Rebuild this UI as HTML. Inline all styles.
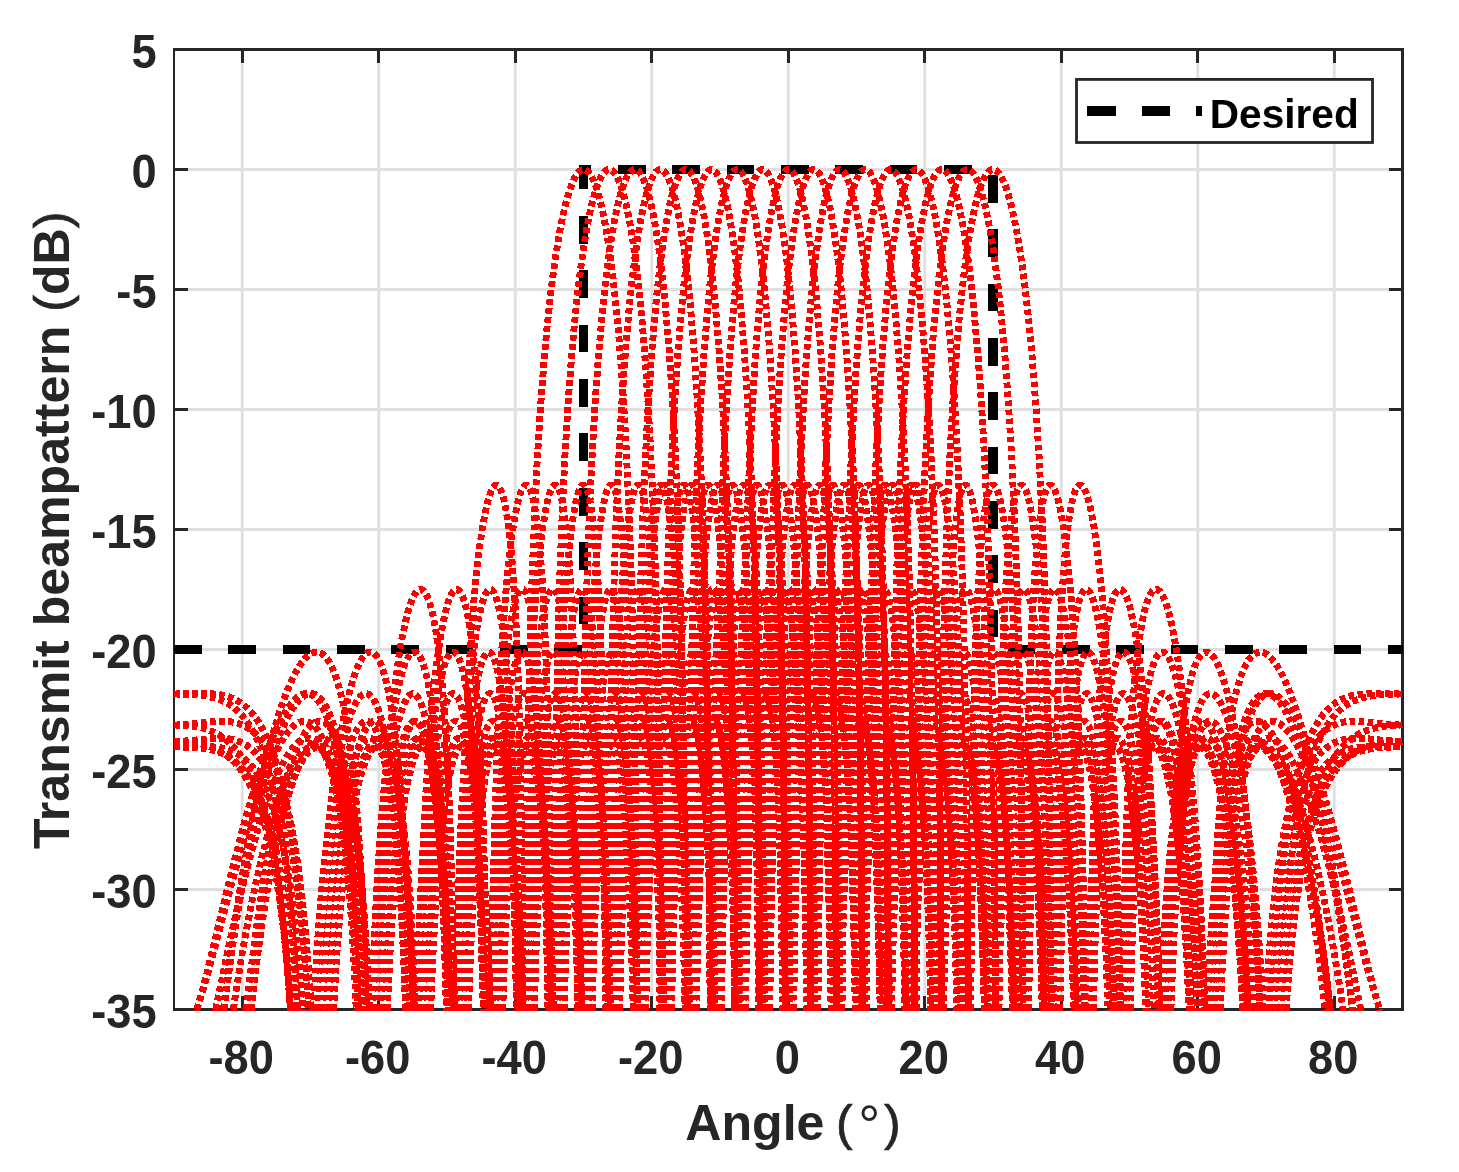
<!DOCTYPE html>
<html><head><meta charset="utf-8"><title>Transmit beampattern</title>
<style>
html,body{margin:0;padding:0;background:#fff;}
svg{display:block;}
text{font-family:"Liberation Sans",sans-serif;font-weight:bold;fill:#262626;}
.tk{font-size:48.8px;}
.lb{font-size:50.1px;}
.rg{font-weight:normal;stroke:#262626;stroke-width:0.7px;}
.lg{font-size:41.3px;fill:#000;}
</style></head><body>
<svg width="1459" height="1172" viewBox="0 0 1459 1172">
<rect x="0" y="0" width="1459" height="1172" fill="#fff"/>
<defs><clipPath id="ax"><rect x="174.0" y="49.5" width="1229.0" height="961.5"/></clipPath></defs>
<path d="M242.25 49.5V1009.5M378.75 49.5V1009.5M515.25 49.5V1009.5M651.75 49.5V1009.5M788.25 49.5V1009.5M924.75 49.5V1009.5M1061.25 49.5V1009.5M1197.75 49.5V1009.5M1334.25 49.5V1009.5M174.0 169.50H1402.5M174.0 289.50H1402.5M174.0 409.50H1402.5M174.0 529.50H1402.5M174.0 649.50H1402.5M174.0 769.50H1402.5M174.0 889.50H1402.5" stroke="#dfdfdf" stroke-width="2.8" fill="none"/>
<path d="M241 48h3v15h-3zM241 996h3v15h-3zM377 48h3v15h-3zM377 996h3v15h-3zM514 48h3v15h-3zM514 996h3v15h-3zM650 48h3v15h-3zM650 996h3v15h-3zM787 48h3v15h-3zM787 996h3v15h-3zM923 48h3v15h-3zM923 996h3v15h-3zM1060 48h3v15h-3zM1060 996h3v15h-3zM1196 48h3v15h-3zM1196 996h3v15h-3zM1333 48h3v15h-3zM1333 996h3v15h-3zM173 168h15v3h-15zM1389 168h15v3h-15zM173 288h15v3h-15zM1389 288h15v3h-15zM173 408h15v3h-15zM1389 408h15v3h-15zM173 528h15v3h-15zM1389 528h15v3h-15zM173 648h15v3h-15zM1389 648h15v3h-15zM173 768h15v3h-15zM1389 768h15v3h-15zM173 888h15v3h-15zM1389 888h15v3h-15zM173 48H1404V51H173zM173 1008H1404V1011H173zM173 48h2V1011h-2zM1401 48h3V1011h-3z" fill="#262626" shape-rendering="crispEdges"/>
<g clip-path="url(#ax)" fill="none" shape-rendering="crispEdges">
<path d="M174.0 649.50H583.50V169.50H993.00V649.50H1404.5" stroke="#000" stroke-width="9.6" stroke-dasharray="27.7 26.65" stroke-linejoin="miter"/>
<g stroke="#ff0000" stroke-width="6.9" stroke-dasharray="5.63 3.414" stroke-linejoin="round">
<path d="M223.4 1009.5L228.1 971.3L233.1 934.8L238.4 899.8L243.9 866.3L249.6 834.7L255.6 805.0L261.7 777.2L267.9 751.9L274.2 729.2L280.5 709.0L286.8 691.8L290.0 684.3L293.0 677.6L296.1 671.6L299.1 666.5L302.1 662.0L305.0 658.5L308.0 655.6L310.8 653.6L313.6 652.4L316.4 652.0L318.9 652.4L321.4 653.4L323.7 655.1L326.1 657.6L328.4 660.8L330.7 664.7L332.9 669.3L335.0 674.6L337.0 680.6L339.0 687.2L342.9 702.8L346.3 720.8L349.6 741.9L352.5 765.1L355.2 790.9L357.7 819.8L359.8 851.3L361.8 886.2L363.5 923.4L365.0 963.9L366.4 1009.5M376.6 1009.5L377.9 961.0L379.3 917.0L380.9 875.8L382.8 837.5L384.8 801.9L387.1 768.0L389.7 736.9L392.4 708.5L395.5 681.7L398.7 658.3L402.1 637.9L405.7 620.5L407.6 613.2L409.4 606.9L411.2 601.6L413.1 597.2L415.0 593.7L416.8 591.2L418.7 589.8L420.5 589.3L422.2 589.7L423.9 591.0L425.5 593.1L427.1 596.2L428.7 600.0L430.3 604.8L431.8 610.3L433.3 616.9L436.1 632.2L438.7 650.7L441.1 672.2L443.3 697.6L445.2 724.2L447.0 754.5L448.6 787.5L450.0 824.9L451.2 864.9L452.3 909.7L454.0 1009.5M459.1 1009.5L460.0 948.9L461.0 892.0L462.2 841.7L463.5 794.5L465.1 750.5L466.9 708.5L469.0 670.2L471.2 635.3L473.8 602.0L476.6 572.6L479.6 547.0L482.8 525.2L484.5 516.0L486.2 507.8L487.9 500.9L489.6 495.2L491.3 490.8L493.0 487.6L494.7 485.6L495.5 485.2L496.3 485.0L497.1 485.1L497.8 485.5L499.3 487.1L500.8 489.8L502.2 493.5L503.6 498.2L504.9 504.1L507.5 518.6L509.8 537.0L511.9 559.1L513.8 584.8L515.6 615.4L517.1 648.5L518.5 686.8L519.6 728.7L520.6 773.1L522.1 877.0L523.1 1009.5M525.3 1009.5L526.0 903.2L527.1 805.6L528.4 722.5L529.9 650.4L531.9 582.7L534.4 518.5L537.2 460.2L540.6 406.1L544.6 354.1L546.8 329.7L549.2 307.2L551.6 286.1L554.2 266.3L556.9 248.3L559.6 232.2L562.4 217.9L565.3 205.1L568.3 194.4L571.3 185.5L574.3 178.6L575.8 175.8L577.4 173.5L578.9 171.8L580.4 170.5L582.0 169.7L583.5 169.5L585.0 169.7L586.4 170.4L587.9 171.6L589.4 173.2L590.9 175.4L592.3 178.0L595.2 184.6L598.0 192.9L600.7 203.1L603.4 215.0L606.0 228.7L608.5 244.1L610.9 260.9L613.2 279.6L615.4 300.1L617.6 321.8L619.5 344.8L623.2 395.9L626.3 450.0L628.9 508.1L631.1 571.1L632.9 641.4L634.3 715.9L635.5 801.2L636.4 899.0L637.0 1009.5M638.9 1009.5L639.7 878.9L641.0 775.8L642.7 690.4L643.8 652.4L645.0 618.7L646.4 587.7L648.0 561.2L649.7 538.7L651.6 519.5L653.7 504.5L655.8 493.7L656.9 490.0L658.1 487.2L659.3 485.6L659.9 485.2L660.5 485.0L661.1 485.2L661.7 485.6L663.0 487.5L664.3 490.6L665.6 494.9L666.9 500.6L668.1 507.1L670.6 523.9L673.0 545.5L675.2 570.6L677.2 599.8L679.1 632.0L680.7 666.9L682.1 704.0L683.4 744.9L684.6 790.2L686.4 891.1L687.7 1009.5M691.2 1009.5L692.4 909.5L693.9 827.2L695.8 756.5L698.2 699.5L699.7 674.2L701.2 652.0L702.9 633.4L704.6 617.8L706.6 605.3L708.5 596.3L709.6 593.2L710.6 591.0L711.6 589.7L712.6 589.3L713.7 589.8L714.8 591.2L715.9 593.7L716.9 596.9L719.0 606.3L721.1 619.3L723.1 635.7L725.0 655.9L726.8 679.0L728.4 704.9L729.9 733.6L731.3 764.9L733.6 834.9L735.4 916.9L736.8 1009.5M741.8 1009.5L743.0 929.2L744.6 857.8L746.7 796.9L749.1 747.6L750.4 726.2L751.9 706.9L753.5 690.7L755.2 676.8L757.0 666.0L758.8 658.2L759.7 655.6L760.7 653.6L761.6 652.4L762.6 652.0L763.5 652.4L764.6 653.7L765.5 655.6L766.5 658.4L768.4 666.4L770.2 677.3L772.0 691.1L773.7 707.8L775.4 727.4L776.9 749.1L779.6 800.6L781.8 860.3L783.7 929.6L785.1 1009.5M791.4 1009.5L792.8 937.3L794.5 875.2L796.6 822.4L799.0 777.3L800.4 758.2L801.8 741.5L803.3 727.4L805.0 715.1L806.7 705.6L808.4 698.9L809.3 696.5L810.2 694.8L811.0 693.8L811.9 693.5L812.9 693.9L813.8 695.0L814.7 696.8L815.6 699.2L817.3 706.2L819.0 715.7L820.7 727.5L822.3 742.4L823.9 759.8L825.3 779.0L827.9 823.5L830.2 877.0L832.0 937.5L833.6 1009.5M841.0 1009.5L842.5 944.0L844.3 887.4L846.4 838.6L848.9 797.7L850.2 780.2L851.7 764.9L853.2 751.8L854.7 740.9L856.4 732.3L858.1 726.0L858.9 724.0L859.8 722.4L860.6 721.5L861.5 721.2L862.4 721.5L863.3 722.5L864.1 724.1L865.0 726.2L866.7 732.4L868.4 741.3L870.0 752.4L871.6 765.8L873.1 781.3L874.5 799.1L877.1 840.3L879.4 889.3L881.3 946.1L882.8 1009.5M891.4 1009.5L892.9 947.3L894.8 894.6L897.0 848.8L899.4 811.1L900.8 794.7L902.3 779.7L903.9 767.0L905.4 756.8L907.1 748.8L908.8 742.9L909.6 741.0L910.5 739.4L911.3 738.6L912.2 738.3L913.1 738.5L914.0 739.4L914.9 740.9L915.7 742.9L917.4 748.7L919.1 756.9L920.7 767.2L922.3 779.6L923.9 794.7L925.3 811.2L927.9 849.2L930.2 895.3L932.2 948.5L933.8 1009.5M943.3 1009.5L945.0 951.5L946.9 899.3L949.3 854.3L951.9 816.6L953.3 800.8L954.9 786.3L956.6 774.0L958.2 764.3L959.9 756.5L961.7 750.9L962.6 748.9L963.4 747.6L964.3 746.7L965.2 746.5L966.2 746.8L967.1 747.7L968.0 749.1L968.8 751.0L970.6 756.7L972.4 764.7L974.1 774.7L975.7 786.8L977.4 801.5L978.9 817.6L981.6 854.9L984.1 900.3L986.1 951.3L987.8 1009.5M998.2 1009.5L1000.0 949.4L1002.1 898.5L1004.7 853.7L1007.5 816.4L1009.1 800.5L1010.8 786.1L1012.6 773.9L1014.4 764.2L1016.2 756.5L1018.1 750.9L1019.1 749.0L1020.0 747.6L1021.0 746.8L1022.0 746.5L1023.0 746.8L1024.0 747.6L1025.0 749.2L1026.0 751.1L1027.9 756.7L1029.8 764.6L1031.6 774.6L1033.5 787.1L1035.2 801.1L1036.8 817.2L1039.8 854.7L1042.5 899.7L1044.7 950.9L1046.6 1009.5M1057.9 1009.5L1060.0 947.5L1062.3 895.0L1065.2 848.7L1066.8 828.7L1068.5 810.2L1070.3 794.0L1072.2 779.4L1074.1 767.1L1076.3 756.6L1078.4 748.7L1080.6 743.0L1081.7 740.9L1082.8 739.4L1083.9 738.6L1085.1 738.3L1086.2 738.6L1087.4 739.5L1088.6 741.0L1089.6 742.9L1091.9 748.8L1094.1 757.0L1096.3 767.6L1098.4 779.9L1100.4 794.8L1102.3 811.5L1104.1 829.8L1105.8 850.3L1108.9 896.7L1111.5 949.6L1113.6 1009.5M1126.1 1009.5L1128.5 944.4L1130.0 914.2L1131.5 887.4L1133.1 862.5L1135.0 838.6L1136.9 816.8L1139.1 797.2L1141.3 779.7L1143.7 764.4L1146.2 751.5L1148.7 740.8L1151.5 732.2L1152.8 728.9L1154.3 726.1L1155.7 723.9L1157.1 722.4L1158.6 721.5L1160.0 721.2L1161.5 721.5L1163.0 722.5L1164.5 724.1L1166.0 726.3L1167.5 729.2L1168.9 732.6L1171.9 741.5L1174.7 752.9L1177.5 766.4L1180.1 781.8L1182.6 799.8L1185.0 819.9L1187.2 841.3L1189.2 864.7L1191.1 890.0L1192.9 917.5L1194.5 945.8L1197.3 1009.5M1212.6 1009.5L1214.3 970.5L1216.1 934.8L1218.2 901.9L1220.4 871.7L1222.9 843.5L1225.7 818.0L1228.6 795.0L1231.8 774.1L1235.3 755.4L1239.0 739.2L1242.9 725.3L1245.0 719.3L1247.1 713.9L1249.3 709.1L1251.5 705.1L1253.8 701.5L1256.1 698.6L1258.5 696.4L1260.9 694.8L1263.3 693.9L1265.9 693.5L1268.5 693.9L1271.2 694.9L1273.9 696.7L1276.7 699.1L1279.5 702.3L1282.3 706.0L1285.2 710.5L1288.0 715.7L1290.9 721.5L1293.8 728.1L1299.6 742.9L1305.5 760.5L1311.3 780.4L1317.0 802.3L1322.6 826.5L1328.0 852.7L1333.4 880.9L1338.4 910.4L1343.3 941.9L1348.0 975.0L1352.5 1009.5"/>
<path d="M174.0 694.0L184.5 694.2L193.5 694.6L201.0 695.3L207.6 696.3L213.7 697.7L219.2 699.5L224.4 701.7L229.3 704.4L234.0 707.8L238.5 711.8L242.8 716.4L246.8 721.5L250.7 727.5L254.4 734.1L257.9 741.3L261.2 749.2L264.6 758.4L267.8 768.5L270.8 779.6L273.7 791.3L276.4 804.0L279.0 817.7L281.5 832.3L283.8 847.9L285.9 864.0L288.0 881.6L291.7 919.6L294.9 962.2L297.6 1009.5M316.5 1009.5L318.3 970.7L320.3 933.3L322.6 898.4L325.1 865.1L327.8 834.3L330.8 805.2L334.0 778.4L337.5 753.9L341.2 730.8L345.1 710.7L349.1 693.3L353.3 678.7L355.4 672.5L357.5 667.1L359.7 662.4L361.8 658.7L363.9 655.8L366.1 653.7L368.2 652.4L370.2 652.0L372.1 652.4L374.0 653.5L375.9 655.3L377.7 657.9L379.5 661.2L381.3 665.3L383.0 670.0L384.6 675.4L387.8 688.5L390.8 704.3L393.6 722.7L396.2 743.9L398.5 767.0L400.7 793.3L402.7 822.3L404.5 853.9L406.1 887.9L407.5 926.1L408.7 966.6L409.8 1009.5M418.3 1009.5L419.4 963.2L420.6 918.4L422.0 876.0L423.6 837.6L425.4 801.6L427.3 767.9L429.5 736.7L431.9 708.0L434.6 681.2L437.4 657.9L440.4 637.4L443.5 620.6L446.7 607.1L448.3 601.7L449.9 597.3L451.6 593.7L453.3 591.3L454.9 589.8L456.6 589.3L458.1 589.7L459.6 591.0L461.1 593.2L462.5 596.1L463.9 600.1L465.4 605.0L468.0 616.9L470.5 632.3L472.9 651.1L475.1 672.9L477.1 697.6L478.9 724.9L480.4 754.4L481.9 787.5L483.2 824.5L484.3 866.0L485.3 909.0L486.8 1009.5M491.5 1009.5L493.2 894.3L494.3 842.4L495.6 793.7L497.1 748.4L498.7 708.1L500.6 669.4L502.8 634.1L505.1 601.3L507.7 572.0L510.5 546.4L513.5 524.6L516.6 507.6L518.2 500.7L519.8 495.2L521.4 490.6L523.0 487.5L524.5 485.7L525.4 485.2L526.1 485.0L526.9 485.2L527.5 485.6L528.9 487.2L530.3 489.8L531.6 493.7L532.9 498.5L534.2 504.2L536.5 518.8L538.7 537.2L540.8 560.0L542.6 585.5L544.2 615.6L545.6 649.1L546.8 685.5L547.9 726.7L548.9 773.4L550.3 878.7L551.3 1009.5M553.4 1009.5L554.1 900.8L555.0 805.3L556.3 722.5L557.8 650.0L559.7 579.2L562.1 516.3L564.8 458.3L568.0 404.3L571.9 352.2L574.0 328.3L576.2 306.3L578.5 285.5L581.0 266.0L583.5 248.2L586.2 231.9L588.9 217.4L591.6 205.0L594.5 194.2L597.4 185.4L600.3 178.4L601.7 175.7L603.2 173.4L604.7 171.8L606.2 170.5L607.7 169.7L609.1 169.5L610.5 169.7L612.0 170.4L613.4 171.6L614.8 173.3L616.3 175.5L617.6 178.0L620.4 184.7L623.2 193.2L625.8 203.4L628.4 215.4L630.9 229.2L633.4 244.8L635.7 261.7L638.0 280.4L640.1 301.0L642.2 322.7L644.2 346.5L647.7 397.4L650.7 452.0L653.3 510.5L655.4 573.8L657.1 643.9L658.6 721.4L659.7 805.3L660.5 898.7L661.1 1009.5M662.9 1009.5L663.8 878.4L665.0 773.8L666.7 687.7L667.7 651.7L668.9 617.5L670.3 587.5L671.9 560.5L673.6 537.8L675.4 519.1L677.4 504.4L679.5 493.7L680.6 490.0L681.8 487.2L682.9 485.5L683.5 485.2L684.1 485.0L684.7 485.2L685.3 485.6L686.6 487.4L687.9 490.6L689.1 494.8L690.4 500.5L691.6 507.2L694.0 523.8L696.2 544.3L698.4 569.6L700.5 599.0L702.3 631.6L704.0 667.0L705.4 704.8L706.7 746.6L707.8 789.9L709.6 892.5L710.9 1009.5M714.3 1009.5L715.4 912.1L716.9 828.0L718.8 758.3L721.2 700.2L722.7 674.5L724.2 652.8L725.8 633.9L727.6 618.0L729.4 605.7L731.4 596.5L732.4 593.3L733.4 591.0L734.5 589.7L735.5 589.3L736.5 589.7L737.6 591.1L738.7 593.6L739.7 596.7L741.8 606.2L743.9 619.2L745.9 635.8L747.7 655.4L749.5 678.5L751.1 704.6L752.6 732.0L753.9 763.2L756.2 833.1L758.1 914.7L759.5 1009.5M764.4 1009.5L765.7 929.0L767.3 857.4L769.3 796.4L771.7 747.0L773.1 725.7L774.6 706.4L776.2 690.2L777.9 676.4L779.7 665.7L781.4 658.2L782.3 655.6L783.3 653.6L784.2 652.4L785.2 652.0L786.1 652.4L787.2 653.7L788.1 655.7L789.1 658.5L791.0 666.5L792.8 677.4L794.6 691.3L796.3 708.0L797.9 727.7L799.4 749.4L802.2 801.0L804.4 860.9L806.3 930.4L807.7 1009.5M814.0 1009.5L815.4 937.2L817.1 875.3L819.2 822.6L821.6 777.5L823.0 758.4L824.5 741.1L826.0 727.1L827.6 715.0L829.3 705.5L831.0 698.9L831.9 696.5L832.8 694.8L833.7 693.8L834.6 693.5L835.5 693.9L836.4 695.0L837.3 696.7L838.2 699.2L840.0 706.0L841.8 715.8L843.5 728.2L845.1 743.1L846.7 760.6L848.1 779.7L850.7 824.2L853.0 877.4L854.9 940.1L856.4 1009.5M863.9 1009.5L865.4 945.2L867.2 886.9L869.3 838.7L871.8 798.1L873.2 780.7L874.7 764.8L876.2 751.3L877.8 740.6L879.4 732.2L881.1 726.0L882.0 724.0L882.8 722.4L883.7 721.5L884.6 721.2L885.5 721.5L886.4 722.5L887.3 724.1L888.2 726.3L889.9 732.8L891.6 741.7L893.3 752.7L894.9 765.9L896.4 782.0L897.9 799.7L900.5 840.4L902.7 888.5L904.6 943.9L906.3 1009.5M915.0 1009.5L916.5 949.5L918.4 895.4L920.7 848.9L923.2 810.9L924.5 794.9L926.0 780.1L927.6 767.5L929.3 757.1L931.0 748.8L932.7 743.0L933.6 740.9L934.4 739.5L935.3 738.6L936.2 738.3L937.2 738.6L938.1 739.5L938.9 741.0L939.8 743.1L941.6 749.1L943.3 757.2L945.0 767.3L946.6 780.0L948.2 794.8L949.7 811.7L952.3 850.0L954.7 896.5L956.7 948.6L958.4 1009.5M968.2 1009.5L969.9 950.0L971.9 898.0L974.3 853.4L977.0 816.1L978.5 800.1L980.1 786.2L981.7 774.3L983.4 764.4L985.2 756.6L987.1 750.9L987.9 749.0L988.9 747.6L989.8 746.8L990.7 746.5L991.7 746.8L992.7 747.7L993.6 749.2L994.5 751.1L996.3 756.7L998.2 764.8L1000.0 774.9L1001.7 787.1L1003.3 801.2L1004.9 817.4L1007.7 855.0L1010.3 899.9L1012.4 950.3L1014.2 1009.5M1025.0 1009.5L1026.9 950.1L1029.2 898.2L1031.8 853.2L1034.8 816.1L1036.5 800.3L1038.2 786.0L1040.0 774.3L1041.9 764.3L1043.9 756.5L1045.9 750.9L1046.9 749.0L1047.9 747.6L1049.0 746.7L1050.0 746.5L1051.0 746.7L1052.1 747.6L1053.1 749.1L1054.2 751.0L1056.2 756.7L1058.2 764.7L1060.2 774.9L1062.1 787.1L1064.0 801.5L1065.7 817.3L1067.3 835.2L1068.9 855.1L1071.7 899.7L1074.1 950.9L1076.1 1009.5M1088.1 1009.5L1090.3 948.0L1092.9 894.9L1096.0 848.8L1097.7 828.6L1099.5 810.1L1101.5 793.4L1103.6 779.0L1105.7 766.9L1107.9 756.6L1110.3 748.6L1112.6 742.8L1113.8 740.9L1115.0 739.4L1116.3 738.6L1117.5 738.3L1118.7 738.5L1120.0 739.5L1121.3 741.0L1122.5 743.1L1125.0 748.9L1127.5 757.2L1129.8 767.8L1132.2 780.5L1134.3 795.1L1136.5 811.9L1138.4 830.4L1140.3 850.5L1142.1 873.0L1143.7 897.1L1146.6 949.9L1148.9 1009.5M1163.0 1009.5L1164.3 975.0L1165.7 943.6L1167.3 914.5L1169.1 886.6L1171.0 861.2L1173.1 837.3L1175.4 815.9L1177.8 796.7L1180.3 779.3L1183.1 764.1L1185.9 751.2L1188.9 740.5L1192.1 732.1L1193.7 728.7L1195.4 726.0L1197.0 723.9L1198.7 722.4L1200.4 721.5L1202.1 721.2L1203.9 721.5L1205.7 722.5L1207.4 724.1L1209.3 726.4L1211.1 729.4L1212.9 732.9L1216.5 741.9L1219.9 753.3L1223.3 766.9L1226.6 782.9L1229.7 801.0L1232.6 820.9L1235.4 842.4L1237.9 866.0L1240.3 891.0L1242.5 917.5L1244.6 946.2L1246.5 977.5L1248.2 1009.5M1268.8 1009.5L1271.8 960.2L1275.3 916.2L1277.2 896.2L1279.3 876.6L1281.5 858.8L1283.9 841.5L1286.4 825.3L1289.1 810.3L1291.9 796.4L1294.8 783.4L1297.9 771.3L1301.2 760.2L1304.7 750.0L1308.3 740.8L1311.8 733.1L1315.5 726.1L1319.3 719.9L1323.3 714.5L1327.4 709.8L1331.9 705.6L1336.5 702.2L1341.4 699.4L1346.1 697.4L1351.0 695.8L1356.4 694.7L1362.3 694.0L1367.7 693.6L1374.0 693.5L1402.5 694.0"/>
<path d="M197.0 1009.5L201.8 992.4L207.4 971.3L229.8 879.0L240.6 836.9L246.2 816.4L251.7 797.6L257.0 780.4L262.2 764.8L268.3 748.2L274.2 733.8L280.0 721.5L285.7 711.4L288.4 707.2L291.1 703.6L293.8 700.5L296.4 698.0L299.0 696.0L301.6 694.7L304.1 693.8L306.5 693.5L309.1 693.8L311.6 694.8L314.0 696.3L316.4 698.5L318.7 701.4L320.9 704.8L323.1 708.8L325.3 713.6L327.4 718.7L329.4 724.7L333.3 738.5L336.9 754.6L340.3 773.1L343.3 793.7L346.2 817.1L348.8 842.6L351.2 871.0L353.3 901.3L355.2 934.4L356.9 970.5L358.4 1009.5M371.8 1009.5L373.2 968.8L374.7 932.1L376.4 896.9L378.3 863.7L380.5 832.5L382.7 804.1L385.2 777.0L387.9 752.6L390.8 729.8L393.9 709.9L397.1 692.7L400.5 678.2L403.9 666.9L405.6 662.4L407.3 658.6L409.1 655.7L410.8 653.6L412.5 652.4L414.2 652.0L415.9 652.4L417.4 653.5L419.0 655.3L420.6 658.0L422.1 661.3L423.6 665.4L426.5 675.9L429.3 689.1L431.8 705.1L434.2 723.6L436.5 745.1L438.5 768.9L440.4 794.8L442.1 823.7L443.6 854.5L445.0 888.5L446.2 925.8L448.2 1009.5M455.8 1009.5L457.8 917.4L459.1 874.5L460.5 835.5L462.1 800.1L463.9 766.5L465.8 735.2L468.0 707.0L470.3 680.5L472.9 657.2L475.5 637.2L478.3 620.3L481.3 606.8L482.7 601.6L484.2 597.2L485.7 593.8L487.2 591.3L488.7 589.8L490.2 589.3L491.6 589.7L493.0 591.0L494.4 593.2L495.7 596.4L497.0 600.3L498.3 605.2L500.8 617.3L503.1 632.7L505.3 651.4L507.3 673.7L509.2 698.7L510.8 726.1L512.2 755.4L513.6 789.7L514.8 825.7L516.7 907.8L518.1 1009.5M522.5 1009.5L524.1 892.0L525.1 840.4L526.4 791.5L527.7 747.8L529.3 706.7L531.1 668.6L533.1 633.5L535.3 600.6L537.8 571.2L540.4 546.1L543.2 524.6L546.0 507.7L547.5 500.8L549.0 495.1L550.5 490.7L552.0 487.6L553.5 485.7L554.3 485.2L555.0 485.0L555.7 485.2L556.4 485.6L557.7 487.2L559.0 489.9L560.2 493.5L561.5 498.3L562.7 504.3L564.9 518.8L567.1 537.6L569.0 560.0L570.7 585.8L572.2 616.2L573.6 649.8L574.8 685.9L576.7 771.7L578.0 875.2L579.0 1009.5M581.0 1009.5L581.7 901.4L582.5 808.0L583.7 725.2L585.2 649.2L587.0 580.4L589.3 516.4L592.0 457.6L595.0 403.9L598.8 351.6L603.0 305.6L605.2 284.7L607.5 265.7L610.0 247.8L612.5 231.8L615.1 217.5L617.8 205.0L620.5 194.3L623.3 185.4L626.1 178.5L627.5 175.8L629.0 173.5L630.4 171.8L631.8 170.5L633.3 169.8L634.7 169.5L636.1 169.8L637.5 170.5L638.9 171.6L640.2 173.3L641.6 175.4L642.9 178.0L645.7 184.6L648.3 193.1L650.9 203.3L653.5 215.7L656.0 229.5L658.4 245.1L660.7 262.4L662.9 281.1L665.0 301.5L668.9 346.5L672.4 397.6L675.2 450.8L677.8 510.3L679.9 575.0L681.6 643.9L682.9 718.8L684.0 803.5L684.9 898.2L685.5 1009.5M687.2 1009.5L688.1 879.7L689.3 773.0L691.0 686.1L692.0 649.8L693.2 617.2L694.5 586.8L696.0 560.6L697.7 538.3L699.5 519.2L701.5 504.3L703.6 493.8L704.6 490.0L705.7 487.3L706.9 485.6L707.4 485.2L708.1 485.0L708.7 485.2L709.3 485.6L710.5 487.5L711.8 490.7L713.0 495.0L714.3 500.5L715.5 507.3L717.9 524.2L720.1 545.1L722.3 570.0L724.2 598.9L726.1 631.9L727.6 666.2L729.1 704.2L730.4 746.4L731.5 790.2L733.2 889.6L734.5 1009.5M738.0 1009.5L739.0 911.0L740.5 826.6L742.5 756.9L744.8 700.2L746.2 674.3L747.7 652.5L749.3 633.6L751.1 618.2L752.9 605.7L754.9 596.5L755.8 593.5L756.9 591.1L757.9 589.7L758.9 589.3L759.9 589.7L761.0 591.1L762.1 593.5L763.1 596.7L765.2 606.2L767.3 619.3L769.3 636.1L771.1 655.8L772.8 678.2L774.5 704.2L775.9 731.7L777.3 762.9L779.6 833.0L781.4 914.9L782.8 1009.5M787.8 1009.5L789.0 927.9L790.6 856.6L792.7 795.8L795.1 746.6L796.4 725.3L797.9 706.1L799.5 690.0L801.2 676.2L803.0 665.5L804.8 658.1L805.7 655.5L806.6 653.5L807.6 652.4L808.5 652.0L809.5 652.4L810.5 653.7L811.5 655.7L812.4 658.5L814.3 666.5L816.2 677.5L817.9 691.3L819.6 708.0L821.3 727.6L822.8 749.3L825.5 800.6L827.8 860.0L829.6 928.7L831.1 1009.5M837.4 1009.5L838.8 938.0L840.5 876.2L842.6 822.0L845.1 777.4L846.5 758.4L848.0 741.2L849.5 727.2L851.1 715.2L852.8 705.7L854.5 699.1L855.4 696.7L856.3 694.9L857.2 693.9L858.1 693.5L859.0 693.9L860.0 694.9L860.9 696.8L861.8 699.2L863.6 706.0L865.4 715.6L867.1 727.8L868.7 742.5L870.3 759.6L871.8 779.3L874.4 824.4L876.7 877.0L878.6 938.6L880.2 1009.5M887.8 1009.5L889.3 944.2L891.2 886.9L893.4 838.0L895.8 798.1L897.2 780.9L898.7 765.2L900.2 751.9L901.9 740.8L903.6 732.1L905.3 726.1L906.2 723.9L907.1 722.4L908.0 721.5L908.8 721.2L909.8 721.5L910.7 722.5L911.6 724.1L912.5 726.3L914.2 732.7L915.9 741.2L917.7 752.5L919.3 766.0L920.9 781.7L922.3 798.9L925.0 840.8L927.3 889.6L929.3 946.4L930.9 1009.5M939.8 1009.5L941.4 949.3L943.4 894.8L945.7 848.3L948.3 810.4L949.7 794.1L951.3 779.2L952.9 766.6L954.6 756.6L956.3 748.7L958.1 742.9L958.9 740.9L959.8 739.4L960.7 738.6L961.7 738.3L962.6 738.6L963.5 739.5L964.5 741.0L965.4 743.1L967.1 748.8L968.9 756.9L970.6 767.2L972.3 779.9L974.0 794.9L975.5 811.3L978.3 850.2L980.7 896.5L982.8 948.6L984.5 1009.5M994.6 1009.5L996.4 949.8L998.5 898.1L1001.0 853.8L1003.8 816.8L1005.4 800.6L1007.0 786.6L1008.7 774.6L1010.5 764.6L1012.3 756.8L1014.2 751.0L1015.2 749.1L1016.1 747.6L1017.1 746.8L1018.1 746.5L1019.1 746.7L1020.1 747.6L1021.1 749.1L1022.1 751.1L1024.0 756.7L1025.9 764.7L1027.7 774.7L1029.6 787.2L1031.3 801.3L1032.9 817.4L1035.9 854.9L1038.6 899.9L1040.8 951.0L1042.7 1009.5M1054.2 1009.5L1056.1 950.7L1058.5 898.6L1061.3 853.8L1062.9 833.9L1064.5 816.3L1066.3 800.2L1068.1 786.2L1070.1 774.4L1072.1 764.3L1074.2 756.4L1076.3 750.9L1077.4 749.0L1078.5 747.6L1079.6 746.7L1080.7 746.5L1081.8 746.7L1083.0 747.6L1084.1 749.2L1085.2 751.2L1087.4 756.8L1089.6 764.8L1091.7 775.0L1093.7 787.2L1095.7 801.5L1097.6 817.3L1099.3 835.3L1101.0 855.4L1104.0 899.6L1106.6 950.8L1108.8 1009.5M1122.0 1009.5L1124.4 947.4L1127.2 894.1L1128.9 870.1L1130.7 847.9L1132.6 827.5L1134.6 809.6L1136.7 793.0L1139.0 778.8L1141.4 766.6L1143.8 756.5L1146.4 748.5L1147.7 745.4L1149.1 742.8L1150.5 740.8L1151.8 739.4L1153.2 738.5L1154.5 738.3L1155.9 738.6L1157.3 739.5L1158.8 741.0L1160.2 743.1L1161.6 745.8L1163.0 749.0L1165.8 757.4L1168.5 768.0L1171.1 780.5L1173.7 795.3L1176.1 812.3L1178.4 830.7L1180.6 851.4L1182.6 874.0L1184.4 897.5L1186.2 923.7L1187.8 950.5L1190.5 1009.5M1207.2 1009.5L1208.7 975.4L1210.5 943.1L1212.5 912.9L1214.7 885.0L1217.1 859.2L1219.7 835.6L1222.5 814.2L1225.5 795.0L1228.7 778.0L1232.1 762.9L1235.8 750.2L1239.6 739.8L1241.6 735.5L1243.6 731.6L1245.7 728.5L1247.8 725.8L1249.9 723.8L1252.1 722.3L1254.3 721.5L1256.6 721.2L1259.0 721.5L1261.4 722.5L1263.9 724.1L1266.3 726.4L1268.9 729.3L1271.4 732.8L1273.9 737.0L1276.5 741.9L1279.0 747.3L1281.6 753.4L1286.7 767.3L1291.8 783.4L1296.8 801.8L1301.6 822.2L1306.3 844.3L1310.8 868.3L1315.0 893.5L1319.0 920.4L1322.9 948.9L1326.4 978.6L1329.7 1009.5"/>
<path d="M174.0 725.0L181.7 725.2L189.1 725.8L195.9 726.8L202.3 728.1L208.1 729.9L213.4 732.0L218.5 734.5L223.3 737.6L227.8 741.1L232.1 745.1L236.2 749.6L240.2 754.8L244.0 760.5L247.5 766.7L250.9 773.6L254.2 781.1L257.5 789.7L260.5 798.8L263.5 808.6L266.3 819.2L268.9 830.5L271.5 842.5L273.8 855.2L276.2 869.0L280.4 898.9L284.2 932.0L287.5 969.1L290.4 1009.5M313.5 1009.5L315.4 975.0L317.5 942.3L319.9 911.4L322.4 881.6L325.2 854.4L328.2 828.4L331.4 804.4L334.7 782.7L338.3 762.5L342.1 744.8L346.0 729.4L349.9 716.7L351.9 711.4L354.0 706.6L356.0 702.6L358.0 699.4L360.0 696.8L362.0 695.0L364.0 693.9L366.0 693.5L367.8 693.9L369.7 694.9L371.4 696.5L373.2 698.8L375.0 701.8L376.7 705.4L378.3 709.6L380.0 714.5L383.1 726.1L386.1 740.0L388.9 756.6L391.4 775.3L393.8 796.2L396.0 819.2L398.1 844.9L399.9 872.6L401.6 903.3L403.1 936.0L404.5 971.9L405.7 1009.5M416.7 1009.5L419.2 931.2L420.6 896.2L422.2 862.5L424.0 831.6L426.0 802.3L428.1 775.8L430.3 751.7L432.8 729.6L435.5 709.5L438.3 692.1L441.1 677.9L444.1 666.7L445.6 662.3L447.1 658.6L448.6 655.7L450.1 653.6L451.6 652.4L453.1 652.0L454.6 652.4L455.9 653.5L457.4 655.4L458.7 658.0L460.1 661.4L461.4 665.4L464.0 675.9L466.5 689.2L468.8 705.3L471.0 724.2L472.9 745.3L474.8 769.2L476.4 794.8L478.0 824.4L479.4 855.5L481.7 926.4L483.5 1009.5M490.4 1009.5L492.2 915.7L494.7 835.4L496.1 800.0L497.8 766.3L499.6 735.6L501.5 706.9L503.7 680.5L506.0 657.3L508.6 636.7L511.2 619.9L513.9 606.5L515.3 601.2L516.6 597.0L518.0 593.6L519.4 591.1L520.8 589.7L522.1 589.3L523.4 589.7L524.7 591.1L526.0 593.3L527.3 596.4L528.5 600.4L529.7 605.0L532.0 617.2L534.2 632.7L536.2 651.5L538.1 673.6L539.8 698.2L541.4 726.2L542.8 755.9L544.1 790.7L545.1 827.0L546.9 908.3L548.3 1009.5M552.4 1009.5L553.9 890.8L554.9 840.1L556.1 791.3L557.4 747.4L558.9 706.1L560.6 667.5L562.4 633.2L564.6 599.7L566.9 570.7L569.4 545.7L572.0 524.3L574.8 507.5L576.2 500.6L577.6 495.0L579.1 490.6L580.5 487.5L581.9 485.6L582.6 485.2L583.3 485.0L584.0 485.2L584.6 485.6L585.8 487.1L587.0 489.8L588.3 493.5L589.4 498.2L590.6 504.1L592.8 518.8L594.8 537.7L596.7 560.3L598.3 586.2L599.8 616.5L601.1 649.8L602.2 685.1L604.0 770.6L605.4 878.8L606.3 1009.5M608.2 1009.5L608.9 897.1L609.7 808.3L610.9 722.9L612.3 648.1L614.1 579.7L616.3 515.6L618.9 456.5L621.8 403.5L625.4 351.5L629.4 305.6L631.6 284.7L633.9 265.6L636.3 247.7L638.7 231.7L641.2 217.4L643.8 204.9L646.5 194.1L649.2 185.3L652.0 178.4L653.3 175.7L654.8 173.4L656.1 171.7L657.5 170.5L658.9 169.7L660.3 169.5L661.6 169.7L663.0 170.5L664.4 171.7L665.7 173.4L668.4 178.1L671.1 184.8L673.7 193.2L676.2 203.5L678.7 215.8L681.1 229.5L683.5 245.4L685.7 262.6L687.9 281.6L690.0 301.8L693.8 347.0L697.2 398.1L700.0 450.9L702.5 509.7L704.5 573.0L706.2 642.5L707.6 718.3L708.7 804.3L709.5 901.2L710.1 1009.5M711.8 1009.5L712.6 879.8L713.9 772.0L715.5 687.2L716.5 650.3L717.7 617.1L719.0 586.4L720.5 560.0L722.2 537.6L724.0 519.1L725.9 504.1L728.0 493.5L729.0 490.0L730.1 487.2L731.2 485.6L731.7 485.2L732.4 485.0L733.0 485.2L733.6 485.6L734.8 487.5L736.0 490.6L737.3 494.9L738.5 500.4L739.7 507.2L742.1 524.2L744.4 545.4L746.5 570.7L748.5 599.9L750.2 632.1L751.8 666.7L753.2 705.2L755.6 789.4L757.3 889.1L758.6 1009.5M762.0 1009.5L763.1 908.8L764.6 827.9L766.5 757.4L768.8 700.3L770.2 674.3L771.7 652.4L773.4 633.4L775.1 618.0L776.9 605.6L778.9 596.4L779.9 593.3L780.9 591.0L781.9 589.7L782.9 589.3L784.0 589.7L785.0 591.2L786.1 593.7L787.2 596.9L789.3 606.6L791.3 619.8L793.3 636.7L795.1 656.6L796.8 679.2L798.5 705.5L799.9 733.2L801.3 764.7L803.6 835.6L805.4 915.0L806.8 1009.5M811.7 1009.5L813.0 928.5L814.6 857.1L816.6 796.2L819.0 747.0L820.4 725.7L821.9 706.5L823.5 690.3L825.2 676.5L826.9 665.8L828.8 658.1L829.7 655.5L830.6 653.5L831.6 652.4L832.5 652.0L833.5 652.4L834.5 653.7L835.5 655.7L836.4 658.4L838.3 666.3L840.3 677.6L842.1 691.9L843.8 708.6L845.4 728.2L846.9 749.9L849.7 800.9L851.9 859.9L853.8 930.9L855.3 1009.5M861.7 1009.5L863.1 936.6L864.8 875.7L866.9 822.1L869.4 777.9L870.8 759.0L872.3 741.9L873.8 727.4L875.5 715.4L877.2 706.0L879.0 699.1L879.8 696.7L880.8 694.9L881.7 693.9L882.6 693.5L883.6 693.9L884.6 695.0L885.5 696.9L886.4 699.3L888.2 706.3L890.0 715.9L891.7 728.0L893.4 743.1L895.0 760.1L896.5 779.5L899.2 823.8L901.5 877.0L903.5 940.0L905.0 1009.5M912.8 1009.5L914.3 945.0L916.2 888.4L918.3 839.9L920.9 798.3L922.4 780.6L923.9 765.3L925.4 752.1L927.1 740.9L928.8 732.3L930.6 726.1L931.5 724.0L932.4 722.4L933.3 721.5L934.2 721.2L935.1 721.5L936.1 722.4L937.0 724.1L937.9 726.2L939.8 732.6L941.5 741.3L943.2 752.2L945.0 765.9L946.6 781.9L948.1 799.5L950.8 840.4L953.2 889.2L955.3 946.2L956.9 1009.5M966.1 1009.5L967.7 947.8L969.7 895.1L972.0 849.7L974.8 810.8L976.3 794.2L977.8 779.8L979.5 767.4L981.3 756.8L983.0 748.8L984.9 742.9L985.8 741.0L986.7 739.5L987.7 738.6L988.6 738.3L989.6 738.6L990.5 739.4L991.5 740.9L992.5 743.0L994.3 748.8L996.1 756.9L997.9 767.1L999.7 779.8L1001.4 794.8L1003.0 811.2L1005.9 850.5L1008.4 896.2L1010.6 949.6L1012.4 1009.5M1023.0 1009.5L1024.8 950.8L1027.1 898.1L1029.7 853.6L1032.6 816.7L1034.2 800.6L1035.9 786.7L1037.7 774.8L1039.6 764.6L1041.6 756.6L1043.6 751.0L1044.6 749.0L1045.6 747.6L1046.6 746.8L1047.7 746.5L1048.7 746.7L1049.8 747.6L1050.8 749.1L1051.8 751.1L1053.9 756.7L1055.9 764.8L1057.9 775.0L1059.8 787.3L1061.7 801.6L1063.4 817.5L1065.0 835.3L1066.6 855.2L1069.4 899.6L1071.8 950.3L1073.8 1009.5M1086.0 1009.5L1088.2 949.6L1090.7 898.6L1093.7 854.0L1095.4 833.9L1097.2 816.3L1099.1 800.2L1101.1 786.4L1103.2 774.3L1105.4 764.4L1107.7 756.6L1110.0 751.0L1111.1 749.1L1112.4 747.6L1113.5 746.8L1114.8 746.5L1116.0 746.7L1117.2 747.6L1118.4 749.0L1119.7 751.1L1122.1 756.9L1124.5 764.9L1126.8 775.0L1129.1 787.1L1131.3 801.4L1133.4 817.9L1135.4 836.1L1137.2 855.8L1138.9 876.8L1140.6 900.2L1143.4 951.1L1145.9 1009.5M1160.7 1009.5L1163.4 946.9L1165.0 919.2L1166.7 893.6L1168.5 870.0L1170.6 847.6L1172.8 827.4L1175.1 809.2L1177.5 793.0L1180.2 778.6L1183.0 766.2L1185.9 756.3L1188.9 748.4L1190.4 745.4L1191.9 742.8L1193.5 740.8L1195.2 739.4L1196.7 738.6L1198.4 738.3L1200.1 738.6L1201.8 739.5L1203.5 741.0L1205.2 743.1L1206.9 745.8L1208.6 749.2L1211.9 757.4L1215.3 768.1L1218.6 781.1L1221.7 796.1L1224.7 813.0L1227.6 831.8L1230.2 852.0L1232.8 874.1L1235.2 898.1L1237.3 923.3L1239.4 950.6L1241.2 978.9L1242.9 1009.5M1265.3 1009.5L1268.4 962.9L1272.0 920.9L1274.1 901.2L1276.2 883.2L1278.4 866.3L1280.9 850.0L1283.5 834.7L1286.2 820.6L1289.1 807.6L1292.1 795.6L1295.2 784.6L1298.6 774.5L1302.0 765.3L1305.7 757.0L1309.1 750.5L1312.7 744.6L1316.4 739.4L1320.3 734.9L1324.4 731.1L1328.7 728.0L1333.2 725.5L1337.9 723.5L1342.0 722.4L1346.3 721.6L1351.0 721.2L1356.1 721.2L1365.2 721.8L1389.1 724.4L1395.9 724.9L1402.5 725.0"/>
<path d="M196.7 1009.5L202.2 992.5L208.5 970.8L231.8 883.1L242.3 845.6L247.4 828.2L252.5 812.1L257.4 797.5L262.2 784.2L268.0 769.4L273.6 756.7L279.1 745.8L284.4 737.0L287.0 733.3L289.6 730.1L292.1 727.4L294.7 725.1L297.1 723.4L299.6 722.2L302.0 721.4L304.3 721.2L306.7 721.4L309.2 722.3L311.6 723.7L313.9 725.8L316.2 728.3L318.4 731.5L320.5 735.1L322.6 739.4L324.7 744.3L326.7 749.6L330.5 762.1L334.1 776.9L337.5 793.8L340.6 813.0L343.5 834.2L346.1 857.7L348.5 882.8L350.8 911.2L352.7 941.0L354.6 974.4L356.2 1009.5M372.1 1009.5L373.5 974.4L375.1 941.1L376.8 909.2L378.8 879.7L380.9 851.8L383.1 826.2L385.5 802.9L388.1 781.1L390.9 761.2L393.8 743.9L396.8 729.0L399.9 716.3L403.1 706.4L404.7 702.6L406.3 699.3L408.0 696.8L409.6 695.0L411.2 693.9L412.8 693.5L414.4 693.9L415.9 694.9L417.4 696.6L418.8 698.8L420.2 701.8L421.7 705.4L424.5 714.6L427.1 726.4L429.7 740.6L432.1 757.3L434.2 776.0L436.3 797.0L438.1 819.7L439.9 845.7L441.5 873.1L442.9 903.0L444.2 935.4L446.4 1009.5M456.1 1009.5L458.3 931.3L461.0 862.2L462.6 831.4L464.3 801.9L466.2 775.9L468.2 751.4L470.5 728.7L472.8 709.3L475.3 692.3L477.8 678.0L480.5 666.7L481.9 662.2L483.2 658.6L484.6 655.7L486.0 653.6L487.3 652.4L488.7 652.0L490.0 652.4L491.3 653.5L492.6 655.4L493.8 658.0L495.0 661.4L496.3 665.5L498.7 676.1L500.9 689.5L503.0 705.6L505.0 724.3L506.9 745.7L508.6 769.8L510.1 795.3L511.4 823.2L512.7 855.1L514.9 927.2L516.6 1009.5M522.9 1009.5L524.7 917.1L527.0 835.4L528.4 799.3L529.9 766.2L531.6 734.7L533.4 706.2L535.5 679.9L537.6 656.7L540.0 636.6L542.4 619.7L544.9 606.5L546.2 601.2L547.5 596.9L548.8 593.5L550.1 591.2L551.4 589.7L552.7 589.3L553.9 589.7L555.2 591.1L556.4 593.4L557.6 596.5L558.7 600.4L559.9 605.4L562.1 617.7L564.2 633.7L566.1 652.4L567.9 674.3L569.5 699.3L570.9 726.3L572.2 756.1L574.5 826.4L576.2 908.5L577.5 1009.5M581.4 1009.5L582.9 891.5L583.8 838.5L584.9 790.6L586.2 747.2L587.6 705.9L589.2 667.3L591.0 632.8L593.1 600.0L595.3 570.5L597.7 545.3L600.2 524.2L602.9 507.2L604.2 500.7L605.5 495.1L606.9 490.7L608.3 487.6L609.6 485.7L610.3 485.2L611.0 485.0L611.6 485.1L612.2 485.5L613.5 487.1L614.7 489.9L615.9 493.6L617.0 498.5L618.1 504.3L620.2 519.1L622.1 537.4L623.9 559.8L625.5 586.6L627.0 616.5L628.2 649.0L629.3 685.5L631.1 770.6L632.4 876.1L633.3 1009.5M635.1 1009.5L635.8 895.1L636.6 804.7L637.7 722.4L639.1 649.0L640.8 578.5L642.9 514.8L645.5 455.8L648.3 402.7L651.8 351.4L655.8 305.1L657.9 284.3L660.1 264.8L662.5 247.1L664.9 231.2L667.3 217.0L669.8 204.6L672.4 194.0L675.1 185.1L677.8 178.3L679.1 175.6L680.5 173.4L681.8 171.7L683.1 170.5L684.5 169.7L685.9 169.5L687.2 169.7L688.5 170.4L689.9 171.7L691.2 173.3L693.9 178.1L696.5 184.8L699.0 193.4L701.6 203.8L704.0 216.1L706.4 230.1L708.7 245.8L710.9 262.8L713.0 281.6L715.1 302.1L718.9 348.0L722.3 399.0L725.1 452.8L727.4 511.2L729.5 575.7L731.1 643.8L732.5 721.1L733.5 803.0L734.3 900.4L734.9 1009.5M736.7 1009.5L737.5 876.5L738.6 773.8L740.3 687.7L741.3 650.3L742.4 618.6L743.7 588.7L745.2 561.6L746.8 538.6L748.6 519.8L750.5 504.9L752.6 494.0L753.6 490.0L754.7 487.3L755.8 485.6L756.4 485.2L757.0 485.0L757.5 485.1L758.2 485.6L759.4 487.4L760.6 490.4L761.8 494.7L764.2 506.6L766.6 523.6L768.9 544.7L771.0 569.9L773.0 599.1L774.7 631.3L776.3 665.8L777.7 704.3L780.1 788.4L781.8 887.9L783.1 1009.5M786.5 1009.5L787.6 909.0L789.1 827.9L791.0 757.3L793.3 700.2L794.7 674.2L796.2 652.3L797.9 633.3L799.6 617.9L801.4 605.5L803.4 596.3L804.4 593.3L805.4 591.0L806.4 589.7L807.4 589.3L808.5 589.7L809.5 591.2L810.6 593.7L811.7 596.9L813.8 606.5L815.8 619.8L817.8 636.6L819.6 656.4L821.4 678.8L823.0 705.0L824.4 732.4L825.8 763.7L828.1 833.7L830.0 915.5L831.3 1009.5M836.3 1009.5L837.6 926.5L839.2 856.1L841.3 795.9L843.7 747.0L845.1 724.9L846.6 706.0L848.2 690.0L849.9 676.4L851.7 665.8L853.5 658.1L854.5 655.4L855.4 653.5L856.4 652.4L857.3 652.0L858.3 652.4L859.3 653.7L860.3 655.8L861.3 658.6L863.2 666.5L865.1 677.7L866.9 691.9L868.6 708.4L870.3 727.7L871.9 750.0L874.6 800.4L876.9 860.4L878.8 930.5L880.3 1009.5M886.8 1009.5L888.2 936.6L890.0 874.5L892.1 821.9L894.7 777.3L896.1 758.0L897.6 741.3L899.2 727.1L900.9 714.9L902.6 705.4L904.4 698.8L905.3 696.6L906.3 694.8L907.1 693.9L908.1 693.5L909.1 693.9L910.0 695.0L911.0 696.8L911.9 699.3L913.8 706.2L915.6 716.0L917.4 728.3L919.1 743.2L920.7 760.6L922.2 779.7L925.0 824.3L927.3 878.2L929.3 940.0L930.9 1009.5M938.9 1009.5L940.4 944.6L942.4 887.6L944.6 839.0L947.3 797.7L948.7 780.6L950.3 765.0L951.9 751.7L953.6 740.8L955.4 732.2L957.2 726.2L958.1 724.1L959.0 722.4L960.0 721.5L960.9 721.2L961.9 721.5L962.8 722.5L963.8 724.1L964.7 726.3L966.6 732.5L968.4 741.2L970.2 752.2L972.0 766.0L973.6 781.5L975.2 799.3L978.1 840.8L980.5 889.4L982.6 946.4L984.3 1009.5M993.8 1009.5L995.5 949.3L997.6 894.9L1000.1 848.9L1002.9 810.7L1004.5 794.1L1006.1 779.6L1007.8 767.3L1009.7 756.8L1011.5 748.8L1013.4 743.0L1014.4 741.0L1015.4 739.4L1016.3 738.6L1017.4 738.3L1018.4 738.6L1019.4 739.5L1020.4 741.1L1021.4 743.1L1023.4 749.1L1025.3 757.2L1027.2 767.8L1029.0 780.6L1030.8 795.6L1032.4 812.0L1035.5 850.3L1038.1 896.0L1040.4 949.9L1042.3 1009.5M1053.5 1009.5L1055.4 950.4L1057.8 897.8L1060.6 852.8L1062.1 833.7L1063.8 816.0L1065.5 799.8L1067.4 785.8L1069.3 774.0L1071.3 764.2L1073.3 756.6L1075.4 751.0L1076.5 749.0L1077.6 747.6L1078.7 746.7L1079.8 746.5L1080.9 746.7L1082.1 747.6L1083.2 749.1L1084.3 751.1L1086.5 756.8L1088.7 764.8L1090.8 774.9L1092.8 787.0L1094.8 801.2L1096.7 817.6L1098.5 835.5L1100.2 854.6L1103.2 899.4L1105.9 951.5L1108.1 1009.5M1121.5 1009.5L1123.8 949.6L1126.7 897.3L1128.3 873.7L1130.0 852.7L1131.9 833.3L1133.9 815.6L1136.0 799.7L1138.2 785.7L1140.6 773.9L1143.0 764.0L1145.5 756.3L1146.8 753.3L1148.1 750.8L1149.4 748.9L1150.8 747.5L1152.1 746.7L1153.5 746.5L1154.8 746.8L1156.2 747.6L1157.6 749.1L1159.0 751.1L1160.4 753.8L1161.8 756.9L1164.5 764.9L1167.2 775.1L1169.8 787.4L1172.3 801.8L1174.7 818.0L1176.9 835.9L1179.1 856.0L1181.1 877.1L1183.0 900.6L1186.4 951.4L1189.2 1009.5M1206.8 1009.5L1208.4 977.4L1210.2 946.9L1212.2 918.3L1214.3 892.5L1216.6 868.5L1219.1 846.3L1221.8 826.1L1224.8 807.9L1227.9 791.7L1231.3 777.5L1234.7 765.7L1238.4 755.8L1240.3 751.7L1242.2 748.2L1244.2 745.2L1246.3 742.7L1248.3 740.8L1250.4 739.4L1252.6 738.5L1254.7 738.3L1257.1 738.6L1259.4 739.5L1261.7 741.0L1264.1 743.1L1266.5 745.9L1268.9 749.2L1271.3 753.1L1273.8 757.6L1278.7 768.4L1283.5 781.3L1288.4 796.5L1293.2 813.7L1297.8 832.7L1302.3 853.6L1306.6 875.8L1310.8 899.9L1314.7 925.4L1318.4 951.9L1321.9 979.9L1325.2 1009.5"/>
<path d="M174.0 741.3L181.8 741.5L189.2 742.1L196.0 743.0L202.3 744.2L208.1 745.8L213.4 747.8L218.4 750.1L223.1 752.9L227.6 756.1L231.9 759.9L236.0 764.1L239.9 768.9L243.7 774.3L247.2 780.1L250.6 786.5L253.9 793.6L257.2 801.6L260.3 810.2L263.2 819.4L266.1 829.5L268.8 840.3L271.4 851.8L273.8 864.0L276.2 876.9L280.5 905.1L284.4 936.7L287.8 971.4L290.8 1009.5M316.2 1009.5L318.1 977.9L320.3 947.9L322.6 919.2L325.1 892.2L327.8 866.7L330.7 843.3L333.8 821.5L337.0 801.7L340.4 783.6L343.9 767.5L347.6 753.6L351.4 742.0L353.3 737.1L355.2 732.9L357.1 729.3L359.0 726.4L360.9 724.1L362.8 722.5L364.7 721.5L366.5 721.2L368.3 721.5L370.0 722.4L371.7 723.9L373.4 726.0L375.1 728.6L376.7 731.9L378.3 735.8L379.9 740.3L383.0 751.0L385.8 763.8L388.6 778.9L391.1 795.8L393.5 815.1L395.7 836.1L397.7 859.4L399.6 885.2L401.3 912.6L402.9 942.6L404.3 975.2L405.6 1009.5M418.6 1009.5L421.1 941.0L422.5 910.0L424.1 879.7L425.9 851.8L427.8 826.1L429.9 802.4L432.1 780.9L434.4 760.9L436.9 743.6L439.5 728.6L442.2 716.2L445.0 706.2L446.3 702.4L447.8 699.2L449.1 696.8L450.5 694.9L452.0 693.9L453.3 693.5L454.7 693.9L456.0 694.9L457.4 696.6L458.7 699.0L460.0 702.0L461.3 705.8L463.7 715.1L466.0 726.7L468.3 741.1L470.4 757.8L472.4 776.9L474.2 797.4L475.9 821.0L477.4 846.8L478.9 875.0L481.3 938.1L483.2 1009.5M492.0 1009.5L494.0 929.7L496.5 861.8L497.9 831.0L499.5 802.5L501.2 776.1L503.1 751.2L505.1 728.7L507.3 708.8L509.6 692.0L512.0 677.7L514.4 666.5L516.9 658.6L518.1 655.8L519.4 653.7L520.7 652.4L521.9 652.0L523.2 652.4L524.3 653.5L525.6 655.4L526.7 658.0L527.9 661.4L529.0 665.7L531.2 676.1L533.3 689.5L535.3 705.7L537.2 724.3L538.9 746.4L540.5 770.2L541.9 796.4L544.4 855.4L546.4 927.6L548.0 1009.5M554.0 1009.5L555.7 915.6L557.8 834.5L559.1 798.4L560.6 765.1L562.1 734.6L563.9 705.7L565.8 679.8L567.9 656.1L570.1 636.3L572.4 619.5L574.8 606.4L576.1 601.1L577.3 596.9L578.5 593.5L579.7 591.2L581.0 589.7L582.2 589.3L583.4 589.7L584.5 591.0L585.7 593.3L586.8 596.4L589.0 605.2L591.1 617.6L593.1 633.2L595.0 652.0L596.7 673.8L598.2 698.8L599.6 725.4L600.9 756.4L603.1 827.8L604.7 910.7L605.9 1009.5M609.7 1009.5L611.1 890.2L613.1 792.3L614.3 747.0L615.6 706.2L617.2 667.7L618.9 633.2L620.9 600.3L623.0 571.5L625.3 545.9L627.8 524.5L630.3 507.7L631.6 501.0L633.0 495.2L634.3 490.8L635.6 487.6L637.0 485.6L637.7 485.2L638.3 485.0L638.9 485.2L639.5 485.6L640.7 487.2L641.9 489.9L642.9 493.4L644.0 498.1L645.1 504.0L647.2 518.7L649.1 537.5L650.8 559.6L652.4 585.9L653.8 616.6L655.0 650.1L656.1 688.0L657.8 773.3L659.1 876.9L659.9 1009.5M661.7 1009.5L662.3 901.1L663.1 806.8L664.2 722.1L665.6 647.2L667.3 578.1L669.4 515.0L671.8 456.1L674.7 401.9L678.1 350.6L682.0 304.3L684.0 283.9L686.2 264.6L688.5 247.1L690.9 230.9L693.3 216.5L695.8 204.3L698.3 193.8L700.9 185.0L703.5 178.3L706.1 173.4L707.4 171.7L708.8 170.5L710.1 169.8L711.5 169.5L712.8 169.8L714.1 170.5L715.4 171.7L716.7 173.3L719.3 178.1L721.9 184.8L724.4 193.3L727.0 203.9L729.4 215.9L731.7 230.1L734.1 246.0L736.2 263.3L738.4 282.3L740.3 302.4L744.1 348.0L747.4 399.4L750.2 452.4L752.6 511.2L754.6 576.3L756.2 645.2L757.6 723.7L758.6 807.4L759.4 897.8L760.0 1009.5M761.7 1009.5L762.5 876.2L763.7 773.1L765.3 686.8L766.3 649.5L767.4 617.8L768.7 587.9L770.2 560.8L771.9 538.0L773.6 519.2L775.6 504.4L777.6 493.7L778.6 490.0L779.7 487.2L780.8 485.6L781.4 485.2L782.0 485.0L782.5 485.2L783.1 485.6L784.4 487.4L785.6 490.5L786.8 494.8L789.2 506.9L791.6 524.0L793.8 545.2L796.0 570.6L797.9 600.0L799.7 632.3L801.3 667.2L802.7 705.9L805.0 790.8L806.8 891.6L808.1 1009.5M811.5 1009.5L812.5 910.8L814.0 826.1L816.0 756.3L818.3 699.6L819.7 673.8L821.2 652.0L822.9 633.2L824.6 617.9L826.4 605.5L828.4 596.4L829.3 593.4L830.4 591.1L831.4 589.7L832.4 589.3L833.5 589.8L834.6 591.2L835.7 593.7L836.7 597.0L838.8 606.6L840.9 619.7L842.9 636.4L844.7 656.0L846.5 679.1L848.1 705.1L849.6 733.8L851.0 765.0L853.3 834.9L855.1 916.4L856.5 1009.5M861.5 1009.5L862.8 925.9L864.5 856.3L866.5 796.6L869.0 746.8L870.4 724.9L871.9 706.2L873.6 689.8L875.3 676.3L877.1 665.5L879.0 658.0L879.9 655.4L880.9 653.5L881.8 652.4L882.8 652.0L883.8 652.4L884.8 653.7L885.8 655.8L886.8 658.6L888.8 666.6L890.7 677.7L892.5 691.6L894.3 708.5L896.0 728.4L897.6 750.4L900.4 801.4L902.7 860.7L904.6 929.4L906.1 1009.5M912.8 1009.5L914.2 936.6L916.0 875.5L918.2 822.1L920.8 777.2L922.2 758.3L923.8 741.2L925.4 726.8L927.1 714.9L928.9 705.6L930.8 698.9L931.6 696.6L932.6 694.9L933.6 693.9L934.5 693.5L935.5 693.9L936.5 695.0L937.4 696.7L938.4 699.1L940.3 706.1L942.2 715.9L944.0 727.9L945.8 742.9L947.5 760.5L949.0 779.9L951.8 824.5L954.3 878.4L956.3 940.6L958.0 1009.5M966.2 1009.5L967.8 943.9L969.8 886.9L972.1 838.7L974.8 797.7L976.3 780.4L978.0 764.7L979.6 751.9L981.4 740.9L983.2 732.3L985.1 726.2L986.0 724.0L987.0 722.5L987.9 721.5L989.0 721.2L989.9 721.5L991.0 722.4L992.0 724.1L992.9 726.2L994.9 732.6L996.8 741.4L998.7 752.4L1000.5 766.2L1002.2 781.8L1003.9 799.6L1006.8 840.4L1009.4 889.5L1011.6 945.7L1013.4 1009.5M1023.3 1009.5L1025.1 947.8L1027.3 894.6L1029.9 848.4L1032.9 810.5L1034.5 794.0L1036.3 779.2L1038.0 767.1L1040.0 756.8L1041.9 748.7L1043.9 743.0L1044.9 740.9L1046.0 739.5L1047.0 738.6L1048.1 738.3L1049.1 738.5L1050.2 739.4L1051.3 741.0L1052.3 743.0L1054.4 748.9L1056.5 757.1L1058.5 767.3L1060.4 780.2L1062.3 795.2L1064.1 811.9L1065.8 830.0L1067.3 850.2L1070.2 896.4L1072.6 949.8L1074.7 1009.5M1086.7 1009.5L1088.8 949.4L1091.3 898.0L1094.4 853.2L1096.0 833.9L1097.8 816.1L1099.7 800.0L1101.7 786.2L1103.8 774.1L1106.0 764.2L1108.2 756.5L1110.5 750.9L1111.7 749.0L1112.9 747.6L1114.1 746.7L1115.3 746.5L1116.5 746.8L1117.8 747.6L1119.0 749.1L1120.2 751.1L1122.7 757.0L1125.1 764.9L1127.5 775.3L1129.7 787.5L1131.9 801.7L1134.0 818.1L1136.0 836.1L1137.8 855.6L1139.6 877.3L1141.2 900.4L1144.2 951.9L1146.6 1009.5M1161.7 1009.5L1164.5 948.7L1166.1 921.8L1167.8 896.8L1169.6 873.7L1171.6 852.5L1173.7 833.3L1176.0 815.4L1178.5 799.5L1181.1 785.6L1183.8 773.8L1186.7 763.9L1189.6 756.4L1191.1 753.4L1192.7 750.9L1194.3 748.9L1195.8 747.6L1197.4 746.7L1199.0 746.5L1200.7 746.8L1202.4 747.7L1204.0 749.1L1205.7 751.1L1207.4 753.8L1209.1 757.0L1212.5 765.1L1215.8 775.6L1219.0 788.0L1222.2 802.6L1225.2 819.0L1228.1 837.2L1230.7 856.7L1233.3 878.5L1235.7 901.5L1237.9 926.4L1240.0 952.4L1241.9 980.2L1243.6 1009.5M1267.6 1009.5L1270.8 965.3L1274.5 926.3L1276.5 907.9L1278.6 891.1L1280.9 874.7L1283.3 859.8L1285.9 845.8L1288.6 832.4L1291.4 820.3L1294.4 808.9L1297.5 798.4L1300.8 788.9L1304.2 780.4L1307.8 772.6L1311.2 766.4L1314.7 760.8L1318.4 755.9L1322.2 751.6L1326.3 748.0L1330.4 745.0L1334.9 742.6L1339.5 740.7L1343.6 739.6L1347.9 738.8L1352.5 738.4L1357.7 738.3L1366.7 738.7L1389.9 740.9L1402.5 741.3"/>
<path d="M215.7 1009.5L223.4 971.9L229.8 941.6L236.0 914.1L241.8 889.2L247.8 865.6L253.6 844.2L259.3 824.7L265.0 807.1L270.7 791.1L276.3 777.2L281.8 765.4L287.2 755.7L289.9 751.6L292.6 748.0L295.1 745.0L297.7 742.6L300.2 740.7L302.7 739.4L305.1 738.5L307.5 738.3L309.8 738.5L312.1 739.3L314.4 740.7L316.6 742.6L318.8 745.0L320.9 748.0L323.0 751.4L325.0 755.5L327.0 760.0L329.0 765.3L332.7 777.1L336.2 790.9L339.4 806.9L342.5 825.0L345.4 845.2L348.0 867.6L350.4 891.4L352.6 917.3L354.7 946.0L356.5 976.9L358.1 1009.5M375.6 1009.5L378.6 946.4L380.3 918.0L382.2 890.5L384.3 865.1L386.5 841.7L388.8 820.2L391.2 800.5L393.9 782.4L396.6 766.7L399.5 753.0L402.4 741.7L405.4 732.8L406.9 729.3L408.5 726.3L410.1 724.0L411.6 722.4L413.1 721.5L414.6 721.2L416.0 721.5L417.4 722.4L418.9 723.9L420.3 726.1L421.7 728.9L423.1 732.2L425.8 740.7L428.3 751.3L430.8 764.4L433.1 779.7L435.3 797.2L437.3 816.8L439.2 837.8L440.9 861.7L442.5 886.7L445.3 943.9L447.6 1009.5M458.9 1009.5L461.1 939.9L463.9 878.6L465.4 850.9L467.1 825.1L469.0 801.3L470.9 780.2L473.0 760.5L475.2 743.4L477.5 728.4L479.9 716.1L482.4 706.3L483.6 702.5L484.9 699.2L486.1 696.8L487.4 695.0L488.7 693.9L489.9 693.5L491.2 693.9L492.4 694.9L493.6 696.6L494.8 698.9L497.1 705.5L499.3 714.8L501.5 726.8L503.6 741.1L505.5 757.6L507.3 776.9L509.0 797.5L510.5 821.1L513.3 874.3L515.5 936.7L517.3 1009.5M525.5 1009.5L527.3 929.4L529.7 860.7L531.0 829.5L532.5 800.4L534.2 773.7L535.9 750.1L537.8 727.8L539.8 708.6L541.9 691.8L544.1 677.5L546.4 666.3L548.8 658.4L549.9 655.6L551.1 653.6L552.3 652.4L553.5 652.0L554.6 652.4L555.7 653.5L556.9 655.5L558.0 658.1L560.2 665.8L562.3 676.5L564.3 690.0L566.1 705.9L567.9 725.0L569.5 746.6L571.0 770.6L572.4 797.0L574.7 855.9L576.6 926.7L578.1 1009.5M583.8 1009.5L585.4 915.0L587.5 835.3L590.1 766.0L591.6 735.3L593.3 706.1L595.1 679.9L597.1 656.8L599.2 636.6L601.4 620.0L603.7 606.6L606.0 597.1L607.2 593.8L608.4 591.3L609.6 589.7L610.8 589.3L612.0 589.7L613.1 591.0L614.1 593.2L615.2 596.3L617.4 605.0L619.4 617.3L621.3 632.9L623.1 651.5L624.8 674.1L626.3 698.9L627.7 726.5L628.9 757.1L630.9 826.3L632.6 911.7L633.7 1009.5M637.4 1009.5L638.7 893.8L640.6 792.1L641.8 747.9L643.2 705.8L644.7 667.9L646.4 632.4L648.3 599.8L650.3 571.2L652.6 545.7L655.0 524.4L657.5 507.2L658.7 500.7L660.0 495.1L661.3 490.7L662.6 487.6L663.9 485.7L664.6 485.2L665.2 485.0L665.8 485.2L666.4 485.6L667.5 487.2L668.7 490.0L669.8 493.7L671.9 504.3L673.9 519.5L675.8 538.3L677.5 561.2L679.0 587.3L680.3 617.4L681.5 649.8L682.5 685.8L684.2 772.1L685.5 877.8L686.3 1009.5M688.1 1009.5L688.7 900.4L689.5 804.7L690.5 723.8L691.9 647.2L693.6 576.9L695.6 513.0L698.0 455.1L700.8 401.4L704.2 350.3L708.0 304.1L710.0 283.4L712.2 264.5L714.4 246.7L716.7 230.8L719.1 216.6L721.6 204.2L724.1 193.6L726.6 185.0L729.2 178.2L731.8 173.4L733.1 171.7L734.4 170.5L735.7 169.8L737.1 169.5L738.4 169.8L739.7 170.5L741.0 171.7L742.3 173.4L744.9 178.3L747.4 184.9L750.0 193.5L752.4 203.9L754.8 216.1L757.1 229.9L759.4 246.0L761.6 263.3L763.7 282.5L765.7 302.7L769.5 348.7L772.8 399.5L775.5 452.8L777.9 511.9L779.9 575.0L781.5 643.7L782.9 721.9L783.9 805.1L784.7 904.9L785.2 1009.5M787.0 1009.5L787.8 877.8L788.9 773.9L790.6 687.2L791.6 649.7L792.7 617.9L794.0 588.0L795.5 560.9L797.1 538.0L798.9 519.2L800.8 504.4L802.9 493.7L803.9 490.0L805.0 487.2L806.1 485.6L806.6 485.2L807.2 485.0L807.8 485.2L808.5 485.7L809.7 487.6L810.9 490.7L812.1 495.1L814.5 507.2L816.9 524.3L819.2 545.7L821.3 571.0L823.3 600.4L825.0 632.8L826.6 667.5L828.0 706.1L830.4 790.6L832.1 890.7L833.4 1009.5M836.8 1009.5L837.9 909.1L839.4 828.6L841.3 758.3L842.4 726.9L843.7 699.9L845.1 674.2L846.6 652.5L848.2 633.6L850.0 617.8L851.9 605.6L853.8 596.5L854.9 593.3L855.9 591.0L856.9 589.7L857.9 589.3L859.0 589.7L860.1 591.2L861.2 593.7L862.2 596.8L864.3 606.2L866.5 619.6L868.4 636.0L870.4 656.1L872.1 678.9L873.8 705.7L875.3 734.1L876.7 765.0L879.0 833.8L880.9 913.4L882.3 1009.5M887.4 1009.5L888.7 927.5L890.4 855.9L892.5 797.1L895.0 746.7L896.4 725.2L898.0 705.9L899.6 689.8L901.3 676.6L903.2 665.8L905.0 658.3L906.0 655.6L907.0 653.6L908.0 652.4L909.0 652.0L910.0 652.4L911.0 653.6L912.1 655.6L913.1 658.4L915.1 666.2L917.0 677.3L918.9 691.4L920.7 707.9L922.4 727.1L924.1 749.4L925.6 773.9L926.9 800.2L929.3 859.3L931.3 928.5L932.9 1009.5M939.7 1009.5L941.2 936.2L943.0 874.6L945.3 821.3L947.9 777.6L949.4 758.3L951.0 741.6L952.6 727.5L954.4 715.3L956.2 705.8L958.1 699.0L959.1 696.6L960.0 694.9L961.0 693.9L962.0 693.5L963.0 693.9L964.1 695.0L965.1 696.8L966.0 699.1L968.0 706.1L969.9 715.6L971.8 728.0L973.6 742.5L975.4 760.1L977.0 779.7L980.0 824.8L982.5 878.2L984.6 940.2L986.3 1009.5M994.8 1009.5L996.5 943.2L998.6 886.7L1001.1 837.9L1003.9 797.7L1005.4 780.3L1007.1 764.7L1008.8 751.9L1010.7 741.0L1012.6 732.4L1014.6 726.1L1015.5 724.1L1016.5 722.5L1017.6 721.5L1018.6 721.2L1019.6 721.5L1020.7 722.4L1021.7 724.0L1022.8 726.2L1024.8 732.5L1026.9 741.4L1028.8 752.3L1030.7 765.8L1032.5 781.7L1034.2 799.4L1035.9 819.3L1037.4 840.8L1040.1 889.8L1042.4 946.5L1044.3 1009.5M1054.8 1009.5L1056.7 948.7L1059.1 895.3L1061.8 849.4L1063.4 828.7L1065.0 810.4L1066.8 793.7L1068.6 779.3L1070.5 767.1L1072.6 756.8L1074.7 748.7L1076.9 742.9L1078.0 740.9L1079.1 739.4L1080.2 738.6L1081.3 738.3L1082.5 738.6L1083.6 739.5L1084.8 741.0L1085.9 743.1L1088.1 749.0L1090.4 757.3L1092.6 767.9L1094.7 780.6L1096.7 795.6L1098.7 812.2L1100.5 831.1L1102.2 851.4L1105.3 897.2L1107.9 950.4L1110.1 1009.5M1123.3 1009.5L1125.7 949.4L1128.5 898.0L1130.1 874.2L1131.8 853.0L1133.7 833.5L1135.6 815.8L1137.8 799.8L1140.0 785.8L1142.3 774.0L1144.8 764.1L1147.3 756.4L1148.6 753.4L1149.9 750.9L1151.2 749.0L1152.6 747.6L1153.9 746.7L1155.3 746.5L1156.7 746.8L1158.1 747.6L1159.5 749.1L1160.9 751.1L1162.3 753.8L1163.7 756.9L1166.5 765.1L1169.2 775.4L1171.8 787.6L1174.3 801.9L1176.8 818.3L1179.1 836.5L1181.3 856.4L1183.3 877.9L1185.3 901.0L1187.0 925.7L1188.7 952.0L1191.6 1009.5M1209.7 1009.5L1211.4 977.2L1213.2 948.0L1215.2 920.6L1217.3 895.7L1219.6 872.4L1222.1 851.0L1224.8 831.5L1227.8 813.8L1230.9 798.1L1234.2 784.6L1237.7 773.1L1241.4 763.5L1243.3 759.5L1245.2 756.1L1247.2 753.2L1249.2 750.8L1251.3 748.9L1253.4 747.5L1255.5 746.7L1257.7 746.5L1260.0 746.8L1262.3 747.6L1264.6 749.1L1267.0 751.1L1269.4 753.7L1271.8 756.8L1274.3 760.6L1276.7 764.9L1281.6 775.1L1286.6 787.6L1291.6 802.2L1296.5 818.8L1301.3 837.1L1306.0 857.3L1310.6 879.1L1315.0 902.6L1319.2 927.5L1323.3 953.5L1327.1 980.9L1330.7 1009.5"/>
<path d="M174.0 746.9L184.0 747.1L192.4 747.4L199.7 748.0L206.0 748.8L211.9 750.0L217.2 751.5L222.2 753.4L226.9 755.7L231.5 758.6L235.8 761.9L239.9 765.7L243.9 770.0L247.6 774.9L251.3 780.4L254.7 786.5L258.0 793.1L261.4 800.8L264.6 809.3L267.6 818.4L270.6 828.3L273.4 839.0L276.0 850.4L278.6 862.6L280.9 875.4L283.2 888.9L285.4 903.6L289.4 935.6L293.0 971.0L296.0 1009.5M322.0 1009.5L323.9 979.1L326.0 950.8L328.2 923.7L330.6 898.6L333.2 874.7L336.0 852.8L338.9 832.2L342.0 813.4L345.2 796.2L348.6 781.3L352.1 768.3L355.6 757.6L359.2 749.2L360.9 745.9L362.8 743.1L364.6 741.0L366.3 739.5L368.1 738.6L369.9 738.3L371.6 738.6L373.2 739.4L374.9 740.8L376.5 742.8L378.1 745.3L379.6 748.3L382.7 756.1L385.6 766.1L388.4 778.1L391.1 792.3L393.6 808.6L396.0 827.1L398.2 847.2L400.2 869.4L402.1 893.0L403.8 918.7L405.4 946.5L406.8 976.5L408.1 1009.5M422.4 1009.5L425.0 946.0L428.0 890.6L429.7 865.4L431.5 841.9L433.5 820.2L435.6 800.3L437.9 782.3L440.2 766.7L442.6 753.0L445.2 741.7L447.8 732.8L449.0 729.3L450.4 726.3L451.7 724.1L453.1 722.4L454.4 721.5L455.7 721.2L457.0 721.5L458.2 722.3L459.5 723.9L460.7 726.0L461.9 728.7L463.2 732.1L465.6 740.7L467.8 751.3L470.0 764.5L472.0 779.6L474.0 797.4L475.8 816.5L477.5 838.2L479.1 861.8L480.5 887.3L483.0 943.2L485.0 1009.5M495.3 1009.5L497.4 938.8L499.8 878.5L502.8 824.8L504.5 801.7L506.2 780.3L508.2 760.8L510.2 743.3L512.3 728.5L514.6 715.9L516.8 706.2L519.1 699.2L520.3 696.7L521.5 695.0L522.7 693.9L523.8 693.5L525.0 693.9L526.1 694.9L527.3 696.7L528.4 699.0L530.5 705.9L532.6 715.0L534.6 727.1L536.5 741.5L538.3 758.0L540.0 777.2L541.6 798.4L543.0 821.5L545.6 874.1L547.7 936.4L549.4 1009.5M557.0 1009.5L558.8 929.1L561.0 860.7L563.6 801.3L565.2 774.1L566.8 750.1L568.7 727.5L570.6 708.0L572.6 691.5L574.7 677.4L576.9 666.3L579.1 658.5L580.2 655.7L581.3 653.6L582.5 652.4L583.6 652.0L584.7 652.4L585.8 653.6L586.8 655.5L587.9 658.1L589.9 665.6L591.9 676.1L593.8 689.5L595.6 705.5L597.3 724.5L598.9 746.1L600.3 769.9L601.6 795.8L603.8 855.1L605.7 926.0L607.1 1009.5M612.6 1009.5L614.1 915.7L616.1 835.5L618.6 765.5L620.2 733.8L621.7 706.1L623.5 680.0L625.4 656.8L627.5 636.5L629.6 620.0L631.8 606.5L634.1 597.0L635.2 593.6L636.4 591.2L637.6 589.7L638.7 589.3L639.8 589.7L640.9 591.1L642.0 593.4L643.0 596.4L645.1 605.2L647.0 617.5L648.9 633.0L650.7 652.3L652.2 673.7L653.7 699.2L655.0 726.3L656.3 757.7L658.2 826.6L659.8 910.5L661.0 1009.5M664.5 1009.5L665.9 888.9L667.7 789.9L668.9 745.2L670.2 704.6L671.6 667.7L673.2 632.8L675.2 599.4L677.2 570.3L679.4 545.2L681.7 524.1L684.2 507.1L686.6 495.1L687.9 490.8L689.2 487.6L690.4 485.6L691.1 485.2L691.7 485.0L692.3 485.2L692.8 485.6L694.0 487.2L695.1 489.9L696.2 493.6L698.2 504.0L700.2 518.8L702.1 537.8L703.7 560.0L705.2 586.2L706.6 616.7L707.7 649.5L708.7 686.1L710.4 774.3L711.6 875.9L712.4 1009.5M714.2 1009.5L714.7 905.7L715.6 807.0L716.6 724.4L718.0 646.6L719.6 578.1L721.6 513.2L724.0 454.5L726.8 401.4L730.1 349.8L733.9 304.0L735.9 283.1L738.0 264.0L740.2 246.6L742.5 231.0L744.8 216.6L747.2 204.4L749.8 193.7L752.3 185.0L754.8 178.3L757.4 173.4L758.7 171.7L760.0 170.5L761.3 169.8L762.7 169.5L764.0 169.8L765.3 170.5L766.6 171.7L767.9 173.4L770.5 178.4L773.0 185.1L775.6 193.8L778.0 204.3L780.4 216.6L782.7 230.5L785.0 246.2L787.2 263.7L789.3 282.9L791.3 303.2L795.0 349.4L798.3 400.4L801.0 454.0L803.4 513.4L805.4 576.9L807.0 646.3L808.3 720.7L809.3 803.3L810.2 901.9L810.7 1009.5M812.5 1009.5L813.2 880.9L814.5 771.2L816.1 685.7L817.1 648.6L818.2 617.2L819.5 587.5L821.0 560.5L822.6 537.8L824.4 519.1L826.3 504.4L828.4 493.7L829.4 490.0L830.5 487.3L831.6 485.6L832.1 485.2L832.7 485.0L833.4 485.2L834.0 485.6L835.2 487.5L836.4 490.6L837.7 494.8L838.9 500.4L840.1 507.2L842.5 524.2L844.8 545.3L846.9 570.3L848.9 599.3L850.7 632.5L852.3 666.8L853.7 704.9L855.0 747.1L856.1 790.9L857.9 890.0L859.2 1009.5M862.6 1009.5L863.7 909.2L865.2 826.3L867.1 757.4L869.5 699.8L871.0 674.4L872.5 652.9L874.2 633.5L876.0 617.9L877.9 605.4L879.8 596.4L880.9 593.3L881.9 591.1L882.9 589.7L884.0 589.3L885.1 589.8L886.2 591.2L887.3 593.6L888.4 596.9L890.6 606.5L892.7 619.8L894.7 636.6L896.6 656.4L898.4 679.0L900.1 705.2L901.6 733.0L903.0 764.7L905.4 834.3L907.3 915.9L908.8 1009.5M914.0 1009.5L915.3 926.1L917.0 856.1L919.2 796.6L920.4 770.4L921.7 746.2L923.2 724.2L924.8 705.6L926.5 689.8L928.2 676.4L930.1 665.9L932.1 658.1L933.0 655.5L934.0 653.5L935.1 652.4L936.1 652.0L937.1 652.4L938.2 653.7L939.2 655.7L940.2 658.5L942.3 666.4L944.3 677.6L946.3 691.9L948.2 708.6L949.9 728.3L951.6 750.2L953.1 774.0L954.5 800.9L957.0 860.3L959.0 930.2L960.6 1009.5M967.6 1009.5L969.1 938.9L971.0 876.3L973.3 822.6L976.1 778.0L977.6 758.4L979.3 741.6L981.0 727.3L982.8 715.2L984.7 705.8L986.7 698.9L987.7 696.7L988.7 694.9L989.7 693.9L990.7 693.5L991.8 693.9L992.9 694.9L993.9 696.7L994.9 699.1L997.0 705.9L999.0 715.7L1001.0 728.1L1002.8 742.5L1004.7 760.0L1006.4 779.5L1007.9 800.8L1009.4 824.7L1012.0 877.1L1014.3 939.9L1016.1 1009.5M1025.0 1009.5L1026.8 944.7L1029.0 887.1L1031.5 839.1L1032.9 817.7L1034.5 798.0L1036.1 780.7L1037.9 765.2L1039.8 752.1L1041.7 740.9L1043.8 732.2L1045.8 726.2L1046.8 724.1L1047.9 722.4L1049.0 721.5L1050.1 721.2L1051.2 721.5L1052.4 722.5L1053.5 724.1L1054.6 726.3L1056.7 732.7L1058.9 741.3L1061.0 752.7L1063.0 765.9L1064.9 781.9L1066.8 799.8L1068.5 819.3L1070.1 841.2L1073.0 889.3L1075.4 945.0L1077.5 1009.5M1088.9 1009.5L1091.0 947.0L1093.5 893.8L1096.5 847.8L1098.2 828.0L1099.9 809.9L1101.9 793.4L1103.9 778.8L1106.0 766.6L1108.2 756.6L1110.5 748.5L1112.8 742.9L1114.0 740.9L1115.2 739.5L1116.5 738.6L1117.7 738.3L1118.9 738.5L1120.2 739.4L1121.5 741.0L1122.7 743.0L1125.3 749.0L1127.7 757.2L1130.2 767.9L1132.5 780.5L1134.8 795.2L1136.9 812.3L1138.9 830.3L1140.8 850.6L1142.6 872.3L1144.3 896.6L1147.3 949.7L1149.8 1009.5M1164.8 1009.5L1167.6 948.5L1169.2 921.6L1170.9 896.6L1172.7 873.6L1174.7 851.9L1176.9 832.8L1179.2 815.0L1181.6 799.3L1184.2 785.5L1187.0 773.8L1189.8 764.0L1192.8 756.4L1194.3 753.4L1195.9 750.9L1197.5 749.0L1199.0 747.6L1200.7 746.8L1202.3 746.5L1204.0 746.8L1205.7 747.6L1207.4 749.1L1209.1 751.1L1210.9 753.8L1212.6 757.0L1216.0 765.1L1219.5 775.5L1222.7 787.9L1225.9 802.3L1229.1 819.0L1232.0 837.2L1234.8 857.1L1237.5 878.8L1239.9 901.7L1242.2 926.5L1244.4 952.4L1246.3 980.1L1248.2 1009.5M1273.5 1009.5L1276.6 968.7L1280.3 931.7L1284.4 898.6L1286.6 883.2L1288.9 869.2L1291.5 855.5L1294.1 843.1L1296.8 831.5L1299.7 820.5L1302.7 810.6L1305.9 801.2L1309.3 792.8L1312.8 785.1L1316.1 778.8L1319.6 773.1L1323.2 768.0L1327.0 763.5L1331.0 759.6L1335.1 756.3L1339.6 753.4L1344.2 751.2L1348.6 749.5L1353.3 748.3L1358.3 747.4L1363.9 746.8L1374.9 746.5L1402.5 746.9"/>
<path d="M233.3 1009.5L237.7 980.4L242.3 952.8L247.1 926.3L252.0 901.2L257.1 877.6L262.2 855.8L267.4 835.8L272.6 817.5L277.9 801.2L283.1 786.9L288.4 774.6L293.6 764.5L296.1 760.3L298.6 756.7L301.1 753.6L303.6 751.0L306.1 749.0L308.5 747.6L310.9 746.8L313.2 746.5L315.5 746.7L317.7 747.5L319.9 748.8L322.0 750.7L324.0 753.0L326.1 755.9L328.0 759.3L330.0 763.3L333.8 772.7L337.4 784.4L340.7 797.8L343.9 813.4L346.9 830.7L349.7 850.2L352.3 871.8L354.7 895.3L356.8 920.7L358.8 947.8L360.7 977.8L362.3 1009.5M380.5 1009.5L383.5 949.9L385.1 923.6L386.9 897.8L388.9 873.8L391.0 851.6L393.3 831.2L395.7 812.5L398.2 795.6L400.8 780.9L403.5 768.1L406.3 757.5L409.2 749.1L410.6 745.8L412.1 743.2L413.6 741.0L415.0 739.5L416.4 738.6L417.9 738.3L419.3 738.6L420.7 739.4L422.0 740.8L423.4 742.8L424.8 745.4L426.0 748.5L428.6 756.5L431.1 766.5L433.5 778.7L435.7 793.0L437.9 809.7L439.9 827.8L441.7 847.7L443.5 869.4L445.1 893.8L447.9 946.8L450.3 1009.5M462.8 1009.5L465.0 945.7L467.7 890.3L469.2 864.3L470.9 840.9L472.7 819.2L474.5 799.9L476.5 782.2L478.6 766.4L480.8 752.9L483.1 741.4L485.4 732.6L487.7 726.3L488.9 724.1L490.1 722.5L491.4 721.5L492.5 721.2L493.7 721.5L494.8 722.4L496.0 723.9L497.2 726.1L499.3 732.1L501.5 740.7L503.6 751.3L505.6 764.3L507.5 779.8L509.2 797.1L510.9 816.2L512.5 837.9L515.2 886.2L517.5 943.2L519.4 1009.5M528.9 1009.5L530.8 939.9L533.1 878.5L535.9 824.9L537.5 801.2L539.1 780.1L540.9 760.7L542.8 743.3L544.8 728.5L546.9 715.9L549.0 706.2L551.2 699.2L552.3 696.7L553.4 695.0L554.5 693.9L555.6 693.5L556.7 693.9L557.8 694.9L558.9 696.7L559.9 699.0L561.9 705.8L563.9 715.2L565.8 727.2L567.6 741.3L569.3 758.0L570.9 777.4L572.4 798.9L573.8 822.2L576.2 874.9L578.2 936.4L579.8 1009.5M587.1 1009.5L588.8 929.8L590.9 860.3L593.5 800.0L594.9 774.1L596.5 750.1L598.2 728.1L600.0 708.4L601.9 691.7L604.0 677.5L606.1 666.3L608.2 658.4L609.2 655.7L610.3 653.6L611.4 652.4L612.5 652.0L613.6 652.4L614.6 653.6L615.6 655.5L616.7 658.2L618.6 665.8L620.6 676.3L622.4 689.8L624.1 705.8L625.7 724.8L627.2 746.2L628.6 769.7L629.9 796.6L632.1 856.5L633.9 927.6L635.2 1009.5M640.6 1009.5L642.1 914.3L644.0 834.9L646.4 764.9L647.9 733.8L649.4 705.3L651.2 678.6L653.0 655.8L655.0 635.9L657.1 619.5L659.3 606.3L661.4 596.9L662.5 593.6L663.6 591.3L664.8 589.7L665.9 589.3L667.0 589.7L668.0 591.0L669.1 593.3L670.1 596.4L672.2 605.4L674.1 617.7L675.9 633.6L677.6 652.7L679.2 674.8L680.6 699.8L683.0 756.3L685.0 826.2L686.5 907.5L687.7 1009.5M691.2 1009.5L692.4 893.1L694.3 791.0L695.4 747.7L696.7 705.9L698.1 668.1L699.7 632.6L701.6 599.8L703.6 570.2L705.8 544.7L708.1 524.0L710.4 507.2L711.7 500.4L712.9 494.9L714.1 490.7L715.4 487.4L716.7 485.6L717.3 485.2L717.9 485.0L718.5 485.2L719.0 485.6L720.1 487.2L721.2 489.9L722.3 493.8L724.4 504.4L726.3 519.0L728.1 538.2L729.8 560.9L731.3 587.7L732.6 617.3L733.7 650.7L734.7 688.0L736.4 774.3L737.5 877.3L738.4 1009.5M740.1 1009.5L740.7 898.9L741.4 808.5L742.5 724.7L743.8 646.2L745.5 577.2L747.4 513.9L749.8 454.6L752.6 401.1L755.8 350.1L759.6 303.9L761.6 283.5L763.7 264.3L765.9 246.8L768.2 230.6L770.6 216.2L773.0 204.0L775.4 193.6L777.9 184.9L780.5 178.2L783.1 173.4L784.4 171.7L785.7 170.5L787.0 169.7L788.3 169.5L789.5 169.7L790.8 170.5L792.1 171.7L793.4 173.4L796.0 178.2L798.6 184.9L801.1 193.6L803.5 204.0L805.9 216.2L808.3 230.6L810.6 246.8L812.8 264.3L814.9 283.5L816.9 303.9L820.7 350.1L823.9 401.1L826.7 454.6L829.1 513.9L831.0 577.2L832.7 646.2L834.0 724.7L835.1 808.5L835.8 898.9L836.4 1009.5M838.1 1009.5L839.0 877.3L840.1 774.3L841.8 688.0L842.8 650.7L843.9 617.3L845.2 587.7L846.7 560.9L848.4 538.2L850.2 519.0L852.1 504.4L854.2 493.8L855.3 489.9L856.4 487.2L857.5 485.6L858.0 485.2L858.6 485.0L859.2 485.2L859.8 485.6L861.1 487.4L862.4 490.7L863.6 494.9L864.8 500.4L866.1 507.2L868.4 524.0L870.7 544.7L872.9 570.2L874.9 599.8L876.8 632.6L878.4 668.1L879.8 705.9L881.1 747.7L882.2 791.0L884.1 893.1L885.3 1009.5M888.8 1009.5L890.0 907.5L891.5 826.2L893.5 756.3L895.9 699.8L897.3 674.8L898.9 652.7L900.6 633.6L902.4 617.7L904.3 605.4L906.4 596.4L907.4 593.3L908.5 591.0L909.5 589.7L910.6 589.3L911.7 589.7L912.9 591.3L914.0 593.6L915.1 596.9L917.2 606.3L919.4 619.5L921.5 635.9L923.5 655.8L925.3 678.6L927.1 705.3L928.6 733.8L930.1 764.9L932.5 834.9L934.4 914.3L935.9 1009.5M941.3 1009.5L942.6 927.6L944.4 856.5L946.6 796.6L947.9 769.7L949.3 746.2L950.8 724.8L952.4 705.8L954.1 689.8L955.9 676.3L957.9 665.8L959.8 658.2L960.9 655.5L961.9 653.6L962.9 652.4L964.0 652.0L965.1 652.4L966.2 653.6L967.3 655.7L968.3 658.4L970.4 666.3L972.5 677.5L974.6 691.7L976.5 708.4L978.3 728.1L980.0 750.1L981.6 774.1L983.0 800.0L985.6 860.3L987.7 929.8L989.4 1009.5M996.7 1009.5L998.3 936.4L1000.3 874.9L1002.7 822.2L1004.1 798.9L1005.6 777.4L1007.2 758.0L1008.9 741.3L1010.7 727.2L1012.6 715.2L1014.6 705.8L1016.6 699.0L1017.6 696.7L1018.7 694.9L1019.8 693.9L1020.9 693.5L1022.0 693.9L1023.1 695.0L1024.2 696.7L1025.3 699.2L1027.5 706.2L1029.6 715.9L1031.7 728.5L1033.7 743.3L1035.6 760.7L1037.4 780.1L1039.0 801.2L1040.6 824.9L1043.4 878.5L1045.7 939.9L1047.6 1009.5M1057.1 1009.5L1059.0 943.2L1061.3 886.2L1064.0 837.9L1065.6 816.2L1067.3 797.1L1069.0 779.8L1070.9 764.3L1072.9 751.3L1075.0 740.7L1077.2 732.1L1079.3 726.1L1080.5 723.9L1081.7 722.4L1082.8 721.5L1084.0 721.2L1085.1 721.5L1086.4 722.5L1087.6 724.1L1088.8 726.3L1091.1 732.6L1093.4 741.4L1095.7 752.9L1097.9 766.4L1100.0 782.2L1102.0 799.9L1103.8 819.2L1105.6 840.9L1107.3 864.3L1108.8 890.3L1111.5 945.7L1113.7 1009.5M1126.2 1009.5L1128.6 946.8L1131.4 893.8L1133.0 869.4L1134.8 847.7L1136.6 827.8L1138.6 809.7L1140.8 793.0L1143.0 778.7L1145.4 766.5L1147.9 756.5L1150.5 748.5L1151.7 745.4L1153.1 742.8L1154.5 740.8L1155.8 739.4L1157.2 738.6L1158.6 738.3L1160.1 738.6L1161.5 739.5L1162.9 741.0L1164.4 743.2L1165.9 745.8L1167.3 749.1L1170.2 757.5L1173.0 768.1L1175.7 780.9L1178.3 795.6L1180.8 812.5L1183.2 831.2L1185.5 851.6L1187.6 873.8L1189.6 897.8L1191.4 923.6L1193.0 949.9L1196.0 1009.5M1214.2 1009.5L1215.8 977.8L1217.7 947.8L1219.7 920.7L1221.8 895.3L1224.2 871.8L1226.8 850.2L1229.6 830.7L1232.6 813.4L1235.8 797.8L1239.1 784.4L1242.7 772.7L1246.5 763.3L1248.5 759.3L1250.4 755.9L1252.5 753.0L1254.5 750.7L1256.6 748.8L1258.8 747.5L1261.0 746.7L1263.3 746.5L1265.6 746.8L1268.0 747.6L1270.4 749.0L1272.9 751.0L1275.4 753.6L1277.9 756.7L1280.4 760.3L1282.9 764.5L1288.1 774.6L1293.4 786.9L1298.6 801.2L1303.9 817.5L1309.1 835.8L1314.3 855.8L1319.4 877.6L1324.5 901.2L1329.4 926.3L1334.2 952.8L1338.8 980.4L1343.2 1009.5"/>
<path d="M174.0 746.9L201.6 746.5L212.6 746.8L218.2 747.4L223.2 748.3L227.9 749.5L232.3 751.2L236.9 753.4L241.4 756.3L245.5 759.6L249.5 763.5L253.3 768.0L256.9 773.1L260.4 778.8L263.7 785.1L267.2 792.8L270.6 801.2L273.8 810.6L276.8 820.5L279.7 831.5L282.4 843.1L285.0 855.5L287.6 869.2L289.9 883.2L292.1 898.6L296.2 931.7L299.9 968.7L303.0 1009.5M328.3 1009.5L330.2 980.1L332.1 952.4L334.3 926.5L336.6 901.7L339.0 878.8L341.7 857.1L344.5 837.2L347.4 819.0L350.6 802.3L353.8 787.9L357.0 775.5L360.5 765.1L363.9 757.0L365.6 753.8L367.4 751.1L369.1 749.1L370.8 747.6L372.5 746.8L374.2 746.5L375.8 746.8L377.5 747.6L379.0 749.0L380.6 750.9L382.2 753.4L383.7 756.4L386.7 764.0L389.5 773.8L392.3 785.5L394.9 799.3L397.3 815.0L399.6 832.8L401.8 851.9L403.8 873.6L405.6 896.6L407.3 921.6L408.9 948.5L411.7 1009.5M426.7 1009.5L429.2 949.7L432.2 896.6L433.9 872.3L435.7 850.6L437.6 830.3L439.6 812.3L441.7 795.2L444.0 780.5L446.3 767.9L448.8 757.2L451.2 749.0L453.8 743.0L455.0 741.0L456.3 739.4L457.6 738.5L458.8 738.3L460.0 738.6L461.3 739.5L462.5 740.9L463.7 742.9L466.0 748.5L468.3 756.6L470.5 766.6L472.6 778.8L474.6 793.4L476.6 809.9L478.3 828.0L480.0 847.8L483.0 893.8L485.5 947.0L487.6 1009.5M499.0 1009.5L501.1 945.0L503.5 889.3L506.4 841.2L508.0 819.3L509.7 799.8L511.6 781.9L513.5 765.9L515.5 752.7L517.6 741.3L519.8 732.7L521.9 726.3L523.0 724.1L524.1 722.5L525.3 721.5L526.4 721.2L527.5 721.5L528.6 722.4L529.7 724.1L530.7 726.2L532.7 732.2L534.8 740.9L536.7 752.1L538.6 765.2L540.4 780.7L542.0 798.0L543.6 817.7L545.0 839.1L547.5 887.1L549.7 944.7L551.5 1009.5M560.4 1009.5L562.2 939.9L564.5 877.1L567.1 824.7L568.6 800.8L570.1 779.5L571.8 760.0L573.7 742.5L575.5 728.1L577.5 715.7L579.5 705.9L581.6 699.1L582.6 696.7L583.6 694.9L584.7 693.9L585.8 693.5L586.8 693.9L587.8 694.9L588.8 696.7L589.8 698.9L591.8 705.8L593.7 715.2L595.5 727.3L597.2 741.6L598.9 758.4L600.4 778.0L603.2 822.6L605.5 876.3L607.4 938.9L608.9 1009.5M615.9 1009.5L617.5 930.2L619.5 860.3L622.0 800.9L623.4 774.0L624.9 750.2L626.6 728.3L628.3 708.6L630.2 691.9L632.2 677.6L634.2 666.4L636.3 658.5L637.3 655.7L638.3 653.7L639.4 652.4L640.4 652.0L641.4 652.4L642.5 653.5L643.5 655.5L644.4 658.1L646.4 665.9L648.3 676.4L650.0 689.8L651.7 705.6L653.3 724.2L654.8 746.2L656.1 770.4L657.3 796.6L659.5 856.1L661.2 926.1L662.5 1009.5M667.7 1009.5L669.2 915.9L671.1 834.3L673.5 764.7L674.9 733.0L676.4 705.2L678.1 679.0L679.9 656.4L681.8 636.6L683.8 619.8L685.9 606.5L688.1 596.9L689.2 593.6L690.3 591.2L691.4 589.8L692.5 589.3L693.6 589.7L694.6 591.1L695.6 593.3L696.7 596.4L698.6 605.4L700.5 617.9L702.3 633.5L704.0 652.9L705.5 674.4L707.0 699.8L709.4 757.4L711.3 826.3L712.8 909.2L713.9 1009.5M717.3 1009.5L718.6 890.0L720.4 790.9L721.5 747.1L722.8 704.9L724.2 666.8L725.8 632.5L727.6 599.3L729.6 570.3L731.7 545.3L734.0 524.2L736.4 507.2L737.6 500.4L738.8 494.8L740.1 490.6L741.3 487.5L742.5 485.6L743.1 485.2L743.8 485.0L744.4 485.2L744.9 485.6L746.0 487.3L747.1 490.0L748.1 493.7L750.2 504.4L752.1 519.1L753.9 537.8L755.5 560.5L757.0 587.5L758.3 617.2L759.4 648.6L760.4 685.7L762.0 771.2L763.3 880.9L764.0 1009.5M765.8 1009.5L766.3 901.9L767.2 803.3L768.2 720.7L769.5 646.3L771.1 576.9L773.1 513.4L775.5 454.0L778.2 400.4L781.5 349.4L785.2 303.2L787.2 282.9L789.3 263.7L791.5 246.2L793.8 230.5L796.1 216.6L798.5 204.3L800.9 193.8L803.5 185.1L806.0 178.4L808.6 173.4L809.9 171.7L811.2 170.5L812.5 169.8L813.8 169.5L815.2 169.8L816.5 170.5L817.8 171.7L819.1 173.4L821.7 178.3L824.2 185.0L826.7 193.7L829.3 204.4L831.7 216.6L834.0 231.0L836.3 246.6L838.5 264.0L840.6 283.1L842.6 304.0L846.4 349.8L849.7 401.4L852.5 454.5L854.9 513.2L856.9 578.1L858.5 646.6L859.9 724.4L860.9 807.0L861.8 905.7L862.3 1009.5M864.1 1009.5L864.9 875.9L866.1 774.3L867.8 686.1L868.8 649.5L869.9 616.7L871.3 586.2L872.8 560.0L874.4 537.8L876.3 518.8L878.3 504.0L880.3 493.6L881.4 489.9L882.5 487.2L883.7 485.6L884.2 485.2L884.8 485.0L885.4 485.2L886.1 485.6L887.3 487.6L888.6 490.8L889.9 495.1L892.3 507.1L894.8 524.1L897.1 545.2L899.3 570.3L901.3 599.4L903.3 632.8L904.9 667.7L906.3 704.6L907.6 745.2L908.8 789.9L910.6 888.9L912.0 1009.5M915.5 1009.5L916.7 910.5L918.3 826.6L920.2 757.7L921.5 726.3L922.8 699.2L924.3 673.7L925.8 652.3L927.6 633.0L929.5 617.5L931.4 605.2L933.5 596.4L934.5 593.4L935.6 591.1L936.7 589.7L937.8 589.3L938.9 589.7L940.1 591.2L941.3 593.6L942.4 597.0L944.7 606.5L946.9 620.0L949.0 636.5L951.1 656.8L953.0 680.0L954.8 706.1L956.3 733.8L957.9 765.5L960.4 835.5L962.4 915.7L963.9 1009.5M969.4 1009.5L970.8 926.0L972.7 855.1L974.9 795.8L976.2 769.9L977.6 746.1L979.2 724.5L980.9 705.5L982.7 689.5L984.6 676.1L986.6 665.6L988.6 658.1L989.7 655.5L990.7 653.6L991.8 652.4L992.9 652.0L994.0 652.4L995.2 653.6L996.3 655.7L997.4 658.5L999.6 666.3L1001.8 677.4L1003.9 691.5L1005.9 708.0L1007.8 727.5L1009.7 750.1L1011.3 774.1L1012.9 801.3L1015.5 860.7L1017.7 929.1L1019.5 1009.5M1027.1 1009.5L1028.8 936.4L1030.9 874.1L1033.5 821.5L1034.9 798.4L1036.5 777.2L1038.2 758.0L1040.0 741.5L1041.9 727.1L1043.9 715.0L1046.0 705.9L1048.1 699.0L1049.2 696.7L1050.4 694.9L1051.5 693.9L1052.7 693.5L1053.8 693.9L1055.0 695.0L1056.2 696.7L1057.4 699.2L1059.7 706.2L1061.9 715.9L1064.2 728.5L1066.3 743.3L1068.3 760.8L1070.3 780.3L1072.0 801.7L1073.7 824.8L1076.7 878.5L1079.1 938.8L1081.2 1009.5M1091.5 1009.5L1093.5 943.2L1096.0 887.3L1097.4 861.8L1099.0 838.2L1100.7 816.5L1102.5 797.4L1104.5 779.6L1106.5 764.5L1108.7 751.3L1110.9 740.7L1113.3 732.1L1114.6 728.7L1115.8 726.0L1117.0 723.9L1118.3 722.3L1119.5 721.5L1120.8 721.2L1122.1 721.5L1123.4 722.4L1124.8 724.1L1126.1 726.3L1127.5 729.3L1128.7 732.8L1131.3 741.7L1133.9 753.0L1136.3 766.7L1138.6 782.3L1140.9 800.3L1143.0 820.2L1145.0 841.9L1146.8 865.4L1148.5 890.6L1151.5 946.0L1154.1 1009.5M1168.4 1009.5L1169.7 976.5L1171.1 946.5L1172.7 918.7L1174.4 893.0L1176.3 869.4L1178.3 847.2L1180.5 827.1L1182.9 808.6L1185.4 792.3L1188.1 778.1L1190.9 766.1L1193.8 756.1L1196.9 748.3L1198.4 745.3L1200.0 742.8L1201.6 740.8L1203.3 739.4L1204.9 738.6L1206.6 738.3L1208.4 738.6L1210.2 739.5L1211.9 741.0L1213.7 743.1L1215.6 745.9L1217.3 749.2L1220.9 757.6L1224.4 768.3L1227.9 781.3L1231.3 796.2L1234.5 813.4L1237.6 832.2L1240.5 852.8L1243.3 874.7L1245.9 898.6L1248.3 923.7L1250.5 950.8L1252.6 979.1L1254.5 1009.5M1280.5 1009.5L1283.5 971.0L1287.1 935.6L1291.1 903.6L1293.3 888.9L1295.6 875.4L1297.9 862.6L1300.5 850.4L1303.1 839.0L1305.9 828.3L1308.9 818.4L1311.9 809.3L1315.1 800.8L1318.5 793.1L1321.8 786.5L1325.2 780.4L1328.9 774.9L1332.6 770.0L1336.6 765.7L1340.7 761.9L1345.0 758.6L1349.6 755.7L1354.3 753.4L1359.3 751.5L1364.6 750.0L1370.5 748.8L1376.8 748.0L1384.1 747.4L1392.5 747.1L1402.5 746.9"/>
<path d="M245.8 1009.5L249.4 980.9L253.2 953.5L257.3 927.5L261.5 902.6L265.9 879.1L270.5 857.3L275.2 837.1L280.0 818.8L284.9 802.2L289.9 787.6L294.9 775.1L299.8 764.9L302.2 760.6L304.7 756.8L307.1 753.7L309.5 751.1L311.9 749.1L314.2 747.6L316.5 746.8L318.8 746.5L321.0 746.7L323.1 747.5L325.2 748.9L327.3 750.8L329.3 753.2L331.3 756.1L333.2 759.5L335.1 763.5L338.8 773.1L342.3 784.6L345.6 798.1L348.7 813.8L351.7 831.5L354.4 851.0L356.9 872.4L359.2 895.7L361.3 920.6L363.3 948.0L365.1 977.2L366.8 1009.5M384.9 1009.5L387.8 952.0L389.5 925.7L391.2 901.0L393.2 877.9L395.2 856.4L397.4 836.5L399.7 818.3L402.2 801.9L404.7 787.6L407.3 775.4L410.0 765.1L412.8 756.9L414.2 753.8L415.6 751.1L417.0 749.1L418.4 747.6L419.8 746.8L421.2 746.5L422.6 746.7L423.9 747.6L425.3 749.0L426.6 750.9L427.9 753.4L429.2 756.4L431.7 764.1L434.2 774.0L436.5 785.8L438.7 799.8L440.9 815.8L442.8 833.5L444.7 853.0L446.4 874.2L448.0 898.0L450.8 949.4L453.2 1009.5M466.4 1009.5L468.6 950.4L471.2 897.2L474.3 851.4L476.0 831.1L477.8 812.2L479.8 795.6L481.8 780.6L483.9 767.9L486.1 757.3L488.4 749.0L490.6 743.1L491.7 741.0L492.9 739.5L494.0 738.6L495.2 738.3L496.3 738.6L497.4 739.4L498.5 740.9L499.6 742.9L501.8 748.7L503.9 756.8L506.0 767.1L507.9 779.3L509.7 793.7L511.5 810.4L513.1 828.7L514.7 849.4L517.4 895.3L519.8 948.7L521.7 1009.5M532.2 1009.5L534.1 946.5L536.4 889.8L539.1 840.8L540.6 819.3L542.3 799.4L544.0 781.7L545.8 765.8L547.7 752.3L549.6 741.4L551.7 732.5L553.7 726.2L554.8 724.0L555.8 722.4L556.9 721.5L557.9 721.2L558.9 721.5L560.0 722.5L561.0 724.1L561.9 726.1L563.9 732.4L565.8 741.0L567.7 751.9L569.4 764.7L571.1 780.3L572.6 797.7L575.4 837.9L577.9 886.7L580.0 943.2L581.7 1009.5M590.2 1009.5L591.9 940.2L594.0 878.2L596.5 824.8L599.5 779.7L601.1 760.1L602.9 742.5L604.7 728.0L606.6 715.6L608.5 706.1L610.5 699.1L611.4 696.8L612.4 695.0L613.5 693.9L614.5 693.5L615.5 693.9L616.5 694.9L617.4 696.6L618.4 699.0L620.3 705.8L622.1 715.3L623.9 727.5L625.5 741.6L627.1 758.3L628.6 777.6L631.2 821.3L633.5 874.6L635.3 936.2L636.8 1009.5M643.6 1009.5L645.2 928.5L647.2 859.3L649.6 800.2L650.9 773.9L652.4 749.4L654.1 727.1L655.8 707.9L657.6 691.4L659.5 677.3L661.4 666.2L663.4 658.4L664.4 655.6L665.5 653.6L666.5 652.4L667.5 652.0L668.5 652.4L669.5 653.6L670.5 655.6L671.5 658.3L673.3 665.8L675.2 676.6L676.9 689.8L678.5 705.9L680.1 725.2L681.5 746.7L684.0 797.1L686.1 855.9L687.8 927.5L689.1 1009.5M694.2 1009.5L695.6 913.4L697.5 833.8L699.8 765.0L701.2 734.1L702.7 705.7L704.4 678.9L706.1 656.1L708.1 636.0L710.0 619.6L712.2 606.2L714.3 596.8L715.3 593.7L716.4 591.2L717.5 589.7L718.6 589.3L719.6 589.7L720.6 591.0L721.6 593.3L722.7 596.5L724.6 605.6L726.5 617.8L728.3 633.6L729.9 652.5L731.4 674.2L732.8 699.9L734.1 726.9L735.2 758.3L737.1 828.6L738.6 909.1L739.7 1009.5M743.1 1009.5L744.4 890.7L746.1 790.6L748.5 706.1L749.9 667.5L751.5 632.8L753.2 600.4L755.2 571.0L757.3 545.7L759.6 524.3L762.0 507.2L764.4 495.1L765.6 490.7L766.8 487.6L768.0 485.7L768.7 485.2L769.3 485.0L769.9 485.2L770.4 485.6L771.5 487.2L772.6 490.0L773.6 493.7L775.7 504.4L777.6 519.2L779.4 538.0L781.0 560.9L782.5 588.0L783.8 617.9L784.9 649.7L785.9 687.2L787.6 773.9L788.7 877.8L789.5 1009.5M791.3 1009.5L791.8 904.9L792.6 805.1L793.6 721.9L795.0 643.7L796.6 575.0L798.6 511.9L801.0 452.8L803.7 399.5L807.0 348.7L810.8 302.7L812.8 282.5L814.9 263.3L817.1 246.0L819.4 229.9L821.7 216.1L824.1 203.9L826.5 193.5L829.1 184.9L831.6 178.3L834.2 173.4L835.5 171.7L836.8 170.5L838.1 169.8L839.4 169.5L840.8 169.8L842.1 170.5L843.4 171.7L844.7 173.4L847.3 178.2L849.9 185.0L852.4 193.6L854.9 204.2L857.4 216.6L859.8 230.8L862.1 246.7L864.3 264.5L866.5 283.4L868.5 304.1L872.3 350.3L875.7 401.4L878.5 455.1L880.9 513.0L882.9 576.9L884.6 647.2L886.0 723.8L887.0 804.7L887.8 900.4L888.4 1009.5M890.2 1009.5L891.0 877.8L892.3 772.1L894.0 685.8L895.0 649.8L896.2 617.4L897.5 587.3L899.0 561.2L900.7 538.3L902.6 519.5L904.6 504.3L906.7 493.7L907.8 490.0L909.0 487.2L910.1 485.6L910.7 485.2L911.3 485.0L911.9 485.2L912.6 485.7L913.9 487.6L915.2 490.7L916.5 495.1L917.8 500.7L919.0 507.2L921.5 524.4L923.9 545.7L926.2 571.2L928.2 599.8L930.1 632.4L931.8 667.9L933.3 705.8L934.7 747.9L935.9 792.1L937.8 893.8L939.1 1009.5M942.8 1009.5L943.9 911.7L945.6 826.3L947.6 757.1L948.8 726.5L950.2 698.9L951.7 674.1L953.4 651.5L955.2 632.9L957.1 617.3L959.1 605.0L961.3 596.3L962.4 593.2L963.4 591.0L964.5 589.7L965.7 589.3L966.9 589.7L968.1 591.3L969.3 593.8L970.5 597.1L972.8 606.6L975.1 620.0L977.3 636.6L979.4 656.8L981.4 679.9L983.2 706.1L984.9 735.3L986.4 766.0L989.0 835.3L991.1 915.0L992.7 1009.5M998.4 1009.5L999.9 926.7L1001.8 855.9L1004.1 797.0L1005.5 770.6L1007.0 746.6L1008.6 725.0L1010.4 705.9L1012.2 690.0L1014.2 676.5L1016.3 665.8L1018.5 658.1L1019.6 655.5L1020.8 653.5L1021.9 652.4L1023.0 652.0L1024.2 652.4L1025.4 653.6L1026.6 655.6L1027.7 658.4L1030.1 666.3L1032.4 677.5L1034.6 691.8L1036.7 708.6L1038.7 727.8L1040.6 750.1L1042.3 773.7L1044.0 800.4L1045.5 829.5L1046.8 860.7L1049.2 929.4L1051.0 1009.5M1059.2 1009.5L1061.0 936.7L1063.2 874.3L1066.0 821.1L1067.5 797.5L1069.2 776.9L1071.0 757.6L1072.9 741.1L1075.0 726.8L1077.2 714.8L1079.4 705.5L1081.7 698.9L1082.9 696.6L1084.1 694.9L1085.3 693.9L1086.6 693.5L1087.8 693.9L1089.1 695.0L1090.4 696.8L1091.6 699.2L1092.9 702.5L1094.1 706.3L1096.6 716.1L1099.0 728.4L1101.3 743.4L1103.5 760.5L1105.6 780.2L1107.5 801.3L1109.4 825.1L1111.1 850.9L1112.6 878.6L1115.4 939.9L1117.6 1009.5M1128.9 1009.5L1131.2 943.9L1134.0 886.7L1135.6 861.7L1137.3 837.8L1139.2 816.8L1141.2 797.2L1143.4 779.7L1145.7 764.4L1148.2 751.3L1150.7 740.7L1153.4 732.2L1154.8 728.9L1156.2 726.1L1157.6 723.9L1159.1 722.4L1160.5 721.5L1161.9 721.2L1163.4 721.5L1164.9 722.4L1166.4 724.0L1168.0 726.3L1169.6 729.3L1171.1 732.8L1174.1 741.7L1177.0 753.0L1179.9 766.7L1182.6 782.4L1185.3 800.5L1187.7 820.2L1190.0 841.7L1192.2 865.1L1194.3 890.5L1196.2 918.0L1197.9 946.4L1200.9 1009.5M1218.4 1009.5L1220.0 976.9L1221.8 946.0L1223.9 917.3L1226.1 891.4L1228.5 867.6L1231.1 845.2L1234.0 825.0L1237.1 806.9L1240.3 790.9L1243.8 777.1L1247.5 765.3L1249.5 760.0L1251.5 755.5L1253.5 751.4L1255.6 748.0L1257.7 745.0L1259.9 742.6L1262.1 740.7L1264.4 739.3L1266.7 738.5L1269.0 738.3L1271.4 738.5L1273.8 739.4L1276.3 740.7L1278.8 742.6L1281.4 745.0L1283.9 748.0L1286.6 751.6L1289.3 755.7L1294.7 765.4L1300.2 777.2L1305.8 791.1L1311.5 807.1L1317.2 824.7L1322.9 844.2L1328.7 865.6L1334.7 889.2L1340.5 914.1L1346.7 941.6L1353.1 971.9L1360.8 1009.5"/>
<path d="M174.0 741.3L186.6 740.9L209.8 738.7L218.8 738.3L224.0 738.4L228.6 738.8L232.9 739.6L237.0 740.7L241.6 742.6L246.1 745.0L250.2 748.0L254.3 751.6L258.1 755.9L261.8 760.8L265.3 766.4L268.7 772.6L272.3 780.4L275.7 788.9L279.0 798.4L282.1 808.9L285.1 820.3L287.9 832.4L290.6 845.8L293.2 859.8L295.6 874.7L297.9 891.1L300.0 907.9L302.0 926.3L305.7 965.3L308.9 1009.5M332.9 1009.5L334.6 980.2L336.5 952.4L338.6 926.4L340.8 901.5L343.2 878.5L345.8 856.7L348.4 837.2L351.3 819.0L354.3 802.6L357.5 788.0L360.7 775.6L364.0 765.1L367.4 757.0L369.1 753.8L370.8 751.1L372.5 749.1L374.1 747.7L375.8 746.8L377.5 746.5L379.1 746.7L380.7 747.6L382.2 748.9L383.8 750.9L385.4 753.4L386.9 756.4L389.8 763.9L392.7 773.8L395.4 785.6L398.0 799.5L400.5 815.4L402.8 833.3L404.9 852.5L406.9 873.7L408.7 896.8L410.4 921.8L412.0 948.7L414.8 1009.5M429.9 1009.5L432.3 951.9L435.3 900.4L436.9 877.3L438.7 855.6L440.5 836.1L442.5 818.1L444.6 801.7L446.8 787.5L449.0 775.3L451.4 764.9L453.8 757.0L456.3 751.1L457.5 749.1L458.7 747.6L460.0 746.8L461.2 746.5L462.4 746.7L463.6 747.6L464.8 749.0L466.0 750.9L468.3 756.5L470.5 764.2L472.7 774.1L474.8 786.2L476.8 800.0L478.7 816.1L480.5 833.9L482.1 853.2L485.2 898.0L487.7 949.4L489.8 1009.5M501.8 1009.5L503.9 949.8L506.3 896.4L509.2 850.2L510.7 830.0L512.4 811.9L514.2 795.2L516.1 780.2L518.0 767.3L520.0 757.1L522.1 748.9L524.2 743.0L525.2 741.0L526.3 739.4L527.4 738.5L528.4 738.3L529.5 738.6L530.5 739.5L531.6 740.9L532.6 743.0L534.6 748.7L536.5 756.8L538.5 767.1L540.2 779.2L542.0 794.0L543.6 810.5L546.6 848.4L549.2 894.6L551.4 947.8L553.2 1009.5M563.1 1009.5L564.9 945.7L567.1 889.5L569.7 840.4L572.6 799.6L574.3 781.8L576.0 766.2L577.8 752.4L579.7 741.4L581.6 732.6L583.6 726.2L584.5 724.1L585.5 722.4L586.6 721.5L587.5 721.2L588.6 721.5L589.5 722.5L590.5 724.0L591.4 726.2L593.3 732.3L595.1 740.9L596.9 751.9L598.5 764.7L600.2 780.4L601.7 797.7L604.4 838.7L606.7 886.9L608.7 943.9L610.3 1009.5M618.5 1009.5L620.2 940.6L622.2 878.4L624.7 824.5L627.5 779.9L629.0 760.5L630.7 742.9L632.5 727.9L634.3 715.9L636.2 706.1L638.1 699.1L639.1 696.7L640.0 695.0L641.0 693.9L642.0 693.5L642.9 693.9L643.9 694.9L644.9 696.6L645.7 698.9L647.6 705.6L649.4 714.9L651.1 726.8L652.7 741.2L654.3 758.3L655.7 777.2L658.3 822.1L660.5 875.5L662.3 936.6L663.7 1009.5M670.4 1009.5L671.9 929.4L673.8 860.7L676.1 801.4L678.9 750.4L680.5 728.4L682.2 708.5L684.0 691.6L685.8 677.7L687.7 666.6L689.7 658.6L690.7 655.8L691.7 653.7L692.7 652.4L693.7 652.0L694.7 652.4L695.6 653.5L696.6 655.4L697.5 658.0L699.4 665.5L701.2 676.3L702.9 689.8L704.6 706.2L706.1 724.9L707.5 746.8L710.0 796.6L712.0 856.3L713.7 925.9L715.0 1009.5M720.0 1009.5L721.4 916.4L723.2 834.9L725.5 765.0L726.9 733.8L728.4 705.1L730.0 679.1L731.8 656.0L733.7 636.4L735.6 619.7L737.7 606.6L739.8 597.0L740.8 593.7L741.9 591.2L743.0 589.8L744.1 589.3L745.1 589.7L746.1 591.1L747.2 593.4L748.1 596.4L750.1 605.5L751.9 617.9L753.6 633.2L755.3 652.0L756.8 673.8L758.2 699.6L760.5 756.3L762.5 826.1L764.0 910.8L765.0 1009.5M768.4 1009.5L769.7 891.6L771.5 790.8L773.8 705.9L775.2 667.2L776.8 632.3L778.6 600.0L780.5 570.6L782.7 545.2L784.9 524.0L787.3 506.9L789.7 494.8L790.9 490.5L792.1 487.4L793.4 485.6L794.0 485.2L794.5 485.0L795.1 485.2L795.7 485.6L796.8 487.2L797.9 490.0L798.9 493.7L800.9 504.4L802.9 519.2L804.6 538.0L806.3 560.8L807.8 587.9L809.1 617.8L810.2 649.5L811.2 686.8L812.8 773.1L814.0 876.2L814.8 1009.5M816.5 1009.5L817.1 897.8L817.9 807.4L818.9 723.7L820.3 645.2L821.9 576.3L823.9 511.2L826.3 452.4L829.1 399.4L832.4 348.0L836.2 302.4L838.1 282.3L840.3 263.3L842.4 246.0L844.8 230.1L847.1 215.9L849.5 203.9L852.1 193.3L854.6 184.8L857.2 178.1L859.8 173.3L861.1 171.7L862.4 170.5L863.7 169.8L865.0 169.5L866.4 169.8L867.7 170.5L869.1 171.7L870.4 173.4L873.0 178.3L875.6 185.0L878.2 193.8L880.7 204.3L883.2 216.5L885.6 230.9L888.0 247.1L890.3 264.6L892.5 283.9L894.5 304.3L898.4 350.6L901.8 401.9L904.7 456.1L907.1 515.0L909.2 578.1L910.9 647.2L912.3 722.1L913.4 806.8L914.2 901.1L914.8 1009.5M916.6 1009.5L917.4 876.9L918.7 773.3L920.4 688.0L921.5 650.1L922.7 616.6L924.1 585.9L925.7 559.6L927.4 537.5L929.3 518.7L931.4 504.0L932.5 498.1L933.6 493.4L934.6 489.9L935.8 487.2L937.0 485.6L937.6 485.2L938.2 485.0L938.8 485.2L939.5 485.6L940.9 487.6L942.2 490.8L943.5 495.2L944.9 501.0L946.2 507.7L948.7 524.5L951.2 545.9L953.5 571.5L955.6 600.3L957.6 633.2L959.3 667.7L960.9 706.2L962.2 747.0L963.4 792.3L965.4 890.2L966.8 1009.5M970.6 1009.5L971.8 910.7L973.4 827.8L975.6 756.4L976.9 725.4L978.3 698.8L979.8 673.8L981.5 652.0L983.4 633.2L985.4 617.6L987.5 605.2L989.7 596.4L990.8 593.3L992.0 591.0L993.1 589.7L994.3 589.3L995.5 589.7L996.8 591.2L998.0 593.5L999.2 596.9L1000.4 601.1L1001.7 606.4L1004.1 619.5L1006.4 636.3L1008.6 656.1L1010.7 679.8L1012.6 705.7L1014.4 734.6L1015.9 765.1L1017.4 798.4L1018.7 834.5L1020.8 915.6L1022.5 1009.5M1028.5 1009.5L1030.1 927.6L1032.1 855.4L1034.6 796.4L1036.0 770.2L1037.6 746.4L1039.3 724.3L1041.2 705.7L1043.2 689.5L1045.3 676.1L1047.5 665.7L1048.6 661.4L1049.8 658.0L1050.9 655.4L1052.2 653.5L1053.3 652.4L1054.6 652.0L1055.8 652.4L1057.1 653.7L1058.4 655.8L1059.6 658.6L1062.1 666.5L1064.5 677.7L1066.9 692.0L1069.2 708.8L1071.4 728.7L1073.4 751.2L1075.3 776.1L1077.0 802.5L1078.6 831.0L1080.0 861.8L1082.5 929.7L1084.5 1009.5M1093.3 1009.5L1095.2 938.1L1097.6 875.0L1099.1 846.8L1100.6 821.0L1102.3 797.4L1104.1 776.9L1106.1 757.8L1108.2 741.1L1110.5 726.7L1112.8 715.1L1115.2 705.8L1116.5 702.0L1117.8 699.0L1119.1 696.6L1120.5 694.9L1121.8 693.9L1123.2 693.5L1124.5 693.9L1126.0 694.9L1127.4 696.8L1128.7 699.2L1130.2 702.4L1131.5 706.2L1134.3 716.2L1137.0 728.6L1139.6 743.6L1142.1 760.9L1144.4 780.9L1146.6 802.4L1148.7 826.1L1150.6 851.8L1152.4 879.7L1154.0 910.0L1155.4 941.0L1157.9 1009.5M1170.9 1009.5L1172.2 975.2L1173.6 942.6L1175.2 912.6L1176.9 885.2L1178.8 859.4L1180.8 836.1L1183.0 815.1L1185.4 795.8L1187.9 778.9L1190.7 763.8L1193.5 751.0L1196.6 740.3L1198.2 735.8L1199.8 731.9L1201.4 728.6L1203.1 726.0L1204.8 723.9L1206.5 722.4L1208.2 721.5L1210.0 721.2L1211.8 721.5L1213.7 722.5L1215.6 724.1L1217.5 726.4L1219.4 729.3L1221.3 732.9L1223.2 737.1L1225.1 742.0L1228.9 753.6L1232.6 767.5L1236.1 783.6L1239.5 801.7L1242.7 821.5L1245.8 843.3L1248.7 866.7L1251.4 892.2L1253.9 919.2L1256.2 947.9L1258.4 977.9L1260.3 1009.5M1285.7 1009.5L1288.7 971.4L1292.1 936.7L1296.0 905.1L1300.3 876.9L1302.7 864.0L1305.1 851.8L1307.7 840.3L1310.4 829.5L1313.3 819.4L1316.2 810.2L1319.3 801.6L1322.6 793.6L1325.9 786.5L1329.3 780.1L1332.8 774.3L1336.6 768.9L1340.5 764.1L1344.6 759.9L1348.9 756.1L1353.4 752.9L1358.1 750.1L1363.1 747.8L1368.4 745.8L1374.2 744.2L1380.5 743.0L1387.3 742.1L1394.7 741.5L1402.5 741.3"/>
<path d="M251.3 1009.5L254.6 979.9L258.1 951.9L261.8 925.4L265.7 899.9L269.9 875.8L274.2 853.6L278.7 832.7L283.3 813.7L288.1 796.5L293.0 781.3L297.8 768.4L302.7 757.6L305.2 753.1L307.6 749.2L310.0 745.9L312.4 743.1L314.8 741.0L317.1 739.5L319.4 738.6L321.8 738.3L323.9 738.5L326.1 739.4L328.2 740.8L330.2 742.7L332.3 745.2L334.3 748.2L336.2 751.7L338.1 755.8L341.8 765.7L345.2 777.5L348.6 791.7L351.7 807.9L354.7 826.1L357.4 846.3L359.9 868.5L362.2 892.5L364.3 918.3L366.3 946.9L368.1 977.4L369.7 1009.5M387.3 1009.5L390.1 951.4L393.5 900.6L395.4 877.1L397.4 856.0L399.6 835.9L401.8 818.0L404.2 801.8L406.7 787.4L409.3 775.1L412.0 764.9L414.7 756.9L416.1 753.8L417.5 751.1L418.9 749.1L420.3 747.6L421.7 746.8L423.0 746.5L424.4 746.7L425.7 747.5L427.1 748.9L428.4 750.8L429.7 753.3L431.0 756.3L433.5 764.0L435.9 773.9L438.3 785.7L440.5 799.7L442.6 815.6L444.6 833.3L446.5 852.7L448.2 873.7L449.8 897.3L452.7 949.6L455.0 1009.5M468.4 1009.5L470.6 951.5L473.3 899.4L476.3 854.6L478.0 835.5L479.8 817.6L481.7 801.2L483.7 787.0L485.7 774.9L487.8 764.8L490.0 756.8L492.2 751.1L493.3 749.1L494.4 747.6L495.6 746.7L496.7 746.5L497.8 746.7L498.9 747.6L500.0 749.0L501.1 751.0L503.2 756.6L505.2 764.2L507.2 774.0L509.1 785.8L511.0 799.8L512.7 816.0L514.4 833.7L515.9 852.8L518.7 897.8L521.1 950.4L523.0 1009.5M534.2 1009.5L536.1 949.9L538.4 896.0L541.0 850.3L544.1 812.0L545.7 795.6L547.5 780.6L549.3 767.8L551.2 757.2L553.1 749.1L555.1 743.1L556.1 741.1L557.1 739.5L558.1 738.6L559.1 738.3L560.2 738.6L561.1 739.4L562.1 741.0L563.1 743.0L565.0 748.8L566.8 756.8L568.7 767.3L570.4 779.6L572.0 794.1L573.6 810.7L576.4 848.9L578.9 894.9L581.0 949.3L582.7 1009.5M592.2 1009.5L593.9 946.4L596.0 889.4L598.4 840.8L601.3 799.3L602.9 781.5L604.5 766.0L606.3 752.2L608.1 741.2L609.9 732.5L611.8 726.3L612.7 724.1L613.7 722.5L614.6 721.5L615.6 721.2L616.5 721.5L617.5 722.4L618.4 724.1L619.3 726.2L621.1 732.2L622.9 740.8L624.6 751.7L626.2 765.0L627.8 780.6L629.2 797.7L631.9 839.0L634.1 887.6L636.1 944.6L637.6 1009.5M645.6 1009.5L647.2 940.0L649.2 878.2L651.5 824.3L654.3 779.7L655.8 760.6L657.4 743.2L659.1 728.3L660.9 716.0L662.7 706.2L664.6 699.3L665.5 696.8L666.5 695.0L667.4 693.9L668.4 693.5L669.4 693.9L670.2 694.8L671.2 696.6L672.1 698.8L673.9 705.4L675.6 714.9L677.3 727.1L678.9 741.3L680.4 758.0L681.8 777.3L684.4 821.9L686.5 874.5L688.3 936.6L689.7 1009.5M696.2 1009.5L697.7 930.5L699.6 860.4L701.9 800.4L704.6 750.0L706.2 727.7L707.9 708.4L709.6 691.9L711.4 677.7L713.3 666.5L715.2 658.6L716.2 655.8L717.2 653.7L718.2 652.4L719.2 652.0L720.1 652.4L721.1 653.5L722.0 655.4L723.0 658.1L724.8 665.8L726.6 676.4L728.3 690.0L729.9 706.0L731.4 724.9L732.8 747.0L735.2 795.9L737.3 856.1L738.9 926.5L740.2 1009.5M745.2 1009.5L746.5 915.5L748.4 833.7L750.7 763.7L752.1 732.4L753.5 705.0L755.1 678.8L756.9 656.4L758.7 636.6L760.7 619.8L762.7 606.5L764.8 596.9L765.9 593.7L767.0 591.2L768.0 589.7L769.1 589.3L770.1 589.7L771.1 591.0L772.1 593.3L773.1 596.3L775.1 605.5L776.9 617.9L778.6 633.3L780.3 652.3L781.8 674.2L783.2 700.2L785.5 757.3L787.4 827.9L788.9 909.0L790.0 1009.5M793.4 1009.5L794.7 887.9L796.4 788.4L798.8 704.3L800.2 665.8L801.8 631.3L803.5 599.1L805.5 569.9L807.6 544.7L809.9 523.6L812.3 506.6L814.7 494.7L815.9 490.4L817.1 487.4L818.3 485.6L819.0 485.1L819.5 485.0L820.1 485.2L820.7 485.6L821.8 487.3L822.9 490.0L823.9 494.0L826.0 504.9L827.9 519.8L829.7 538.6L831.3 561.6L832.8 588.7L834.1 618.6L835.2 650.3L836.2 687.7L837.9 773.8L839.0 876.5L839.8 1009.5M841.6 1009.5L842.2 900.4L843.0 803.0L844.0 721.1L845.4 643.8L847.0 575.7L849.1 511.2L851.4 452.8L854.2 399.0L857.6 348.0L861.4 302.1L863.5 281.6L865.6 262.8L867.8 245.8L870.1 230.1L872.5 216.1L874.9 203.8L877.5 193.4L880.0 184.8L882.6 178.1L885.3 173.3L886.6 171.7L888.0 170.4L889.3 169.7L890.6 169.5L892.0 169.7L893.4 170.5L894.7 171.7L896.0 173.4L897.4 175.6L898.7 178.3L901.4 185.1L904.1 194.0L906.7 204.6L909.2 217.0L911.6 231.2L914.0 247.1L916.4 264.8L918.6 284.3L920.7 305.1L924.7 351.4L928.2 402.7L931.0 455.8L933.6 514.8L935.7 578.5L937.4 649.0L938.8 722.4L939.9 804.7L940.7 895.1L941.4 1009.5M943.2 1009.5L944.1 876.1L945.4 770.6L947.2 685.5L948.3 649.0L949.5 616.5L951.0 586.6L952.6 559.8L954.4 537.4L956.3 519.1L958.4 504.3L959.5 498.5L960.6 493.6L961.8 489.9L963.0 487.1L964.3 485.5L964.9 485.1L965.5 485.0L966.2 485.2L966.9 485.7L968.2 487.6L969.6 490.7L971.0 495.1L972.3 500.7L973.6 507.2L976.3 524.2L978.8 545.3L981.2 570.5L983.4 600.0L985.5 632.8L987.3 667.3L988.9 705.9L990.3 747.2L991.6 790.6L992.7 838.5L993.6 891.5L995.1 1009.5M999.0 1009.5L1000.3 908.5L1002.0 826.4L1004.3 756.1L1005.6 726.3L1007.0 699.3L1008.6 674.3L1010.4 652.4L1012.3 633.7L1014.4 617.7L1016.6 605.4L1017.8 600.4L1018.9 596.5L1020.1 593.4L1021.3 591.1L1022.6 589.7L1023.8 589.3L1025.1 589.7L1026.4 591.2L1027.7 593.5L1029.0 596.9L1030.3 601.2L1031.6 606.5L1034.1 619.7L1036.5 636.6L1038.9 656.7L1041.0 679.9L1043.1 706.2L1044.9 734.7L1046.6 766.2L1048.1 799.3L1049.5 835.4L1051.8 917.1L1053.6 1009.5M1059.9 1009.5L1061.6 927.2L1063.8 855.1L1065.1 823.2L1066.4 795.3L1067.9 769.8L1069.6 745.7L1071.5 724.3L1073.5 705.6L1075.6 689.5L1077.8 676.1L1080.2 665.5L1081.5 661.4L1082.7 658.0L1083.9 655.4L1085.2 653.5L1086.5 652.4L1087.8 652.0L1089.2 652.4L1090.5 653.6L1091.9 655.7L1093.3 658.6L1094.6 662.2L1096.0 666.7L1098.7 678.0L1101.2 692.3L1103.7 709.3L1106.0 728.7L1108.3 751.4L1110.3 775.9L1112.2 801.9L1113.9 831.4L1115.5 862.2L1118.2 931.3L1120.4 1009.5M1130.1 1009.5L1132.3 935.4L1133.6 903.0L1135.0 873.1L1136.6 845.7L1138.4 819.7L1140.2 797.0L1142.3 776.0L1144.4 757.3L1146.8 740.6L1149.4 726.4L1152.0 714.6L1154.8 705.4L1156.3 701.8L1157.7 698.8L1159.1 696.6L1160.6 694.9L1162.1 693.9L1163.7 693.5L1165.3 693.9L1166.9 695.0L1168.5 696.8L1170.2 699.3L1171.8 702.6L1173.4 706.4L1176.6 716.3L1179.7 729.0L1182.7 743.9L1185.6 761.2L1188.4 781.1L1191.0 802.9L1193.4 826.2L1195.6 851.8L1197.8 879.7L1199.7 909.2L1201.4 941.1L1203.0 974.4L1204.4 1009.5M1220.3 1009.5L1221.9 974.4L1223.8 941.0L1225.7 911.2L1228.0 882.8L1230.4 857.7L1233.0 834.2L1235.9 813.0L1239.0 793.8L1242.4 776.9L1246.0 762.1L1249.8 749.6L1251.8 744.3L1253.9 739.4L1256.0 735.1L1258.1 731.5L1260.3 728.3L1262.6 725.8L1264.9 723.7L1267.3 722.3L1269.8 721.4L1272.2 721.2L1274.5 721.4L1276.9 722.2L1279.4 723.4L1281.8 725.1L1284.4 727.4L1286.9 730.1L1289.5 733.3L1292.1 737.0L1297.4 745.8L1302.9 756.7L1308.5 769.4L1314.3 784.2L1319.1 797.5L1324.0 812.1L1329.1 828.2L1334.3 845.6L1344.7 883.1L1368.0 970.8L1374.3 992.5L1379.8 1009.5"/>
<path d="M174.0 725.0L180.6 724.9L187.4 724.4L211.3 721.8L220.4 721.2L225.5 721.2L230.2 721.6L234.5 722.4L238.6 723.5L243.3 725.5L247.8 728.0L252.1 731.1L256.2 734.9L260.1 739.4L263.8 744.6L267.4 750.5L270.8 757.0L274.5 765.3L277.9 774.5L281.3 784.6L284.4 795.6L287.4 807.6L290.3 820.6L293.0 834.7L295.6 850.0L298.1 866.3L300.3 883.2L302.4 901.2L304.5 920.9L308.1 962.9L311.2 1009.5M333.6 1009.5L335.3 978.9L337.1 950.6L339.2 923.3L341.3 898.1L343.7 874.1L346.3 852.0L348.9 831.8L351.8 813.0L354.8 796.1L357.9 781.1L361.2 768.1L364.6 757.4L367.9 749.2L369.6 745.8L371.3 743.1L373.0 741.0L374.7 739.5L376.4 738.6L378.1 738.3L379.8 738.6L381.3 739.4L383.0 740.8L384.6 742.8L386.1 745.4L387.6 748.4L390.6 756.3L393.5 766.2L396.3 778.6L399.0 793.0L401.4 809.2L403.7 827.4L405.9 847.6L408.0 870.0L409.8 893.6L411.5 919.2L413.1 946.9L415.8 1009.5M430.6 1009.5L433.1 951.1L435.9 900.2L437.6 876.8L439.3 855.8L441.1 836.1L443.1 817.9L445.2 801.4L447.4 787.1L449.7 775.0L452.0 764.9L454.4 756.9L456.8 751.1L458.1 749.0L459.3 747.6L460.5 746.7L461.7 746.5L463.0 746.8L464.1 747.6L465.4 749.1L466.5 751.0L468.8 756.6L471.1 764.4L473.3 774.3L475.4 786.4L477.4 800.2L479.3 816.3L481.1 833.9L482.8 854.0L485.8 898.6L488.3 949.6L490.5 1009.5M502.7 1009.5L504.7 950.3L507.1 899.6L509.9 855.2L511.5 835.3L513.1 817.5L514.8 801.6L516.7 787.3L518.6 775.0L520.6 764.8L522.6 756.7L524.7 751.1L525.7 749.1L526.7 747.6L527.8 746.7L528.8 746.5L529.9 746.8L530.9 747.6L531.9 749.0L532.9 751.0L534.9 756.6L536.9 764.6L538.8 774.8L540.6 786.7L542.3 800.6L543.9 816.7L546.8 853.6L549.4 898.1L551.7 950.8L553.5 1009.5M564.1 1009.5L565.9 949.6L568.1 896.2L570.6 850.5L573.5 811.2L575.1 794.8L576.8 779.8L578.6 767.1L580.4 756.9L582.2 748.8L584.0 743.0L585.0 740.9L586.0 739.4L586.9 738.6L587.9 738.3L588.8 738.6L589.8 739.5L590.7 741.0L591.6 742.9L593.5 748.8L595.2 756.8L597.0 767.4L598.7 779.8L600.2 794.2L601.7 810.8L604.5 849.7L606.8 895.1L608.8 947.8L610.4 1009.5M619.6 1009.5L621.2 946.2L623.3 889.2L625.7 840.4L628.4 799.5L629.9 781.9L631.5 765.9L633.3 752.2L635.0 741.3L636.7 732.6L638.6 726.2L639.5 724.1L640.4 722.4L641.4 721.5L642.3 721.2L643.2 721.5L644.1 722.4L645.0 724.0L645.9 726.1L647.7 732.3L649.4 740.9L651.1 752.1L652.6 765.3L654.1 780.6L655.6 798.3L658.2 839.9L660.3 888.4L662.2 945.0L663.7 1009.5M671.5 1009.5L673.0 940.0L675.0 877.0L677.3 823.8L680.0 779.5L681.5 760.1L683.1 743.1L684.8 728.0L686.5 715.9L688.3 706.3L690.1 699.3L691.0 696.9L691.9 695.0L692.9 693.9L693.9 693.5L694.8 693.9L695.7 694.9L696.7 696.7L697.5 699.1L699.3 706.0L701.0 715.4L702.7 727.4L704.2 741.9L705.7 759.0L707.1 777.9L709.6 822.1L711.7 875.7L713.4 936.6L714.8 1009.5M721.2 1009.5L722.7 930.9L724.6 859.9L726.8 800.9L729.6 749.9L731.1 728.2L732.7 708.6L734.4 691.9L736.2 677.6L738.2 666.3L740.1 658.4L741.0 655.7L742.0 653.7L743.0 652.4L744.0 652.0L744.9 652.4L745.9 653.5L746.8 655.5L747.7 658.1L749.6 665.8L751.3 676.5L753.0 690.3L754.6 706.5L756.1 725.7L757.5 747.0L759.9 796.2L761.9 857.1L763.5 928.5L764.8 1009.5M769.7 1009.5L771.1 915.0L772.9 835.6L775.2 764.7L776.6 733.2L778.0 705.5L779.7 679.2L781.4 656.6L783.2 636.7L785.2 619.8L787.2 606.6L789.3 596.9L790.4 593.7L791.5 591.2L792.5 589.7L793.6 589.3L794.6 589.7L795.6 591.0L796.6 593.3L797.6 596.4L799.6 605.6L801.4 618.0L803.1 633.4L804.8 652.4L806.3 674.3L807.7 700.3L810.0 757.4L811.9 827.9L813.4 908.8L814.5 1009.5M817.9 1009.5L819.2 889.1L820.9 789.4L823.3 705.2L824.7 666.7L826.3 632.1L828.0 599.9L830.0 570.7L832.1 545.4L834.4 524.2L836.8 507.2L838.0 500.4L839.2 494.9L840.5 490.6L841.7 487.5L842.9 485.6L843.5 485.2L844.1 485.0L844.8 485.2L845.3 485.6L846.4 487.2L847.5 490.0L848.5 493.5L850.6 504.1L852.5 519.1L854.3 537.6L856.0 560.0L857.5 586.4L858.8 617.1L860.0 650.3L861.0 687.2L862.6 772.0L863.9 879.8L864.7 1009.5M866.4 1009.5L867.0 901.2L867.8 804.3L868.9 718.3L870.3 642.5L872.0 573.0L874.0 509.7L876.5 450.9L879.3 398.1L882.7 347.0L886.5 301.8L888.6 281.6L890.8 262.6L893.0 245.4L895.4 229.5L897.8 215.8L900.3 203.5L902.8 193.2L905.4 184.8L908.1 178.1L910.8 173.4L912.1 171.7L913.5 170.5L914.9 169.7L916.2 169.5L917.6 169.7L919.0 170.5L920.4 171.7L921.7 173.4L923.2 175.7L924.5 178.4L927.3 185.3L930.0 194.1L932.7 204.9L935.3 217.4L937.8 231.7L940.2 247.7L942.6 265.6L944.9 284.7L947.1 305.6L951.1 351.5L954.7 403.5L957.6 456.5L960.2 515.6L962.4 579.7L964.2 648.1L965.6 722.9L966.8 808.3L967.6 897.1L968.3 1009.5M970.2 1009.5L971.1 878.8L972.5 770.6L974.3 685.1L975.4 649.8L976.7 616.5L978.2 586.2L979.8 560.3L981.7 537.7L983.7 518.8L985.9 504.1L987.1 498.2L988.2 493.5L989.5 489.8L990.7 487.1L991.9 485.6L992.5 485.2L993.2 485.0L993.9 485.2L994.6 485.6L996.0 487.5L997.4 490.6L998.9 495.0L1000.3 500.6L1001.7 507.5L1004.5 524.3L1007.1 545.7L1009.6 570.7L1011.9 599.7L1014.1 633.2L1015.9 667.5L1017.6 706.1L1019.1 747.4L1020.4 791.3L1021.6 840.1L1022.6 890.8L1024.1 1009.5M1028.2 1009.5L1029.6 908.3L1031.4 827.0L1032.4 790.7L1033.7 755.9L1035.1 726.2L1036.7 698.2L1038.4 673.6L1040.3 651.5L1042.3 632.7L1044.5 617.2L1046.8 605.0L1048.0 600.4L1049.2 596.4L1050.5 593.3L1051.8 591.1L1053.1 589.7L1054.4 589.3L1055.7 589.7L1057.1 591.1L1058.5 593.6L1059.9 597.0L1061.3 601.2L1062.6 606.5L1065.3 619.9L1067.9 636.7L1070.5 657.3L1072.8 680.5L1075.0 706.9L1076.9 735.6L1078.7 766.3L1080.4 800.0L1081.8 835.4L1084.3 915.7L1086.1 1009.5M1093.0 1009.5L1094.8 926.4L1097.1 855.5L1098.5 824.4L1100.1 794.8L1101.7 769.2L1103.6 745.3L1105.5 724.2L1107.7 705.3L1110.0 689.2L1112.5 675.9L1115.1 665.4L1116.4 661.4L1117.8 658.0L1119.1 655.4L1120.6 653.5L1121.9 652.4L1123.4 652.0L1124.9 652.4L1126.4 653.6L1127.9 655.7L1129.4 658.6L1130.9 662.3L1132.4 666.7L1135.4 677.9L1138.2 692.1L1141.0 709.5L1143.7 729.6L1146.2 751.7L1148.4 775.8L1150.5 802.3L1152.5 831.6L1154.3 862.5L1155.9 896.2L1157.3 931.2L1159.8 1009.5M1170.8 1009.5L1172.0 971.9L1173.4 936.0L1174.9 903.3L1176.6 872.6L1178.4 844.9L1180.5 819.2L1182.7 796.2L1185.1 775.3L1187.6 756.6L1190.4 740.0L1193.4 726.1L1196.5 714.5L1198.2 709.6L1199.8 705.4L1201.5 701.8L1203.3 698.8L1205.1 696.5L1206.8 694.9L1208.7 693.9L1210.5 693.5L1212.5 693.9L1214.5 695.0L1216.5 696.8L1218.5 699.4L1220.5 702.6L1222.5 706.6L1224.6 711.4L1226.6 716.7L1230.5 729.4L1234.4 744.8L1238.2 762.5L1241.8 782.7L1245.1 804.4L1248.3 828.4L1251.3 854.4L1254.1 881.6L1256.6 911.4L1259.0 942.3L1261.1 975.0L1263.0 1009.5M1286.1 1009.5L1289.0 969.1L1292.3 932.0L1296.1 898.9L1300.3 869.0L1302.7 855.2L1305.0 842.5L1307.6 830.5L1310.2 819.2L1313.0 808.6L1316.0 798.8L1319.0 789.7L1322.3 781.1L1325.6 773.6L1329.0 766.7L1332.5 760.5L1336.3 754.8L1340.3 749.6L1344.4 745.1L1348.7 741.1L1353.2 737.6L1358.0 734.5L1363.1 732.0L1368.4 729.9L1374.2 728.1L1380.6 726.8L1387.4 725.8L1394.8 725.2L1402.5 725.0"/>
<path d="M246.8 1009.5L250.1 978.6L253.6 948.9L257.5 920.4L261.5 893.5L265.7 868.3L270.2 844.3L274.9 822.2L279.7 801.8L284.7 783.4L289.8 767.3L294.9 753.4L297.5 747.3L300.0 741.9L302.6 737.0L305.1 732.8L307.6 729.3L310.2 726.4L312.6 724.1L315.1 722.5L317.5 721.5L319.9 721.2L322.2 721.5L324.4 722.3L326.6 723.8L328.7 725.8L330.8 728.5L332.9 731.6L334.9 735.5L336.9 739.8L340.7 750.2L344.4 762.9L347.8 778.0L351.0 795.0L354.0 814.2L356.8 835.6L359.4 859.2L361.8 885.0L364.0 912.9L366.0 943.1L367.8 975.4L369.3 1009.5M386.0 1009.5L388.7 950.5L390.3 923.7L392.1 897.5L393.9 874.0L395.9 851.4L398.1 830.7L400.4 812.3L402.8 795.3L405.4 780.5L408.0 768.0L410.7 757.4L413.5 749.0L414.9 745.8L416.3 743.1L417.7 741.0L419.2 739.5L420.6 738.6L422.0 738.3L423.3 738.5L424.7 739.4L426.0 740.8L427.4 742.8L428.8 745.4L430.1 748.5L432.7 756.5L435.1 766.6L437.5 778.8L439.8 793.0L441.9 809.6L443.9 827.5L445.8 847.9L447.6 870.1L449.3 894.1L452.1 947.4L454.5 1009.5M467.7 1009.5L469.9 950.8L472.5 899.6L475.5 855.4L477.2 835.3L478.9 817.3L480.8 801.5L482.8 787.2L484.8 775.0L486.9 764.8L489.1 756.8L491.3 751.2L492.4 749.2L493.5 747.6L494.7 746.7L495.8 746.5L496.9 746.7L498.0 747.6L499.1 749.0L500.2 750.9L502.3 756.4L504.4 764.3L506.4 774.4L508.4 786.2L510.2 800.2L512.0 816.3L513.6 833.9L515.2 853.8L518.0 898.6L520.4 950.7L522.3 1009.5M533.8 1009.5L535.7 951.0L537.9 899.9L540.6 854.9L543.6 817.4L545.2 801.3L546.9 787.2L548.8 774.7L550.6 764.7L552.5 756.7L554.4 751.1L555.4 749.1L556.4 747.6L557.4 746.7L558.4 746.5L559.4 746.8L560.4 747.6L561.3 749.1L562.3 751.0L564.2 756.8L566.0 764.6L567.8 774.6L569.5 786.6L571.1 800.6L572.7 816.8L575.5 853.8L578.0 898.1L580.1 949.8L581.9 1009.5M592.0 1009.5L593.7 948.6L595.8 896.5L598.2 850.2L601.0 811.3L602.5 794.9L604.2 779.9L605.9 767.2L607.6 756.9L609.4 748.8L611.1 743.1L612.0 741.0L613.0 739.5L613.9 738.6L614.8 738.3L615.8 738.6L616.7 739.4L617.6 740.9L618.4 742.9L620.2 748.7L621.9 756.6L623.6 766.6L625.2 779.2L626.8 794.1L628.2 810.4L630.8 848.3L633.1 894.8L635.1 949.3L636.7 1009.5M645.6 1009.5L647.2 946.4L649.2 889.6L651.5 840.8L654.2 798.9L655.6 781.7L657.2 766.0L658.8 752.5L660.6 741.2L662.3 732.7L664.0 726.3L664.9 724.1L665.8 722.5L666.7 721.5L667.7 721.2L668.5 721.5L669.4 722.4L670.3 723.9L671.2 726.1L672.9 732.1L674.6 740.8L676.3 751.9L677.8 765.2L679.3 780.9L680.7 798.1L683.1 838.0L685.3 886.9L687.2 944.2L688.7 1009.5M696.3 1009.5L697.9 938.6L699.8 877.0L702.1 824.4L704.7 779.3L706.2 759.6L707.8 742.5L709.4 727.8L711.1 715.6L712.9 706.0L714.7 699.2L715.6 696.8L716.5 694.9L717.5 693.9L718.4 693.5L719.3 693.9L720.2 694.9L721.1 696.7L722.0 699.1L723.7 705.7L725.4 715.2L727.0 727.2L728.5 741.2L730.0 758.4L731.4 777.4L733.9 822.0L736.0 876.2L737.7 938.0L739.1 1009.5M745.4 1009.5L746.9 928.7L748.7 860.0L751.0 800.6L753.7 749.3L755.2 727.6L756.9 708.0L758.6 691.3L760.3 677.5L762.2 666.5L764.1 658.5L765.0 655.7L766.0 653.7L767.0 652.4L768.0 652.0L768.9 652.4L769.9 653.5L770.8 655.5L771.7 658.1L773.5 665.5L775.3 676.2L777.0 690.0L778.6 706.1L780.1 725.3L781.4 746.6L783.8 795.8L785.9 856.6L787.5 927.9L788.7 1009.5M793.7 1009.5L795.1 914.9L796.9 833.0L799.2 762.9L800.6 731.7L802.0 704.2L803.7 678.2L805.4 655.8L807.2 636.1L809.2 619.3L811.3 606.2L813.4 596.7L814.4 593.5L815.5 591.1L816.6 589.7L817.6 589.3L818.6 589.7L819.6 591.1L820.7 593.5L821.6 596.5L823.6 605.7L825.4 618.2L827.2 633.6L828.8 652.5L830.3 674.3L831.7 700.2L834.0 756.9L836.0 826.6L837.5 911.0L838.5 1009.5M842.0 1009.5L843.3 889.6L845.0 790.2L846.1 746.4L847.4 704.2L848.9 666.2L850.4 631.9L852.3 598.9L854.2 570.0L856.4 545.1L858.6 524.2L861.0 507.3L862.2 500.5L863.5 495.0L864.7 490.7L866.0 487.5L867.2 485.6L867.8 485.2L868.4 485.0L869.1 485.2L869.6 485.6L870.8 487.3L871.9 490.0L872.9 493.8L875.0 504.3L877.0 519.2L878.8 538.3L880.5 560.6L882.0 586.8L883.3 617.2L884.5 649.8L885.5 686.1L887.2 773.0L888.4 879.7L889.3 1009.5M891.0 1009.5L891.6 898.2L892.5 803.5L893.6 718.8L894.9 643.9L896.6 575.0L898.7 510.3L901.3 450.8L904.1 397.6L907.6 346.5L911.5 301.5L913.6 281.1L915.8 262.4L918.1 245.1L920.5 229.5L923.0 215.7L925.6 203.3L928.2 193.1L930.8 184.6L933.6 178.0L934.9 175.4L936.3 173.3L937.6 171.6L939.0 170.5L940.4 169.8L941.8 169.5L943.2 169.8L944.7 170.5L946.1 171.8L947.5 173.5L949.0 175.8L950.4 178.5L953.2 185.4L956.0 194.3L958.7 205.0L961.4 217.5L964.0 231.8L966.5 247.8L969.0 265.7L971.3 284.7L973.5 305.6L977.7 351.6L981.5 403.9L984.5 457.6L987.2 516.4L989.5 580.4L991.3 649.2L992.8 725.2L994.0 808.0L994.8 901.4L995.5 1009.5M997.5 1009.5L998.5 875.2L999.8 771.7L1001.7 685.9L1002.9 649.8L1004.3 616.2L1005.8 585.8L1007.5 560.0L1009.4 537.6L1011.6 518.8L1013.8 504.3L1015.0 498.3L1016.3 493.5L1017.5 489.9L1018.8 487.2L1020.1 485.6L1020.8 485.2L1021.5 485.0L1022.2 485.2L1023.0 485.7L1024.5 487.6L1026.0 490.7L1027.5 495.1L1029.0 500.8L1030.5 507.7L1033.3 524.6L1036.1 546.1L1038.7 571.2L1041.2 600.6L1043.4 633.5L1045.4 668.6L1047.2 706.7L1048.8 747.8L1050.1 791.5L1051.4 840.4L1052.4 892.0L1054.0 1009.5M1058.4 1009.5L1059.8 907.8L1061.7 825.7L1062.9 789.7L1064.3 755.4L1065.7 726.1L1067.3 698.7L1069.2 673.7L1071.2 651.4L1073.4 632.7L1075.7 617.3L1078.2 605.2L1079.5 600.3L1080.8 596.4L1082.1 593.2L1083.5 591.0L1084.9 589.7L1086.3 589.3L1087.8 589.8L1089.3 591.3L1090.8 593.8L1092.3 597.2L1093.8 601.6L1095.2 606.8L1098.2 620.3L1101.0 637.2L1103.6 657.2L1106.2 680.5L1108.5 707.0L1110.7 735.2L1112.6 766.5L1114.4 800.1L1116.0 835.5L1117.4 874.5L1118.7 917.4L1120.7 1009.5M1128.3 1009.5L1130.3 925.8L1131.5 888.5L1132.9 854.5L1134.4 823.7L1136.1 794.8L1138.0 768.9L1140.0 745.1L1142.3 723.6L1144.7 705.1L1147.2 689.1L1150.0 675.9L1152.9 665.4L1154.4 661.3L1155.9 658.0L1157.5 655.3L1159.1 653.5L1160.6 652.4L1162.3 652.0L1164.0 652.4L1165.7 653.6L1167.4 655.7L1169.2 658.6L1170.9 662.4L1172.6 666.9L1176.0 678.2L1179.4 692.7L1182.6 709.9L1185.7 729.8L1188.6 752.6L1191.3 777.0L1193.8 804.1L1196.0 832.5L1198.2 863.7L1200.1 896.9L1201.8 932.1L1203.3 968.8L1204.7 1009.5M1218.1 1009.5L1219.6 970.5L1221.3 934.4L1223.2 901.3L1225.3 871.0L1227.7 842.6L1230.3 817.1L1233.2 793.7L1236.2 773.1L1239.6 754.6L1243.2 738.5L1247.1 724.7L1249.1 718.7L1251.2 713.6L1253.4 708.8L1255.6 704.8L1257.8 701.4L1260.1 698.5L1262.5 696.3L1264.9 694.8L1267.4 693.8L1270.0 693.5L1272.4 693.8L1274.9 694.7L1277.5 696.0L1280.1 698.0L1282.7 700.5L1285.4 703.6L1288.1 707.2L1290.8 711.4L1296.5 721.5L1302.3 733.8L1308.2 748.2L1314.3 764.8L1319.5 780.4L1324.8 797.6L1330.3 816.4L1335.9 836.9L1346.7 879.0L1369.1 971.3L1374.7 992.4L1379.5 1009.5"/>
<path d="M174.0 694.0L202.5 693.5L208.8 693.6L214.2 694.0L220.1 694.7L225.5 695.8L230.4 697.4L235.1 699.4L240.0 702.2L244.6 705.6L249.1 709.8L253.2 714.5L257.2 719.9L261.0 726.1L264.7 733.1L268.2 740.8L271.8 750.0L275.3 760.2L278.6 771.3L281.7 783.4L284.6 796.4L287.4 810.3L290.1 825.3L292.6 841.5L295.0 858.8L297.2 876.6L299.3 896.2L301.2 916.2L304.7 960.2L307.7 1009.5M328.3 1009.5L330.0 977.5L331.9 946.2L334.0 917.5L336.2 891.0L338.6 866.0L341.1 842.4L343.9 820.9L346.8 801.0L349.9 782.9L353.2 766.9L356.6 753.3L360.0 741.9L363.6 732.9L365.4 729.4L367.2 726.4L369.1 724.1L370.8 722.5L372.6 721.5L374.4 721.2L376.1 721.5L377.8 722.4L379.5 723.9L381.1 726.0L382.8 728.7L384.4 732.1L387.6 740.5L390.6 751.2L393.4 764.1L396.2 779.3L398.7 796.7L401.1 815.9L403.4 837.3L405.5 861.2L407.4 886.6L409.2 914.5L410.8 943.6L412.2 975.0L413.5 1009.5M427.6 1009.5L429.9 949.9L432.8 897.1L434.4 873.0L436.2 850.5L438.1 830.4L440.0 811.9L442.2 795.1L444.3 780.5L446.7 767.8L449.0 757.2L451.5 748.9L454.0 743.1L455.2 741.0L456.5 739.5L457.8 738.5L459.0 738.3L460.2 738.6L461.5 739.4L462.7 740.9L463.9 742.8L466.2 748.6L468.6 756.6L470.8 766.9L472.9 779.0L475.0 793.4L477.0 810.1L478.8 828.6L480.5 848.8L483.6 894.9L486.2 948.0L488.4 1009.5M500.4 1009.5L502.4 950.9L504.8 899.7L507.6 855.1L509.2 835.2L510.8 817.3L512.5 801.5L514.4 787.1L516.3 774.9L518.3 764.7L520.3 756.7L522.3 751.0L523.4 749.1L524.4 747.6L525.5 746.7L526.5 746.5L527.5 746.7L528.6 747.6L529.6 749.0L530.6 750.9L532.6 756.5L534.6 764.3L536.5 774.3L538.3 786.0L540.0 800.3L541.7 816.1L544.7 853.2L547.3 898.2L549.6 950.1L551.5 1009.5M562.3 1009.5L564.1 950.3L566.2 899.9L568.8 855.0L571.6 817.4L573.2 801.2L574.8 787.1L576.5 774.9L578.3 764.8L580.2 756.7L582.0 751.1L582.9 749.2L583.8 747.7L584.8 746.8L585.8 746.5L586.7 746.8L587.6 747.6L588.6 749.0L589.4 750.9L591.3 756.6L593.1 764.4L594.8 774.3L596.4 786.2L598.0 800.1L599.5 816.1L602.2 853.4L604.6 898.0L606.6 950.0L608.3 1009.5M618.1 1009.5L619.8 948.6L621.8 896.5L624.2 850.0L626.8 811.7L628.3 794.8L629.9 780.0L631.5 767.3L633.2 757.2L634.9 749.1L636.7 743.1L637.6 741.0L638.4 739.5L639.3 738.6L640.3 738.3L641.2 738.6L642.1 739.5L642.9 740.9L643.8 743.0L645.5 748.8L647.2 757.1L648.9 767.5L650.5 780.1L652.0 794.9L653.3 810.9L655.8 848.9L658.1 895.4L660.0 949.5L661.5 1009.5M670.2 1009.5L671.9 943.9L673.8 888.5L676.0 840.4L678.6 799.7L680.1 782.0L681.6 765.9L683.2 752.7L684.9 741.7L686.6 732.8L688.3 726.3L689.2 724.1L690.1 722.5L691.0 721.5L691.9 721.2L692.8 721.5L693.7 722.4L694.5 724.0L695.4 726.0L697.1 732.2L698.7 740.6L700.3 751.3L701.8 764.8L703.3 780.7L704.7 798.1L707.2 838.7L709.3 886.9L711.1 945.2L712.6 1009.5M720.1 1009.5L721.6 940.1L723.5 877.4L725.8 824.2L728.4 779.7L729.8 760.6L731.4 743.1L733.0 728.2L734.7 715.8L736.5 706.0L738.3 699.2L739.2 696.7L740.1 695.0L741.0 693.9L741.9 693.5L742.8 693.8L743.7 694.8L744.6 696.5L745.5 698.9L747.2 705.5L748.9 715.0L750.5 727.1L752.0 741.1L753.5 758.4L754.9 777.5L757.3 822.6L759.4 875.3L761.1 937.2L762.5 1009.5M768.8 1009.5L770.2 930.4L772.1 860.9L774.3 801.0L777.1 749.4L778.6 727.7L780.2 708.0L781.9 691.3L783.7 677.4L785.5 666.5L787.4 658.5L788.4 655.7L789.3 653.7L790.4 652.4L791.3 652.0L792.3 652.4L793.2 653.6L794.2 655.6L795.1 658.2L796.8 665.7L798.6 676.4L800.3 690.2L801.9 706.4L803.4 725.7L804.8 747.0L807.2 796.4L809.2 857.4L810.8 929.0L812.1 1009.5M817.0 1009.5L818.4 914.7L820.3 833.1L822.6 763.2L823.9 732.0L825.4 704.6L827.0 678.5L828.8 655.4L830.6 635.8L832.6 619.2L834.7 606.2L836.8 596.7L837.8 593.6L838.9 591.1L840.0 589.7L841.0 589.3L842.0 589.7L843.1 591.0L844.1 593.3L845.1 596.5L847.1 605.7L848.9 618.0L850.7 633.9L852.3 652.8L853.8 674.5L855.3 700.2L857.7 758.3L859.6 828.0L861.1 912.1L862.2 1009.5M865.6 1009.5L866.9 892.5L868.7 789.9L869.8 746.6L871.1 704.8L872.5 667.0L874.2 631.6L876.0 599.0L878.1 569.6L880.3 544.3L882.5 523.8L884.9 507.2L886.1 500.5L887.4 494.8L888.6 490.6L889.9 487.4L891.2 485.6L891.8 485.2L892.4 485.0L893.0 485.2L893.6 485.5L894.7 487.2L895.9 490.0L897.0 493.7L899.1 504.4L901.1 519.1L902.9 537.8L904.6 560.5L906.2 587.5L907.6 617.5L908.8 651.7L909.8 687.7L911.5 773.8L912.7 878.4L913.6 1009.5M915.4 1009.5L916.0 898.7L916.8 805.3L917.9 721.4L919.4 643.9L921.1 573.8L923.2 510.5L925.8 452.0L928.8 397.4L932.3 346.5L934.3 322.7L936.4 301.0L938.5 280.4L940.8 261.7L943.1 244.8L945.6 229.2L948.1 215.4L950.7 203.4L953.3 193.2L956.1 184.7L958.9 178.0L960.2 175.5L961.7 173.3L963.1 171.6L964.5 170.4L966.0 169.7L967.4 169.5L968.8 169.7L970.3 170.5L971.8 171.8L973.3 173.4L974.8 175.7L976.2 178.4L979.1 185.4L982.0 194.2L984.9 205.0L987.6 217.4L990.3 231.9L993.0 248.2L995.5 266.0L998.0 285.5L1000.3 306.3L1002.5 328.3L1004.6 352.2L1008.5 404.3L1011.7 458.3L1014.4 516.3L1016.8 579.2L1018.7 650.0L1020.2 722.5L1021.5 805.3L1022.4 900.8L1023.1 1009.5M1025.2 1009.5L1026.2 878.7L1027.6 773.4L1028.6 726.7L1029.7 685.5L1030.9 649.1L1032.3 615.6L1034.0 585.5L1035.7 560.0L1037.8 537.2L1040.0 518.8L1042.3 504.2L1043.6 498.5L1044.9 493.7L1046.2 489.8L1047.6 487.2L1049.0 485.6L1049.6 485.2L1050.4 485.0L1051.1 485.2L1052.0 485.7L1053.5 487.5L1055.1 490.6L1056.7 495.2L1058.3 500.7L1059.9 507.6L1063.0 524.6L1066.0 546.4L1068.8 572.0L1071.4 601.3L1073.7 634.1L1075.9 669.4L1077.8 708.1L1079.4 748.4L1080.9 793.7L1082.2 842.4L1083.3 894.3L1085.0 1009.5M1089.7 1009.5L1091.2 909.0L1092.2 866.0L1093.3 824.5L1094.6 787.5L1096.1 754.4L1097.6 724.9L1099.4 697.6L1101.4 672.9L1103.6 651.1L1106.0 632.3L1108.5 616.9L1111.1 605.0L1112.6 600.1L1114.0 596.1L1115.4 593.2L1116.9 591.0L1118.4 589.7L1119.9 589.3L1121.6 589.8L1123.2 591.3L1124.9 593.7L1126.6 597.3L1128.2 601.7L1129.8 607.1L1133.0 620.6L1136.1 637.4L1139.1 657.9L1141.9 681.2L1144.6 708.0L1147.0 736.7L1149.2 767.9L1151.1 801.6L1152.9 837.6L1154.5 876.0L1155.9 918.4L1157.1 963.2L1158.2 1009.5M1166.7 1009.5L1167.8 966.6L1169.0 926.1L1170.5 887.9L1172.0 853.9L1173.8 822.3L1175.8 793.3L1178.0 767.0L1180.3 743.9L1182.9 722.7L1185.7 704.3L1188.7 688.5L1191.9 675.4L1193.5 670.0L1195.2 665.3L1197.0 661.2L1198.8 657.9L1200.6 655.3L1202.5 653.5L1204.4 652.4L1206.3 652.0L1208.3 652.4L1210.4 653.7L1212.6 655.8L1214.7 658.7L1216.8 662.4L1219.0 667.1L1221.1 672.5L1223.2 678.7L1227.4 693.3L1231.4 710.7L1235.3 730.8L1239.0 753.9L1242.5 778.4L1245.7 805.2L1248.7 834.3L1251.4 865.1L1253.9 898.4L1256.2 933.3L1258.2 970.7L1260.0 1009.5M1278.9 1009.5L1281.6 962.2L1284.8 919.6L1288.5 881.6L1290.6 864.0L1292.7 847.9L1295.0 832.3L1297.5 817.7L1300.1 804.0L1302.8 791.3L1305.7 779.6L1308.7 768.5L1311.9 758.4L1315.3 749.2L1318.6 741.3L1322.1 734.1L1325.8 727.5L1329.7 721.5L1333.7 716.4L1338.0 711.8L1342.5 707.8L1347.2 704.4L1352.1 701.7L1357.3 699.5L1362.8 697.7L1368.9 696.3L1375.5 695.3L1383.0 694.6L1392.0 694.2L1402.5 694.0"/>
<path d="M224.0 1009.5L228.5 975.0L233.2 941.9L238.1 910.4L243.1 880.9L248.5 852.7L253.9 826.5L259.5 802.3L265.2 780.4L271.0 760.5L276.9 742.9L282.7 728.1L285.6 721.5L288.5 715.7L291.3 710.5L294.2 706.0L297.0 702.3L299.8 699.1L302.6 696.7L305.3 694.9L308.0 693.9L310.6 693.5L313.2 693.9L315.6 694.8L318.0 696.4L320.4 698.6L322.7 701.5L325.0 705.1L327.2 709.1L329.4 713.9L331.5 719.3L333.6 725.3L337.5 739.2L341.2 755.4L344.7 774.1L347.9 795.0L350.8 818.0L353.6 843.5L356.1 871.7L358.3 901.9L360.4 934.8L362.2 970.5L363.9 1009.5M379.2 1009.5L382.0 945.8L383.6 917.5L385.4 890.0L387.3 864.7L389.3 841.3L391.5 819.9L393.9 799.8L396.4 781.8L399.0 766.4L401.8 752.9L404.6 741.5L407.6 732.6L409.0 729.2L410.5 726.3L412.0 724.1L413.5 722.5L415.0 721.5L416.5 721.2L417.9 721.5L419.4 722.4L420.8 723.9L422.2 726.1L423.7 728.9L425.0 732.2L427.8 740.8L430.3 751.5L432.8 764.4L435.2 779.7L437.4 797.2L439.6 816.8L441.5 838.6L443.4 862.5L445.0 887.4L446.5 914.2L448.0 944.4L450.4 1009.5M462.9 1009.5L465.0 949.6L467.6 896.7L470.7 850.3L472.4 829.8L474.2 811.5L476.1 794.8L478.1 779.9L480.2 767.6L482.4 757.0L484.6 748.8L486.9 742.9L488.0 741.0L489.1 739.5L490.3 738.6L491.4 738.3L492.6 738.6L493.7 739.4L494.8 740.9L495.9 743.0L498.1 748.7L500.2 756.6L502.4 767.1L504.3 779.4L506.2 794.0L508.0 810.2L509.7 828.7L511.3 848.7L514.2 895.0L516.5 947.5L518.6 1009.5M529.9 1009.5L531.8 950.9L534.0 899.7L536.7 854.7L539.7 817.2L541.3 801.1L543.0 787.1L544.9 774.6L546.7 764.6L548.6 756.7L550.5 751.1L551.5 749.2L552.5 747.6L553.5 746.8L554.5 746.5L555.5 746.8L556.5 747.6L557.4 749.0L558.4 750.9L560.3 756.5L562.1 764.2L563.9 773.9L565.7 786.1L567.4 800.5L569.0 816.4L571.8 853.7L574.4 898.5L576.5 949.4L578.3 1009.5M588.7 1009.5L590.4 951.3L592.4 900.3L594.9 854.9L597.6 817.6L599.1 801.5L600.8 786.8L602.4 774.7L604.1 764.7L605.9 756.7L607.7 751.0L608.5 749.1L609.4 747.7L610.3 746.8L611.3 746.5L612.2 746.7L613.1 747.6L613.9 748.9L614.8 750.9L616.6 756.5L618.3 764.3L619.9 774.0L621.6 786.3L623.2 800.8L624.6 816.6L627.2 854.3L629.6 899.3L631.5 951.5L633.2 1009.5M642.7 1009.5L644.3 948.5L646.3 895.3L648.6 849.2L651.2 811.2L652.6 794.7L654.2 779.6L655.8 767.2L657.4 756.9L659.1 748.7L660.8 742.9L661.6 740.9L662.5 739.4L663.4 738.5L664.3 738.3L665.2 738.6L666.0 739.4L666.9 741.0L667.7 742.9L669.4 748.8L671.1 756.8L672.6 767.0L674.2 779.7L675.7 794.7L677.1 811.1L679.5 848.8L681.7 894.6L683.6 947.3L685.1 1009.5M693.7 1009.5L695.2 946.1L697.1 889.3L699.4 840.3L702.0 799.1L703.4 781.3L704.9 765.8L706.5 752.4L708.1 741.3L709.8 732.4L711.5 726.2L712.4 724.1L713.2 722.5L714.1 721.5L715.0 721.2L715.9 721.5L716.7 722.4L717.6 724.0L718.4 726.0L720.1 732.3L721.8 740.9L723.3 751.8L724.8 764.9L726.3 780.2L727.6 797.7L730.1 838.6L732.2 887.4L734.0 944.0L735.5 1009.5M742.9 1009.5L744.5 937.5L746.3 877.0L748.6 823.5L751.2 779.0L752.6 759.8L754.2 742.4L755.8 727.5L757.5 715.7L759.2 706.2L761.0 699.2L761.8 696.8L762.7 695.0L763.6 693.9L764.6 693.5L765.5 693.8L766.3 694.8L767.2 696.5L768.1 698.9L769.8 705.6L771.5 715.1L773.2 727.4L774.7 741.5L776.1 758.2L777.5 777.3L779.9 822.4L782.0 875.2L783.7 937.3L785.1 1009.5M791.4 1009.5L792.8 929.6L794.7 860.3L796.9 800.6L799.6 749.1L801.1 727.4L802.8 707.8L804.5 691.1L806.3 677.3L808.1 666.4L810.0 658.4L811.0 655.6L811.9 653.7L813.0 652.4L813.9 652.0L814.9 652.4L815.8 653.6L816.8 655.6L817.7 658.2L819.5 666.0L821.3 676.8L823.0 690.7L824.6 706.9L826.1 726.2L827.4 747.6L829.8 796.9L831.9 857.8L833.5 929.2L834.7 1009.5M839.7 1009.5L841.1 916.9L842.9 834.9L845.2 764.9L846.6 733.6L848.1 704.9L849.7 679.0L851.5 655.9L853.4 635.7L855.4 619.3L857.5 606.3L859.6 596.9L860.6 593.7L861.7 591.2L862.8 589.8L863.9 589.3L864.9 589.7L865.9 591.0L866.9 593.2L868.0 596.3L869.9 605.3L871.9 617.8L873.6 633.4L875.3 652.0L876.8 674.2L878.3 699.5L880.7 756.5L882.6 827.2L884.1 909.5L885.3 1009.5M888.8 1009.5L890.1 891.1L891.9 790.2L893.1 744.9L894.4 704.0L895.8 666.9L897.5 632.0L899.3 599.8L901.3 570.6L903.5 545.5L905.9 523.9L908.4 507.1L909.6 500.6L910.9 494.9L912.2 490.6L913.5 487.5L914.8 485.6L915.4 485.2L916.0 485.0L916.6 485.2L917.2 485.6L918.4 487.2L919.6 490.0L920.7 493.7L922.8 504.5L924.9 519.5L926.8 538.7L928.5 561.2L930.1 587.7L931.5 618.7L932.7 652.4L933.8 690.4L935.5 775.8L936.8 878.9L937.6 1009.5M939.5 1009.5L940.1 899.0L941.0 801.2L942.2 715.9L943.6 641.4L945.4 571.1L947.6 508.1L950.2 450.0L953.3 395.9L957.0 344.8L958.9 321.8L961.1 300.1L963.3 279.6L965.6 260.9L968.0 244.1L970.5 228.7L973.1 215.0L975.8 203.1L978.5 192.9L981.3 184.6L984.2 178.0L985.6 175.4L987.1 173.2L988.6 171.6L990.1 170.4L991.5 169.7L993.0 169.5L994.5 169.7L996.1 170.5L997.6 171.8L999.1 173.5L1000.7 175.8L1002.2 178.6L1005.2 185.5L1008.2 194.4L1011.2 205.1L1014.1 217.9L1016.9 232.2L1019.6 248.3L1022.3 266.3L1024.9 286.1L1027.3 307.2L1029.7 329.7L1031.9 354.1L1035.9 406.1L1039.3 460.2L1042.1 518.5L1044.6 582.7L1046.6 650.4L1048.1 722.5L1049.4 805.6L1050.5 903.2L1051.2 1009.5M1053.4 1009.5L1054.4 877.0L1055.9 773.1L1056.9 728.7L1058.0 686.8L1059.4 648.5L1060.9 615.4L1062.7 584.8L1064.6 559.1L1066.7 537.0L1069.0 518.6L1071.6 504.1L1072.9 498.2L1074.3 493.5L1075.7 489.8L1077.2 487.1L1078.7 485.5L1079.4 485.1L1080.2 485.0L1081.0 485.2L1081.8 485.6L1083.5 487.6L1085.2 490.8L1086.9 495.2L1088.6 500.9L1090.3 507.8L1092.0 516.0L1093.7 525.2L1096.9 547.0L1099.9 572.6L1102.7 602.0L1105.3 635.3L1107.5 670.2L1109.6 708.5L1111.4 750.5L1113.0 794.5L1114.3 841.7L1115.5 892.0L1116.5 948.9L1117.4 1009.5M1122.5 1009.5L1124.2 909.7L1125.3 864.9L1126.5 824.9L1127.9 787.5L1129.5 754.5L1131.3 724.2L1133.2 697.6L1135.4 672.2L1137.8 650.7L1140.4 632.2L1143.2 616.9L1144.7 610.3L1146.2 604.8L1147.8 600.0L1149.4 596.2L1151.0 593.1L1152.6 591.0L1154.3 589.7L1156.0 589.3L1157.8 589.8L1159.7 591.2L1161.5 593.7L1163.4 597.2L1165.3 601.6L1167.1 606.9L1168.9 613.2L1170.8 620.5L1174.4 637.9L1177.8 658.3L1181.0 681.7L1184.1 708.5L1186.8 736.9L1189.4 768.0L1191.7 801.9L1193.7 837.5L1195.6 875.8L1197.2 917.0L1198.6 961.0L1199.9 1009.5M1210.1 1009.5L1211.5 963.9L1213.0 923.4L1214.7 886.2L1216.7 851.3L1218.8 819.8L1221.3 790.9L1224.0 765.1L1226.9 741.9L1230.2 720.8L1233.6 702.8L1237.5 687.2L1239.5 680.6L1241.5 674.6L1243.6 669.3L1245.8 664.7L1248.1 660.8L1250.4 657.6L1252.8 655.1L1255.1 653.4L1257.6 652.4L1260.1 652.0L1262.9 652.4L1265.7 653.6L1268.5 655.6L1271.5 658.5L1274.4 662.0L1277.4 666.5L1280.4 671.6L1283.5 677.6L1286.5 684.3L1289.7 691.8L1296.0 709.0L1302.3 729.2L1308.6 751.9L1314.8 777.2L1320.9 805.0L1326.9 834.7L1332.6 866.3L1338.1 899.8L1343.4 934.8L1348.4 971.3L1353.1 1009.5"/>
<path d="M223.4 1009.5l0.19 1.6M366.4 1009.5l0.04 1.6M376.6 1009.5l0.04 1.6M454.0 1009.5l0.03 1.6M459.1 1009.5l0.02 1.6M523.1 1009.5l0.01 1.6M525.3 1009.5l0.01 1.6M637.0 1009.5l0.01 1.6M638.9 1009.5l0.01 1.6M687.7 1009.5l0.02 1.6M691.2 1009.5l0.02 1.6M736.8 1009.5l0.02 1.6M741.8 1009.5l0.02 1.6M785.1 1009.5l0.03 1.6M791.4 1009.5l0.03 1.6M833.6 1009.5l0.03 1.6M841.0 1009.5l0.03 1.6M882.8 1009.5l0.04 1.6M891.4 1009.5l0.04 1.6M933.8 1009.5l0.04 1.6M943.3 1009.5l0.04 1.6M987.8 1009.5l0.04 1.6M998.2 1009.5l0.05 1.6M1046.6 1009.5l0.05 1.6M1057.9 1009.5l0.05 1.6M1113.6 1009.5l0.05 1.6M1126.1 1009.5l0.06 1.6M1197.3 1009.5l0.07 1.6M1212.6 1009.5l0.06 1.6M1352.5 1009.5l0.19 1.6M297.6 1009.5l0.09 1.6M316.5 1009.5l0.07 1.6M409.8 1009.5l0.04 1.6M418.3 1009.5l0.03 1.6M486.8 1009.5l0.02 1.6M491.5 1009.5l0.02 1.6M551.3 1009.5l0.01 1.6M553.4 1009.5l0.01 1.6M661.1 1009.5l0.01 1.6M662.9 1009.5l0.01 1.6M710.9 1009.5l0.02 1.6M714.3 1009.5l0.02 1.6M759.5 1009.5l0.02 1.6M764.4 1009.5l0.02 1.6M807.7 1009.5l0.03 1.6M814.0 1009.5l0.03 1.6M856.4 1009.5l0.03 1.6M863.9 1009.5l0.03 1.6M906.3 1009.5l0.04 1.6M915.0 1009.5l0.04 1.6M958.4 1009.5l0.04 1.6M968.2 1009.5l0.04 1.6M1014.2 1009.5l0.05 1.6M1025.0 1009.5l0.05 1.6M1076.1 1009.5l0.05 1.6M1088.1 1009.5l0.05 1.6M1148.9 1009.5l0.06 1.6M1163.0 1009.5l0.06 1.6M1248.2 1009.5l0.08 1.6M1268.8 1009.5l0.09 1.6M197.0 1009.5l0.43 1.6M358.4 1009.5l0.06 1.6M371.8 1009.5l0.05 1.6M448.2 1009.5l0.04 1.6M455.8 1009.5l0.03 1.6M518.1 1009.5l0.02 1.6M522.5 1009.5l0.02 1.6M579.0 1009.5l0.01 1.6M581.0 1009.5l0.01 1.6M685.5 1009.5l0.01 1.6M687.2 1009.5l0.01 1.6M734.5 1009.5l0.02 1.6M738.0 1009.5l0.02 1.6M782.8 1009.5l0.02 1.6M787.8 1009.5l0.02 1.6M831.1 1009.5l0.03 1.6M837.4 1009.5l0.03 1.6M880.2 1009.5l0.03 1.6M887.8 1009.5l0.03 1.6M930.9 1009.5l0.04 1.6M939.8 1009.5l0.04 1.6M984.5 1009.5l0.04 1.6M994.6 1009.5l0.04 1.6M1042.7 1009.5l0.05 1.6M1054.2 1009.5l0.05 1.6M1108.8 1009.5l0.06 1.6M1122.0 1009.5l0.06 1.6M1190.5 1009.5l0.07 1.6M1207.2 1009.5l0.07 1.6M1329.7 1009.5l0.16 1.6M290.4 1009.5l0.11 1.6M313.5 1009.5l0.08 1.6M405.7 1009.5l0.05 1.6M416.7 1009.5l0.05 1.6M483.5 1009.5l0.03 1.6M490.4 1009.5l0.03 1.6M548.3 1009.5l0.02 1.6M552.4 1009.5l0.02 1.6M606.3 1009.5l0.01 1.6M608.2 1009.5l0.01 1.6M710.1 1009.5l0.01 1.6M711.8 1009.5l0.01 1.6M758.6 1009.5l0.02 1.6M762.0 1009.5l0.02 1.6M806.8 1009.5l0.02 1.6M811.7 1009.5l0.02 1.6M855.3 1009.5l0.03 1.6M861.7 1009.5l0.03 1.6M905.0 1009.5l0.03 1.6M912.8 1009.5l0.03 1.6M956.9 1009.5l0.04 1.6M966.1 1009.5l0.04 1.6M1012.4 1009.5l0.05 1.6M1023.0 1009.5l0.05 1.6M1073.8 1009.5l0.05 1.6M1086.0 1009.5l0.05 1.6M1145.9 1009.5l0.06 1.6M1160.7 1009.5l0.07 1.6M1242.9 1009.5l0.08 1.6M1265.3 1009.5l0.10 1.6M196.7 1009.5l0.48 1.6M356.2 1009.5l0.07 1.6M372.1 1009.5l0.06 1.6M446.4 1009.5l0.05 1.6M456.1 1009.5l0.04 1.6M516.6 1009.5l0.03 1.6M522.9 1009.5l0.03 1.6M577.5 1009.5l0.02 1.6M581.4 1009.5l0.02 1.6M633.3 1009.5l0.01 1.6M635.1 1009.5l0.01 1.6M734.9 1009.5l0.01 1.6M736.7 1009.5l0.01 1.6M783.1 1009.5l0.02 1.6M786.5 1009.5l0.02 1.6M831.3 1009.5l0.02 1.6M836.3 1009.5l0.02 1.6M880.3 1009.5l0.03 1.6M886.8 1009.5l0.03 1.6M930.9 1009.5l0.03 1.6M938.9 1009.5l0.04 1.6M984.3 1009.5l0.04 1.6M993.8 1009.5l0.04 1.6M1042.3 1009.5l0.05 1.6M1053.5 1009.5l0.05 1.6M1108.1 1009.5l0.06 1.6M1121.5 1009.5l0.06 1.6M1189.2 1009.5l0.07 1.6M1206.8 1009.5l0.07 1.6M1325.2 1009.5l0.17 1.6M290.8 1009.5l0.12 1.6M316.2 1009.5l0.09 1.6M405.6 1009.5l0.05 1.6M418.6 1009.5l0.05 1.6M483.2 1009.5l0.04 1.6M492.0 1009.5l0.04 1.6M548.0 1009.5l0.03 1.6M554.0 1009.5l0.03 1.6M605.9 1009.5l0.02 1.6M609.7 1009.5l0.02 1.6M659.9 1009.5l0.01 1.6M661.7 1009.5l0.01 1.6M760.0 1009.5l0.01 1.6M761.7 1009.5l0.01 1.6M808.1 1009.5l0.02 1.6M811.5 1009.5l0.02 1.6M856.5 1009.5l0.02 1.6M861.5 1009.5l0.02 1.6M906.1 1009.5l0.03 1.6M912.8 1009.5l0.03 1.6M958.0 1009.5l0.04 1.6M966.2 1009.5l0.04 1.6M1013.4 1009.5l0.04 1.6M1023.3 1009.5l0.04 1.6M1074.7 1009.5l0.05 1.6M1086.7 1009.5l0.05 1.6M1146.6 1009.5l0.06 1.6M1161.7 1009.5l0.07 1.6M1243.6 1009.5l0.09 1.6M1267.6 1009.5l0.11 1.6M215.7 1009.5l0.31 1.6M358.1 1009.5l0.07 1.6M375.6 1009.5l0.07 1.6M447.6 1009.5l0.05 1.6M458.9 1009.5l0.05 1.6M517.3 1009.5l0.04 1.6M525.5 1009.5l0.04 1.6M578.1 1009.5l0.03 1.6M583.8 1009.5l0.03 1.6M633.7 1009.5l0.02 1.6M637.4 1009.5l0.02 1.6M686.3 1009.5l0.01 1.6M688.1 1009.5l0.01 1.6M785.2 1009.5l0.01 1.6M787.0 1009.5l0.01 1.6M833.4 1009.5l0.02 1.6M836.8 1009.5l0.02 1.6M882.3 1009.5l0.02 1.6M887.4 1009.5l0.02 1.6M932.9 1009.5l0.03 1.6M939.7 1009.5l0.03 1.6M986.3 1009.5l0.04 1.6M994.8 1009.5l0.04 1.6M1044.3 1009.5l0.04 1.6M1054.8 1009.5l0.05 1.6M1110.1 1009.5l0.06 1.6M1123.3 1009.5l0.06 1.6M1191.6 1009.5l0.08 1.6M1209.7 1009.5l0.08 1.6M1330.7 1009.5l0.19 1.6M296.0 1009.5l0.12 1.6M322.0 1009.5l0.09 1.6M408.1 1009.5l0.06 1.6M422.4 1009.5l0.06 1.6M485.0 1009.5l0.05 1.6M495.3 1009.5l0.04 1.6M549.4 1009.5l0.04 1.6M557.0 1009.5l0.03 1.6M607.1 1009.5l0.03 1.6M612.6 1009.5l0.02 1.6M661.0 1009.5l0.02 1.6M664.5 1009.5l0.02 1.6M712.4 1009.5l0.01 1.6M714.2 1009.5l0.01 1.6M810.7 1009.5l0.01 1.6M812.5 1009.5l0.01 1.6M859.2 1009.5l0.02 1.6M862.6 1009.5l0.02 1.6M908.8 1009.5l0.02 1.6M914.0 1009.5l0.02 1.6M960.6 1009.5l0.03 1.6M967.6 1009.5l0.03 1.6M1016.1 1009.5l0.04 1.6M1025.0 1009.5l0.04 1.6M1077.5 1009.5l0.05 1.6M1088.9 1009.5l0.05 1.6M1149.8 1009.5l0.06 1.6M1164.8 1009.5l0.07 1.6M1248.2 1009.5l0.09 1.6M1273.5 1009.5l0.12 1.6M233.3 1009.5l0.23 1.6M362.3 1009.5l0.08 1.6M380.5 1009.5l0.07 1.6M450.3 1009.5l0.06 1.6M462.8 1009.5l0.05 1.6M519.4 1009.5l0.04 1.6M528.9 1009.5l0.04 1.6M579.8 1009.5l0.03 1.6M587.1 1009.5l0.03 1.6M635.2 1009.5l0.02 1.6M640.6 1009.5l0.02 1.6M687.7 1009.5l0.02 1.6M691.2 1009.5l0.02 1.6M738.4 1009.5l0.01 1.6M740.1 1009.5l0.01 1.6M836.4 1009.5l0.01 1.6M838.1 1009.5l0.01 1.6M885.3 1009.5l0.02 1.6M888.8 1009.5l0.02 1.6M935.9 1009.5l0.02 1.6M941.3 1009.5l0.02 1.6M989.4 1009.5l0.03 1.6M996.7 1009.5l0.03 1.6M1047.6 1009.5l0.04 1.6M1057.1 1009.5l0.04 1.6M1113.7 1009.5l0.05 1.6M1126.2 1009.5l0.06 1.6M1196.0 1009.5l0.07 1.6M1214.2 1009.5l0.08 1.6M1343.2 1009.5l0.23 1.6M303.0 1009.5l0.12 1.6M328.3 1009.5l0.09 1.6M411.7 1009.5l0.07 1.6M426.7 1009.5l0.06 1.6M487.6 1009.5l0.05 1.6M499.0 1009.5l0.05 1.6M551.5 1009.5l0.04 1.6M560.4 1009.5l0.04 1.6M608.9 1009.5l0.03 1.6M615.9 1009.5l0.03 1.6M662.5 1009.5l0.02 1.6M667.7 1009.5l0.02 1.6M713.9 1009.5l0.02 1.6M717.3 1009.5l0.02 1.6M764.0 1009.5l0.01 1.6M765.8 1009.5l0.01 1.6M862.3 1009.5l0.01 1.6M864.1 1009.5l0.01 1.6M912.0 1009.5l0.02 1.6M915.5 1009.5l0.02 1.6M963.9 1009.5l0.02 1.6M969.4 1009.5l0.03 1.6M1019.5 1009.5l0.03 1.6M1027.1 1009.5l0.04 1.6M1081.2 1009.5l0.04 1.6M1091.5 1009.5l0.05 1.6M1154.1 1009.5l0.06 1.6M1168.4 1009.5l0.06 1.6M1254.5 1009.5l0.09 1.6M1280.5 1009.5l0.12 1.6M245.8 1009.5l0.19 1.6M366.8 1009.5l0.08 1.6M384.9 1009.5l0.08 1.6M453.2 1009.5l0.06 1.6M466.4 1009.5l0.06 1.6M521.7 1009.5l0.05 1.6M532.2 1009.5l0.04 1.6M581.7 1009.5l0.04 1.6M590.2 1009.5l0.04 1.6M636.8 1009.5l0.03 1.6M643.6 1009.5l0.03 1.6M689.1 1009.5l0.02 1.6M694.2 1009.5l0.02 1.6M739.7 1009.5l0.02 1.6M743.1 1009.5l0.02 1.6M789.5 1009.5l0.01 1.6M791.3 1009.5l0.01 1.6M888.4 1009.5l0.01 1.6M890.2 1009.5l0.01 1.6M939.1 1009.5l0.02 1.6M942.8 1009.5l0.02 1.6M992.7 1009.5l0.03 1.6M998.4 1009.5l0.03 1.6M1051.0 1009.5l0.04 1.6M1059.2 1009.5l0.04 1.6M1117.6 1009.5l0.05 1.6M1128.9 1009.5l0.05 1.6M1200.9 1009.5l0.07 1.6M1218.4 1009.5l0.07 1.6M1360.8 1009.5l0.31 1.6M308.9 1009.5l0.11 1.6M332.9 1009.5l0.09 1.6M414.8 1009.5l0.07 1.6M429.9 1009.5l0.06 1.6M489.8 1009.5l0.05 1.6M501.8 1009.5l0.05 1.6M553.2 1009.5l0.04 1.6M563.1 1009.5l0.04 1.6M610.3 1009.5l0.04 1.6M618.5 1009.5l0.04 1.6M663.7 1009.5l0.03 1.6M670.4 1009.5l0.03 1.6M715.0 1009.5l0.02 1.6M720.0 1009.5l0.02 1.6M765.0 1009.5l0.02 1.6M768.4 1009.5l0.02 1.6M814.8 1009.5l0.01 1.6M816.5 1009.5l0.01 1.6M914.8 1009.5l0.01 1.6M916.6 1009.5l0.01 1.6M966.8 1009.5l0.02 1.6M970.6 1009.5l0.02 1.6M1022.5 1009.5l0.03 1.6M1028.5 1009.5l0.03 1.6M1084.5 1009.5l0.04 1.6M1093.3 1009.5l0.04 1.6M1157.9 1009.5l0.05 1.6M1170.9 1009.5l0.05 1.6M1260.3 1009.5l0.09 1.6M1285.7 1009.5l0.12 1.6M251.3 1009.5l0.17 1.6M369.7 1009.5l0.07 1.6M387.3 1009.5l0.07 1.6M455.0 1009.5l0.06 1.6M468.4 1009.5l0.06 1.6M523.0 1009.5l0.05 1.6M534.2 1009.5l0.05 1.6M582.7 1009.5l0.04 1.6M592.2 1009.5l0.04 1.6M637.6 1009.5l0.04 1.6M645.6 1009.5l0.03 1.6M689.7 1009.5l0.03 1.6M696.2 1009.5l0.03 1.6M740.2 1009.5l0.02 1.6M745.2 1009.5l0.02 1.6M790.0 1009.5l0.02 1.6M793.4 1009.5l0.02 1.6M839.8 1009.5l0.01 1.6M841.6 1009.5l0.01 1.6M941.4 1009.5l0.01 1.6M943.2 1009.5l0.01 1.6M995.1 1009.5l0.02 1.6M999.0 1009.5l0.02 1.6M1053.6 1009.5l0.03 1.6M1059.9 1009.5l0.03 1.6M1120.4 1009.5l0.04 1.6M1130.1 1009.5l0.05 1.6M1204.4 1009.5l0.06 1.6M1220.3 1009.5l0.07 1.6M1379.8 1009.5l0.48 1.6M311.2 1009.5l0.10 1.6M333.6 1009.5l0.08 1.6M415.8 1009.5l0.07 1.6M430.6 1009.5l0.06 1.6M490.5 1009.5l0.05 1.6M502.7 1009.5l0.05 1.6M553.5 1009.5l0.05 1.6M564.1 1009.5l0.05 1.6M610.4 1009.5l0.04 1.6M619.6 1009.5l0.04 1.6M663.7 1009.5l0.03 1.6M671.5 1009.5l0.03 1.6M714.8 1009.5l0.03 1.6M721.2 1009.5l0.03 1.6M764.8 1009.5l0.02 1.6M769.7 1009.5l0.02 1.6M814.5 1009.5l0.02 1.6M817.9 1009.5l0.02 1.6M864.7 1009.5l0.01 1.6M866.4 1009.5l0.01 1.6M968.3 1009.5l0.01 1.6M970.2 1009.5l0.01 1.6M1024.1 1009.5l0.02 1.6M1028.2 1009.5l0.02 1.6M1086.1 1009.5l0.03 1.6M1093.0 1009.5l0.03 1.6M1159.8 1009.5l0.05 1.6M1170.8 1009.5l0.05 1.6M1263.0 1009.5l0.08 1.6M1286.1 1009.5l0.11 1.6M246.8 1009.5l0.16 1.6M369.3 1009.5l0.07 1.6M386.0 1009.5l0.07 1.6M454.5 1009.5l0.06 1.6M467.7 1009.5l0.06 1.6M522.3 1009.5l0.05 1.6M533.8 1009.5l0.05 1.6M581.9 1009.5l0.04 1.6M592.0 1009.5l0.04 1.6M636.7 1009.5l0.04 1.6M645.6 1009.5l0.04 1.6M688.7 1009.5l0.03 1.6M696.3 1009.5l0.03 1.6M739.1 1009.5l0.03 1.6M745.4 1009.5l0.03 1.6M788.7 1009.5l0.02 1.6M793.7 1009.5l0.02 1.6M838.5 1009.5l0.02 1.6M842.0 1009.5l0.02 1.6M889.3 1009.5l0.01 1.6M891.0 1009.5l0.01 1.6M995.5 1009.5l0.01 1.6M997.5 1009.5l0.01 1.6M1054.0 1009.5l0.02 1.6M1058.4 1009.5l0.02 1.6M1120.7 1009.5l0.03 1.6M1128.3 1009.5l0.04 1.6M1204.7 1009.5l0.05 1.6M1218.1 1009.5l0.06 1.6M1379.5 1009.5l0.43 1.6M307.7 1009.5l0.09 1.6M328.3 1009.5l0.08 1.6M413.5 1009.5l0.06 1.6M427.6 1009.5l0.06 1.6M488.4 1009.5l0.05 1.6M500.4 1009.5l0.05 1.6M551.5 1009.5l0.05 1.6M562.3 1009.5l0.05 1.6M608.3 1009.5l0.04 1.6M618.1 1009.5l0.04 1.6M661.5 1009.5l0.04 1.6M670.2 1009.5l0.04 1.6M712.6 1009.5l0.03 1.6M720.1 1009.5l0.03 1.6M762.5 1009.5l0.03 1.6M768.8 1009.5l0.03 1.6M812.1 1009.5l0.02 1.6M817.0 1009.5l0.02 1.6M862.2 1009.5l0.02 1.6M865.6 1009.5l0.02 1.6M913.6 1009.5l0.01 1.6M915.4 1009.5l0.01 1.6M1023.1 1009.5l0.01 1.6M1025.2 1009.5l0.01 1.6M1085.0 1009.5l0.02 1.6M1089.7 1009.5l0.02 1.6M1158.2 1009.5l0.03 1.6M1166.7 1009.5l0.04 1.6M1260.0 1009.5l0.07 1.6M1278.9 1009.5l0.09 1.6M224.0 1009.5l0.19 1.6M363.9 1009.5l0.06 1.6M379.2 1009.5l0.07 1.6M450.4 1009.5l0.06 1.6M462.9 1009.5l0.05 1.6M518.6 1009.5l0.05 1.6M529.9 1009.5l0.05 1.6M578.3 1009.5l0.05 1.6M588.7 1009.5l0.04 1.6M633.2 1009.5l0.04 1.6M642.7 1009.5l0.04 1.6M685.1 1009.5l0.04 1.6M693.7 1009.5l0.04 1.6M735.5 1009.5l0.03 1.6M742.9 1009.5l0.03 1.6M785.1 1009.5l0.03 1.6M791.4 1009.5l0.03 1.6M834.7 1009.5l0.02 1.6M839.7 1009.5l0.02 1.6M885.3 1009.5l0.02 1.6M888.8 1009.5l0.02 1.6M937.6 1009.5l0.01 1.6M939.5 1009.5l0.01 1.6M1051.2 1009.5l0.01 1.6M1053.4 1009.5l0.01 1.6M1117.4 1009.5l0.02 1.6M1122.5 1009.5l0.03 1.6M1199.9 1009.5l0.04 1.6M1210.1 1009.5l0.04 1.6M1353.1 1009.5l0.19 1.6" stroke-dasharray="none"/>
</g></g>
<text class="tk" transform="translate(241.25 1073.6) scale(0.928 1)" text-anchor="middle">-80</text>
<text class="tk" transform="translate(377.75 1073.6) scale(0.928 1)" text-anchor="middle">-60</text>
<text class="tk" transform="translate(514.25 1073.6) scale(0.928 1)" text-anchor="middle">-40</text>
<text class="tk" transform="translate(650.75 1073.6) scale(0.928 1)" text-anchor="middle">-20</text>
<text class="tk" transform="translate(787.25 1073.6) scale(0.928 1)" text-anchor="middle">0</text>
<text class="tk" transform="translate(923.75 1073.6) scale(0.928 1)" text-anchor="middle">20</text>
<text class="tk" transform="translate(1060.25 1073.6) scale(0.928 1)" text-anchor="middle">40</text>
<text class="tk" transform="translate(1196.75 1073.6) scale(0.928 1)" text-anchor="middle">60</text>
<text class="tk" transform="translate(1333.25 1073.6) scale(0.928 1)" text-anchor="middle">80</text>
<text class="tk" transform="translate(156.6 68.40) scale(0.928 1)" text-anchor="end">5</text>
<text class="tk" transform="translate(156.6 188.40) scale(0.928 1)" text-anchor="end">0</text>
<text class="tk" transform="translate(156.6 308.40) scale(0.928 1)" text-anchor="end">-5</text>
<text class="tk" transform="translate(156.6 428.40) scale(0.928 1)" text-anchor="end">-10</text>
<text class="tk" transform="translate(156.6 548.40) scale(0.928 1)" text-anchor="end">-15</text>
<text class="tk" transform="translate(156.6 668.40) scale(0.928 1)" text-anchor="end">-20</text>
<text class="tk" transform="translate(156.6 788.40) scale(0.928 1)" text-anchor="end">-25</text>
<text class="tk" transform="translate(156.6 908.40) scale(0.928 1)" text-anchor="end">-30</text>
<text class="tk" transform="translate(156.6 1028.40) scale(0.928 1)" text-anchor="end">-35</text>
<text class="lb" x="685.3" y="1139.8">Angle <tspan class="rg" dx="-2.4">(</tspan><tspan x="858.2" y="1143.6" font-size="55" font-weight="normal">°</tspan><tspan class="rg" x="884" y="1139.8">)</tspan></text>
<text class="lb" transform="translate(69.1 530.3) rotate(-90)" text-anchor="middle">Transmit beampattern <tspan class="rg">(</tspan>dB<tspan class="rg">)</tspan></text>
<rect x="1076.5" y="79.4" width="296" height="63.1" fill="#fff" stroke="#262626" stroke-width="2.8"/>
<path d="M1087 111H1202.2" stroke="#000" stroke-width="10" stroke-dasharray="28.6 26" fill="none" shape-rendering="crispEdges"/>
<text class="lg" transform="translate(1209.8 127.9) scale(0.983 1)">Desired</text>
</svg></body></html>
